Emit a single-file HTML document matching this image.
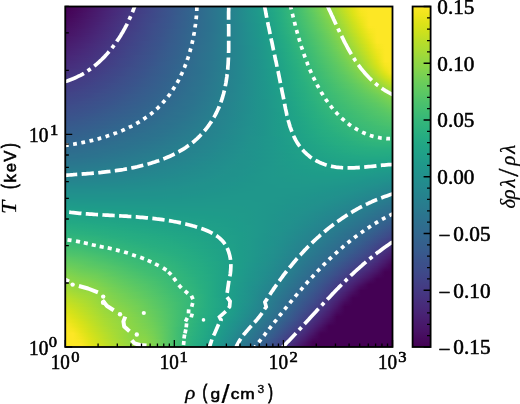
<!DOCTYPE html>
<html><head><meta charset="utf-8"><title>plot</title>
<style>
html,body{margin:0;padding:0;background:#fff}
body{width:520px;height:404px;position:relative;overflow:hidden;font-family:"Liberation Serif",serif}
#h{position:absolute;left:65px;top:6px;width:328px;height:341px;overflow:hidden}
#h i{display:block;height:1px;width:100%}
#cb{position:absolute;left:412px;top:6px;width:19px;height:341px;background:linear-gradient(180deg,#fde725,#efe51c,#dde318,#cde11d,#bade28,#aadc32,#98d83e,#89d548,#77d153,#67cc5c,#5ac864,#4cc26c,#40bd72,#35b779,#2db27d,#25ac82,#21a585,#1fa088,#1f998a,#20938c,#228d8d,#24878e,#26818e,#297b8e,#2b748e,#2e6e8e,#31688e,#34618d,#375b8d,#3a538b,#3d4d8a,#404588,#433d84,#453581,#472d7b,#482576,#481c6e,#481467,#460a5d,#440154)}
svg{position:absolute;left:0;top:0}
text{font-family:"Liberation Serif",serif;fill:#000}
.k text{stroke:#000;stroke-width:0.55px}
text.s{font-family:"Liberation Sans",sans-serif}
text.si{font-style:italic}
</style></head><body>
<div id="h">
<i style="background:linear-gradient(90deg,#440154,#450559,#460b5e,#471365,#481a6c,#482071,#482878,#472e7c,#463480,#443b84,#424186,#3f4788,#3d4e8a,#3a538b,#38598c,#355f8d,#32658e,#2f6b8e,#2d718e,#2a778e,#287d8e,#25838e,#228b8d,#20928c,#1f998a,#1fa188,#22a884,#28ae80,#34b679,#40bd72,#52c569,#65cb5e,#7cd250,#93d741,#addc30,#cae11f,#e5e419,#fbe723,#fde725,#fde725,#fde725,#fde725)"></i>
<i style="background:linear-gradient(90deg,#440154,#450559,#460b5e,#471365,#481a6c,#482071,#482878,#472e7c,#453581,#443b84,#424186,#3f4788,#3d4e8a,#3a538b,#375a8c,#355f8d,#32658e,#2f6b8e,#2d718e,#2a778e,#287d8e,#25838e,#228b8d,#20928c,#1f998a,#1fa188,#22a785,#28ae80,#32b67a,#40bd72,#52c569,#65cb5e,#7ad151,#93d741,#addc30,#c8e020,#e2e418,#fbe723,#fde725,#fde725,#fde725,#fde725)"></i>
<i style="background:linear-gradient(90deg,#440154,#46075a,#470d60,#471365,#481b6d,#482173,#482878,#472f7d,#453581,#443b84,#424186,#3f4889,#3d4e8a,#3a538b,#375a8c,#355f8d,#32658e,#2f6b8e,#2d718e,#2a778e,#287d8e,#25838e,#238a8d,#20928c,#1f998a,#1fa188,#22a785,#28ae80,#32b67a,#40bd72,#52c569,#65cb5e,#7ad151,#90d743,#aadc32,#c8e020,#e2e418,#fbe723,#fde725,#fde725,#fde725,#fde725)"></i>
<i style="background:linear-gradient(90deg,#440154,#46075a,#470d60,#481467,#481b6d,#482173,#482878,#472f7d,#453581,#443b84,#414287,#3f4889,#3d4e8a,#3a538b,#375a8c,#355f8d,#32658e,#2f6b8e,#2d718e,#2a778e,#287d8e,#25838e,#238a8d,#20928c,#1f998a,#1fa088,#22a785,#28ae80,#32b67a,#40bd72,#50c46a,#63cb5f,#7ad151,#90d743,#aadc32,#c5e021,#e2e418,#f8e621,#fde725,#fde725,#fde725,#fde725)"></i>
<i style="background:linear-gradient(90deg,#440256,#46075a,#470d60,#481467,#481b6d,#482173,#482979,#472f7d,#453581,#433d84,#414287,#3f4889,#3d4e8a,#3a548c,#375a8c,#355f8d,#32658e,#2f6b8e,#2d718e,#2a778e,#287d8e,#25838e,#238a8d,#20928c,#1f988b,#1fa088,#22a785,#28ae80,#32b67a,#3fbc73,#50c46a,#63cb5f,#77d153,#8ed645,#a8db34,#c5e021,#dfe318,#f8e621,#fde725,#fde725,#fde725,#fde725)"></i>
<i style="background:linear-gradient(90deg,#440256,#46085c,#470e61,#481467,#481b6d,#482374,#482979,#472f7d,#453781,#433d84,#414287,#3f4889,#3d4e8a,#3a548c,#375a8c,#34608d,#32658e,#2f6b8e,#2d718e,#2a778e,#287d8e,#25838e,#238a8d,#20928c,#1f988b,#1fa088,#22a785,#28ae80,#32b67a,#3fbc73,#50c46a,#63cb5f,#77d153,#8ed645,#a8db34,#c2df23,#dfe318,#f6e620,#fde725,#fde725,#fde725,#fde725)"></i>
<i style="background:linear-gradient(90deg,#450457,#46085c,#470e61,#481668,#481c6e,#482374,#482979,#46307e,#453781,#433d84,#414287,#3f4889,#3c4f8a,#3a548c,#375a8c,#34608d,#32658e,#2f6b8e,#2d718e,#2a778e,#287d8e,#25838e,#238a8d,#20928c,#1f988b,#1fa088,#21a685,#27ad81,#32b67a,#3fbc73,#50c46a,#60ca60,#75d054,#8bd646,#a5db36,#c2df23,#dde318,#f6e620,#fde725,#fde725,#fde725,#fde725)"></i>
<i style="background:linear-gradient(90deg,#450457,#46085c,#471063,#481668,#481c6e,#482374,#472a7a,#46307e,#453781,#433d84,#414287,#3e4989,#3c4f8a,#3a548c,#375a8c,#34608d,#32658e,#2f6b8e,#2d718e,#2a778e,#287d8e,#25838e,#238a8d,#21918c,#1f988b,#1fa088,#21a685,#27ad81,#31b57b,#3fbc73,#4ec36b,#60ca60,#75d054,#8bd646,#a5db36,#c0df25,#dde318,#f4e61e,#fde725,#fde725,#fde725,#fde725)"></i>
<i style="background:linear-gradient(90deg,#450559,#460a5d,#471063,#481769,#481d6f,#482475,#472a7a,#46307e,#453781,#433e85,#414487,#3e4989,#3c4f8a,#3a548c,#375a8c,#34608d,#32658e,#2f6b8e,#2d718e,#2a778e,#287d8e,#25838e,#238a8d,#21918c,#1f988b,#1f9f88,#21a685,#27ad81,#31b57b,#3fbc73,#4ec36b,#5ec962,#73d056,#89d548,#a2da37,#bddf26,#dae319,#f4e61e,#fde725,#fde725,#fde725,#fde725)"></i>
<i style="background:linear-gradient(90deg,#450559,#460a5d,#471063,#481769,#481d6f,#482475,#472a7a,#46327e,#453882,#433e85,#414487,#3e4989,#3c4f8a,#3a548c,#375b8d,#34608d,#32658e,#2f6b8e,#2d718e,#2a778e,#287d8e,#25838e,#238a8d,#21918c,#1f988b,#1f9f88,#21a685,#27ad81,#31b57b,#3dbc74,#4ec36b,#5ec962,#73d056,#89d548,#a0da39,#bddf26,#dae319,#f4e61e,#fde725,#fde725,#fde725,#fde725)"></i>
<i style="background:linear-gradient(90deg,#450559,#460b5e,#471164,#481769,#481d6f,#482475,#472c7a,#46327e,#453882,#433e85,#414487,#3e4989,#3c4f8a,#3a548c,#375b8d,#34608d,#31668e,#2f6b8e,#2d718e,#2a778e,#287d8e,#25838e,#238a8d,#21918c,#1f978b,#1f9f88,#21a685,#27ad81,#31b57b,#3dbc74,#4cc26c,#5ec962,#70cf57,#86d549,#a0da39,#bade28,#d8e219,#f1e51d,#fde725,#fde725,#fde725,#fde725)"></i>
<i style="background:linear-gradient(90deg,#46075a,#460b5e,#471164,#48186a,#481f70,#482576,#472c7a,#46327e,#453882,#433e85,#414487,#3e4989,#3c4f8a,#39558c,#375b8d,#34608d,#31668e,#2f6b8e,#2d718e,#2a778e,#287d8e,#25838e,#238a8d,#21918c,#1f978b,#1f9f88,#21a585,#26ad81,#31b57b,#3dbc74,#4cc26c,#5cc863,#70cf57,#86d549,#9dd93b,#bade28,#d5e21a,#efe51c,#fde725,#fde725,#fde725,#fde725)"></i>
<i style="background:linear-gradient(90deg,#46075a,#470d60,#471365,#48186a,#481f70,#482576,#472c7a,#46337f,#443983,#423f85,#404588,#3e4a89,#3c508b,#39558c,#375b8d,#34608d,#31668e,#2f6b8e,#2d718e,#2a778e,#287d8e,#25838e,#238a8d,#21918c,#1f978b,#1f9f88,#21a585,#26ad81,#31b57b,#3dbc74,#4cc26c,#5cc863,#6ece58,#84d44b,#9dd93b,#b8de29,#d5e21a,#efe51c,#fde725,#fde725,#fde725,#fde725)"></i>
<i style="background:linear-gradient(90deg,#46085c,#470d60,#471365,#481a6c,#481f70,#482677,#472d7b,#46337f,#443983,#423f85,#404588,#3e4a89,#3c508b,#39558c,#375b8d,#34608d,#31668e,#2f6c8e,#2c718e,#2a778e,#287d8e,#25838e,#238a8d,#21918c,#1f978b,#1f9e89,#21a585,#26ad81,#2fb47c,#3dbc74,#4ac16d,#5cc863,#6ece58,#81d34d,#9bd93c,#b5de2b,#d2e21b,#ece51b,#fde725,#fde725,#fde725,#fde725)"></i>
<i style="background:linear-gradient(90deg,#46085c,#470e61,#481467,#481a6c,#482071,#482677,#472d7b,#46337f,#443983,#423f85,#404588,#3e4a89,#3c508b,#39558c,#375b8d,#34608d,#31668e,#2f6c8e,#2c718e,#2a778e,#287d8e,#25838e,#238a8d,#21918c,#1f978b,#1f9e89,#21a585,#26ad81,#2fb47c,#3bbb75,#4ac16d,#5ac864,#6ccd5a,#81d34d,#98d83e,#b5de2b,#d2e21b,#ece51b,#fde725,#fde725,#fde725,#fde725)"></i>
<i style="background:linear-gradient(90deg,#460a5d,#470e61,#481467,#481a6c,#482071,#482677,#472d7b,#463480,#443a83,#423f85,#404588,#3e4a89,#3c508b,#39558c,#375b8d,#34618d,#31668e,#2f6c8e,#2c718e,#2a778e,#287d8e,#25838e,#238a8d,#21918c,#1f978b,#1f9e89,#21a585,#26ad81,#2fb47c,#3bbb75,#4ac16d,#5ac864,#6ccd5a,#7fd34e,#98d83e,#b2dd2d,#d0e11c,#eae51a,#fde725,#fde725,#fde725,#fde725)"></i>
<i style="background:linear-gradient(90deg,#460a5d,#471063,#481467,#481b6d,#482173,#482878,#472e7c,#463480,#443a83,#424086,#404688,#3e4a89,#3c508b,#39558c,#375b8d,#34618d,#31668e,#2f6c8e,#2c718e,#2a778e,#287d8e,#25838e,#238a8d,#21908d,#1f978b,#1f9e89,#20a486,#25ac82,#2fb47c,#3bbb75,#48c16e,#58c765,#69cd5b,#7fd34e,#95d840,#b2dd2d,#cde11d,#eae51a,#fde725,#fde725,#fde725,#fde725)"></i>
<i style="background:linear-gradient(90deg,#460b5e,#471063,#481668,#481b6d,#482173,#482878,#472e7c,#463480,#443a83,#424086,#404688,#3e4c8a,#3b518b,#39568c,#365c8d,#34618d,#31668e,#2f6c8e,#2c718e,#2a778e,#287d8e,#25838e,#23898e,#21908d,#1f968b,#1f9e89,#20a486,#25ac82,#2eb37c,#3aba76,#48c16e,#58c765,#69cd5b,#7cd250,#95d840,#b0dd2f,#cde11d,#e7e419,#fde725,#fde725,#fde725,#fde725)"></i>
<i style="background:linear-gradient(90deg,#460b5e,#471164,#481668,#481c6e,#482173,#482878,#472f7d,#453581,#443a83,#424086,#404688,#3e4c8a,#3b518b,#39568c,#365c8d,#34618d,#31668e,#2f6c8e,#2c718e,#2a778e,#287d8e,#25838e,#23898e,#21908d,#1f968b,#1e9d89,#20a486,#25ac82,#2eb37c,#3aba76,#48c16e,#56c667,#67cc5c,#7cd250,#93d741,#addc30,#cae11f,#e7e419,#fde725,#fde725,#fde725,#fde725)"></i>
<i style="background:linear-gradient(90deg,#470d60,#471164,#481769,#481c6e,#482374,#482979,#472f7d,#453581,#443b84,#424186,#404688,#3e4c8a,#3b518b,#39568c,#365c8d,#34618d,#31678e,#2f6c8e,#2c718e,#2a778e,#287d8e,#25838e,#23898e,#21908d,#1f968b,#1e9d89,#20a486,#25ac82,#2eb37c,#3aba76,#46c06f,#56c667,#67cc5c,#7ad151,#90d743,#addc30,#c8e020,#e5e419,#fde725,#fde725,#fde725,#fde725)"></i>
<i style="background:linear-gradient(90deg,#470d60,#471365,#481769,#481d6f,#482374,#482979,#472f7d,#453581,#443b84,#424186,#3f4788,#3e4c8a,#3b518b,#39568c,#365c8d,#34618d,#31678e,#2f6c8e,#2c718e,#2a778e,#287d8e,#25838e,#23898e,#21908d,#1f968b,#1e9d89,#20a486,#25ac82,#2eb37c,#38b977,#46c06f,#56c667,#67cc5c,#7ad151,#90d743,#aadc32,#c8e020,#e2e418,#fbe723,#fde725,#fde725,#fde725)"></i>
<i style="background:linear-gradient(90deg,#470e61,#471365,#48186a,#481d6f,#482475,#472a7a,#46307e,#453781,#443b84,#424186,#3f4788,#3d4d8a,#3b518b,#39568c,#365c8d,#34618d,#31678e,#2f6c8e,#2c718e,#2a778e,#287d8e,#25838e,#23898e,#21908d,#1f968b,#1e9d89,#20a386,#25ab82,#2db27d,#38b977,#46c06f,#54c568,#65cb5e,#77d153,#8ed645,#a8db34,#c5e021,#e2e418,#fbe723,#fde725,#fde725,#fde725)"></i>
<i style="background:linear-gradient(90deg,#471063,#481467,#48186a,#481f70,#482475,#472a7a,#46307e,#453781,#433d84,#424186,#3f4788,#3d4d8a,#3b528b,#39568c,#365c8d,#33628d,#31678e,#2f6c8e,#2c718e,#2a778e,#287d8e,#25838e,#23898e,#21908d,#1f968b,#1e9d89,#20a386,#25ab82,#2db27d,#38b977,#44bf70,#54c568,#65cb5e,#77d153,#8ed645,#a8db34,#c5e021,#dfe318,#f8e621,#fde725,#fde725,#fde725)"></i>
<i style="background:linear-gradient(90deg,#471063,#481467,#481a6c,#481f70,#482576,#472a7a,#46307e,#453781,#433d84,#414287,#3f4788,#3d4d8a,#3b528b,#38588c,#365d8d,#33628d,#31678e,#2e6d8e,#2c718e,#2a778e,#287d8e,#25838e,#23898e,#21908d,#1f968b,#1e9d89,#20a386,#25ab82,#2db27d,#37b878,#44bf70,#52c569,#63cb5f,#75d054,#8bd646,#a5db36,#c2df23,#dde318,#f6e620,#fde725,#fde725,#fde725)"></i>
<i style="background:linear-gradient(90deg,#471164,#481668,#481a6c,#482071,#482576,#472c7a,#46327e,#453882,#433d84,#414287,#3f4889,#3d4d8a,#3b528b,#38588c,#365d8d,#33628d,#31678e,#2e6d8e,#2c718e,#2a778e,#287d8e,#25838e,#23898e,#21908d,#1f958b,#1e9c89,#20a386,#25ab82,#2cb17e,#37b878,#44bf70,#52c569,#63cb5f,#75d054,#8bd646,#a5db36,#c0df25,#dde318,#f6e620,#fde725,#fde725,#fde725)"></i>
<i style="background:linear-gradient(90deg,#471164,#481668,#481b6d,#482071,#482677,#472c7a,#46327e,#453882,#433e85,#414287,#3f4889,#3d4e8a,#3b528b,#38588c,#365d8d,#33628d,#31678e,#2e6d8e,#2c718e,#2a778e,#287d8e,#25838e,#23898e,#21908d,#1f958b,#1e9c89,#20a386,#24aa83,#2cb17e,#37b878,#42be71,#52c569,#60ca60,#73d056,#89d548,#a2da37,#c0df25,#dae319,#f4e61e,#fde725,#fde725,#fde725)"></i>
<i style="background:linear-gradient(90deg,#471365,#481769,#481b6d,#482071,#482677,#472d7b,#46337f,#453882,#433e85,#414487,#3f4889,#3d4e8a,#3b528b,#38588c,#365d8d,#33628d,#31678e,#2e6d8e,#2c728e,#2a778e,#287d8e,#25838e,#23898e,#218f8d,#1f958b,#1e9c89,#1fa287,#24aa83,#2cb17e,#35b779,#42be71,#50c46a,#60ca60,#73d056,#86d549,#a0da39,#bddf26,#dae319,#f4e61e,#fde725,#fde725,#fde725)"></i>
<i style="background:linear-gradient(90deg,#471365,#481769,#481c6e,#482173,#482677,#472d7b,#46337f,#443983,#433e85,#414487,#3f4889,#3d4e8a,#3a538b,#38588c,#365d8d,#33628d,#31688e,#2e6d8e,#2c728e,#2a778e,#277e8e,#25838e,#23898e,#218f8d,#1f958b,#1e9c89,#1fa287,#24aa83,#2cb17e,#35b779,#42be71,#50c46a,#5ec962,#70cf57,#86d549,#a0da39,#bade28,#d8e219,#f1e51d,#fde725,#fde725,#fde725)"></i>
<i style="background:linear-gradient(90deg,#481467,#48186a,#481c6e,#482173,#482878,#472e7c,#46337f,#443983,#423f85,#414487,#3e4989,#3d4e8a,#3a538b,#38598c,#355e8d,#33638d,#31688e,#2e6d8e,#2c728e,#2a788e,#277e8e,#25838e,#23898e,#218f8d,#1f958b,#1e9c89,#1fa287,#24aa83,#2ab07f,#35b779,#40bd72,#4ec36b,#5ec962,#70cf57,#84d44b,#9dd93b,#b8de29,#d5e21a,#efe51c,#fde725,#fde725,#fde725)"></i>
<i style="background:linear-gradient(90deg,#481467,#48186a,#481d6f,#482374,#482878,#472e7c,#463480,#443a83,#423f85,#404588,#3e4989,#3c4f8a,#3a538b,#38598c,#355e8d,#33638d,#31688e,#2e6d8e,#2c728e,#2a788e,#277e8e,#25838e,#23898e,#218f8d,#1f958b,#1e9c89,#1fa287,#23a983,#2ab07f,#34b679,#40bd72,#4ec36b,#5cc863,#6ece58,#84d44b,#9bd93c,#b8de29,#d5e21a,#efe51c,#fde725,#fde725,#fde725)"></i>
<i style="background:linear-gradient(90deg,#481668,#481a6c,#481d6f,#482374,#482979,#472e7c,#463480,#443a83,#423f85,#404588,#3e4989,#3c4f8a,#3a538b,#38598c,#355e8d,#33638d,#31688e,#2e6d8e,#2c728e,#2a788e,#277e8e,#25838e,#23898e,#218f8d,#1f958b,#1e9b8a,#1fa287,#23a983,#2ab07f,#34b679,#3fbc73,#4ec36b,#5cc863,#6ece58,#81d34d,#9bd93c,#b5de2b,#d2e21b,#ece51b,#fde725,#fde725,#fde725)"></i>
<i style="background:linear-gradient(90deg,#481769,#481b6d,#481f70,#482475,#482979,#472f7d,#463480,#443a83,#424086,#404588,#3e4a89,#3c4f8a,#3a548c,#38598c,#355e8d,#33638d,#31688e,#2e6d8e,#2c728e,#2a788e,#277e8e,#25838e,#23898e,#218f8d,#1f958b,#1e9b8a,#1fa187,#23a983,#29af7f,#34b679,#3fbc73,#4cc26c,#5cc863,#6ccd5a,#81d34d,#98d83e,#b2dd2d,#d0e11c,#ece51b,#fde725,#fde725,#fde725)"></i>
<i style="background:linear-gradient(90deg,#481769,#481b6d,#482071,#482475,#472a7a,#472f7d,#453581,#443b84,#424086,#404588,#3e4a89,#3c4f8a,#3a548c,#38598c,#355e8d,#33638d,#31688e,#2e6e8e,#2c728e,#2a788e,#277e8e,#25838e,#23898e,#218f8d,#1f948c,#1e9b8a,#1fa187,#23a983,#29af7f,#32b67a,#3fbc73,#4cc26c,#5ac864,#6ccd5a,#7fd34e,#95d840,#b2dd2d,#cde11d,#eae51a,#fde725,#fde725,#fde725)"></i>
<i style="background:linear-gradient(90deg,#48186a,#481c6e,#482071,#482576,#472a7a,#46307e,#453581,#443b84,#424086,#404688,#3e4a89,#3c4f8a,#3a548c,#375a8c,#355e8d,#33638d,#31688e,#2e6e8e,#2c728e,#2a788e,#277e8e,#25838e,#23898e,#218f8d,#1f948c,#1e9b8a,#1fa187,#22a884,#29af7f,#32b67a,#3dbc74,#4ac16d,#5ac864,#69cd5b,#7fd34e,#95d840,#b0dd2f,#cde11d,#e7e419,#fde725,#fde725,#fde725)"></i>
<i style="background:linear-gradient(90deg,#48186a,#481c6e,#482173,#482576,#472c7a,#46307e,#453781,#443b84,#424186,#404688,#3e4a89,#3c508b,#3a548c,#375a8c,#355f8d,#32648e,#30698e,#2e6e8e,#2c728e,#2a788e,#277e8e,#25838e,#23898e,#218f8d,#1f948c,#1e9b8a,#1fa187,#22a884,#29af7f,#32b67a,#3dbc74,#4ac16d,#58c765,#69cd5b,#7cd250,#93d741,#addc30,#cae11f,#e7e419,#fde725,#fde725,#fde725)"></i>
<i style="background:linear-gradient(90deg,#481a6c,#481d6f,#482173,#482677,#472c7a,#46327e,#453781,#433d84,#424186,#404688,#3e4c8a,#3c508b,#3a548c,#375a8c,#355f8d,#32648e,#30698e,#2e6e8e,#2c728e,#2a788e,#277e8e,#25838e,#23898e,#218f8d,#1f948c,#1e9b8a,#1fa187,#22a884,#28ae80,#32b67a,#3dbc74,#4ac16d,#58c765,#67cc5c,#7ad151,#90d743,#addc30,#c8e020,#e5e419,#fde725,#fde725,#fde725)"></i>
<i style="background:linear-gradient(90deg,#481b6d,#481d6f,#482374,#482677,#472d7b,#46327e,#453781,#433d84,#424186,#3f4788,#3e4c8a,#3c508b,#39558c,#375a8c,#355f8d,#32648e,#30698e,#2e6e8e,#2c738e,#2a788e,#277e8e,#25838e,#23898e,#218f8d,#1f948c,#1e9b8a,#1fa188,#22a884,#28ae80,#31b57b,#3bbb75,#48c16e,#56c667,#67cc5c,#7ad151,#90d743,#aadc32,#c8e020,#e2e418,#fde725,#fde725,#fde725)"></i>
<i style="background:linear-gradient(90deg,#481b6d,#481f70,#482374,#482878,#472d7b,#46327e,#453882,#433d84,#414287,#3f4788,#3e4c8a,#3b518b,#39558c,#375b8d,#355f8d,#32648e,#30698e,#2e6e8e,#2c738e,#2a788e,#277e8e,#25838e,#23898e,#218f8d,#1f948c,#1f9a8a,#1fa188,#22a785,#28ae80,#31b57b,#3bbb75,#48c16e,#56c667,#65cb5e,#77d153,#8ed645,#a8db34,#c5e021,#e2e418,#fbe723,#fde725,#fde725)"></i>
<i style="background:linear-gradient(90deg,#481c6e,#482071,#482475,#482979,#472e7c,#46337f,#453882,#433e85,#414287,#3f4788,#3e4c8a,#3b518b,#39558c,#375b8d,#355f8d,#32648e,#30698e,#2e6e8e,#2c738e,#2a788e,#277e8e,#25838e,#23898e,#218f8d,#1f948c,#1f9a8a,#1fa188,#22a785,#27ad81,#31b57b,#3bbb75,#48c16e,#56c667,#65cb5e,#77d153,#8ed645,#a8db34,#c2df23,#dfe318,#f8e621,#fde725,#fde725)"></i>
<i style="background:linear-gradient(90deg,#481c6e,#482071,#482475,#482979,#472e7c,#46337f,#443983,#433e85,#414287,#3f4788,#3d4d8a,#3b518b,#39558c,#375b8d,#34608d,#32648e,#30698e,#2e6f8e,#2c738e,#2a788e,#277e8e,#25838e,#23888e,#218e8d,#1f948c,#1f9a8a,#1fa188,#22a785,#27ad81,#2fb47c,#3aba76,#46c06f,#54c568,#63cb5f,#75d054,#8bd646,#a5db36,#c0df25,#dde318,#f8e621,#fde725,#fde725)"></i>
<i style="background:linear-gradient(90deg,#481d6f,#482173,#482576,#472a7a,#472f7d,#463480,#443983,#433e85,#414487,#3f4889,#3d4d8a,#3b518b,#39568c,#375b8d,#34608d,#32658e,#306a8e,#2e6f8e,#2c738e,#2a788e,#277e8e,#25838e,#23888e,#218e8d,#1f948c,#1f9a8a,#1fa188,#22a785,#27ad81,#2fb47c,#3aba76,#46c06f,#54c568,#63cb5f,#75d054,#89d548,#a2da37,#c0df25,#dde318,#f6e620,#fde725,#fde725)"></i>
<i style="background:linear-gradient(90deg,#481f70,#482173,#482576,#472a7a,#472f7d,#463480,#443983,#423f85,#414487,#3f4889,#3d4d8a,#3b528b,#39568c,#375b8d,#34608d,#32658e,#306a8e,#2e6f8e,#2c738e,#2a788e,#277e8e,#25838e,#23888e,#218e8d,#20938c,#1f9a8a,#1fa188,#22a785,#27ad81,#2fb47c,#3aba76,#44bf70,#52c569,#60ca60,#73d056,#89d548,#a0da39,#bddf26,#dae319,#f6e620,#fde725,#fde725)"></i>
<i style="background:linear-gradient(90deg,#481f70,#482374,#482677,#472c7a,#46307e,#453581,#443a83,#423f85,#414487,#3f4889,#3d4e8a,#3b528b,#39568c,#365c8d,#34608d,#32658e,#306a8e,#2e6f8e,#2c738e,#29798e,#277e8e,#25838e,#23888e,#218e8d,#20938c,#1f9a8a,#1fa088,#21a685,#26ad81,#2eb37c,#38b977,#44bf70,#52c569,#60ca60,#73d056,#86d549,#a0da39,#bade28,#d8e219,#f4e61e,#fde725,#fde725)"></i>
<i style="background:linear-gradient(90deg,#482071,#482374,#482878,#472c7a,#46307e,#453581,#443a83,#423f85,#404588,#3e4989,#3d4e8a,#3b528b,#39568c,#365c8d,#34608d,#32658e,#306a8e,#2e6f8e,#2c738e,#29798e,#277e8e,#25838e,#23888e,#218e8d,#20938c,#1f9a8a,#1fa088,#21a685,#26ad81,#2eb37c,#38b977,#44bf70,#52c569,#60ca60,#70cf57,#84d44b,#9dd93b,#bade28,#d8e219,#f1e51d,#fde725,#fde725)"></i>
<i style="background:linear-gradient(90deg,#482071,#482475,#482878,#472d7b,#46327e,#453781,#443b84,#424086,#404588,#3e4989,#3d4e8a,#3b528b,#38588c,#365c8d,#34618d,#32658e,#306a8e,#2e6f8e,#2c738e,#29798e,#277e8e,#25838e,#23888e,#218e8d,#20938c,#1f998a,#1fa088,#21a685,#26ad81,#2eb37c,#38b977,#42be71,#50c46a,#5ec962,#70cf57,#84d44b,#9bd93c,#b8de29,#d5e21a,#f1e51d,#fde725,#fde725)"></i>
<i style="background:linear-gradient(90deg,#482173,#482576,#482979,#472d7b,#46327e,#453781,#443b84,#424086,#404588,#3e4989,#3d4e8a,#3a538b,#38588c,#365c8d,#34618d,#31668e,#306a8e,#2e6f8e,#2c738e,#29798e,#277e8e,#25838e,#23888e,#218e8d,#20938c,#1f998a,#1fa088,#21a685,#26ad81,#2eb37c,#37b878,#42be71,#50c46a,#5ec962,#6ece58,#81d34d,#9bd93c,#b5de2b,#d2e21b,#efe51c,#fde725,#fde725)"></i>
<i style="background:linear-gradient(90deg,#482374,#482576,#482979,#472e7c,#46337f,#453781,#443b84,#424086,#404688,#3e4a89,#3c4f8a,#3a538b,#38588c,#365d8d,#34618d,#31668e,#2f6b8e,#2e6f8e,#2b748e,#29798e,#277e8e,#25838e,#23888e,#218e8d,#20938c,#1f998a,#1fa088,#21a585,#25ac82,#2db27d,#37b878,#42be71,#4ec36b,#5cc863,#6ccd5a,#81d34d,#98d83e,#b2dd2d,#d0e11c,#efe51c,#fde725,#fde725)"></i>
<i style="background:linear-gradient(90deg,#482374,#482677,#472a7a,#472e7c,#46337f,#453882,#433d84,#424186,#404688,#3e4a89,#3c4f8a,#3a538b,#38588c,#365d8d,#34618d,#31668e,#2f6b8e,#2d708e,#2b748e,#29798e,#277e8e,#25838e,#23888e,#218e8d,#20938c,#1f998a,#1fa088,#21a585,#25ac82,#2db27d,#37b878,#40bd72,#4ec36b,#5cc863,#6ccd5a,#7fd34e,#95d840,#b2dd2d,#d0e11c,#ece51b,#fde725,#fde725)"></i>
<i style="background:linear-gradient(90deg,#482475,#482677,#472a7a,#472f7d,#46337f,#453882,#433d84,#424186,#404688,#3e4a89,#3c4f8a,#3a538b,#38598c,#365d8d,#34618d,#31668e,#2f6b8e,#2d708e,#2b748e,#29798e,#277e8e,#25838e,#23888e,#218e8d,#20938c,#1f998a,#1f9f88,#21a585,#25ac82,#2db27d,#37b878,#40bd72,#4ec36b,#5ac864,#69cd5b,#7cd250,#93d741,#b0dd2f,#cde11d,#eae51a,#fde725,#fde725)"></i>
<i style="background:linear-gradient(90deg,#482576,#482878,#472c7a,#472f7d,#463480,#443983,#433e85,#414287,#3f4788,#3e4c8a,#3c508b,#3a548c,#38598c,#365d8d,#33628d,#31668e,#2f6b8e,#2d708e,#2b748e,#29798e,#277e8e,#25838e,#23888e,#218e8d,#20938c,#1f998a,#1f9f88,#21a585,#25ac82,#2cb17e,#35b779,#40bd72,#4cc26c,#5ac864,#69cd5b,#7cd250,#93d741,#addc30,#cae11f,#eae51a,#fde725,#fde725)"></i>
<i style="background:linear-gradient(90deg,#482576,#482979,#472d7b,#46307e,#463480,#443983,#433e85,#414287,#3f4788,#3e4c8a,#3c508b,#3a548c,#38598c,#365d8d,#33628d,#31668e,#2f6b8e,#2d708e,#2b748e,#29798e,#277e8e,#25838e,#23888e,#218e8d,#20938c,#1f998a,#1f9f88,#21a585,#25ab82,#2cb17e,#35b779,#3fbc73,#4cc26c,#58c765,#67cc5c,#7ad151,#90d743,#aadc32,#c8e020,#e7e419,#fde725,#fde725)"></i>
<i style="background:linear-gradient(90deg,#482677,#482979,#472d7b,#46307e,#453581,#443a83,#423f85,#414287,#3f4788,#3e4c8a,#3c508b,#3a548c,#38598c,#355e8d,#33628d,#31678e,#2f6b8e,#2d708e,#2b748e,#29798e,#277e8e,#25838e,#23888e,#218e8d,#20938c,#1f998a,#1f9f88,#21a585,#25ab82,#2cb17e,#35b779,#3fbc73,#4ac16d,#58c765,#67cc5c,#7ad151,#8ed645,#a8db34,#c8e020,#e7e419,#fde725,#fde725)"></i>
<i style="background:linear-gradient(90deg,#482677,#472a7a,#472e7c,#46327e,#453581,#443a83,#423f85,#414487,#3f4889,#3e4c8a,#3c508b,#3a548c,#375a8c,#355e8d,#33628d,#31678e,#2f6b8e,#2d708e,#2b748e,#29798e,#277e8e,#25838e,#23888e,#218e8d,#20938c,#1f998a,#1f9f88,#20a486,#25ab82,#2cb17e,#34b679,#3fbc73,#4ac16d,#56c667,#65cb5e,#77d153,#8ed645,#a8db34,#c5e021,#e5e419,#fde725,#fde725)"></i>
<i style="background:linear-gradient(90deg,#482878,#472a7a,#472e7c,#46327e,#453781,#443b84,#423f85,#414487,#3f4889,#3d4d8a,#3b518b,#39558c,#375a8c,#355e8d,#33638d,#31678e,#2f6c8e,#2d708e,#2b748e,#29798e,#277f8e,#25838e,#23888e,#218e8d,#20928c,#1f988b,#1f9f88,#20a486,#25ab82,#2ab07f,#34b679,#3dbc74,#4ac16d,#56c667,#65cb5e,#75d054,#8bd646,#a5db36,#c2df23,#e2e418,#fde725,#fde725)"></i>
<i style="background:linear-gradient(90deg,#482979,#472c7a,#472f7d,#46337f,#453781,#443b84,#424086,#404588,#3f4889,#3d4d8a,#3b518b,#39558c,#375a8c,#355e8d,#33638d,#31678e,#2f6c8e,#2d718e,#2b748e,#29798e,#277f8e,#25838e,#23888e,#218e8d,#20928c,#1f988b,#1f9f88,#20a486,#25ab82,#2ab07f,#34b679,#3dbc74,#48c16e,#56c667,#63cb5f,#75d054,#89d548,#a2da37,#c0df25,#dfe318,#fde725,#fde725)"></i>
<i style="background:linear-gradient(90deg,#482979,#472d7b,#472f7d,#46337f,#453882,#433d84,#424086,#404588,#3e4989,#3d4d8a,#3b518b,#39558c,#375a8c,#355f8d,#33638d,#31678e,#2f6c8e,#2d718e,#2b758e,#297a8e,#277f8e,#25838e,#23888e,#218e8d,#20928c,#1f988b,#1f9e89,#20a486,#24aa83,#2ab07f,#32b67a,#3dbc74,#48c16e,#54c568,#63cb5f,#73d056,#86d549,#a0da39,#bddf26,#dfe318,#fde725,#fde725)"></i>
<i style="background:linear-gradient(90deg,#472a7a,#472d7b,#46307e,#463480,#453882,#433d84,#424186,#404588,#3e4989,#3d4e8a,#3b528b,#39568c,#375b8d,#355f8d,#33638d,#31688e,#2f6c8e,#2d718e,#2b758e,#297a8e,#277f8e,#25838e,#23888e,#218e8d,#20928c,#1f988b,#1f9e89,#20a486,#24aa83,#2ab07f,#32b67a,#3bbb75,#48c16e,#54c568,#60ca60,#70cf57,#86d549,#9dd93b,#bade28,#dde318,#fbe723,#fde725)"></i>
<i style="background:linear-gradient(90deg,#472c7a,#472e7c,#46327e,#453581,#443983,#433d84,#424186,#404688,#3e4989,#3d4e8a,#3b528b,#39568c,#375b8d,#355f8d,#33638d,#31688e,#2f6c8e,#2d718e,#2b758e,#297a8e,#277f8e,#25838e,#23888e,#218e8d,#20928c,#1f988b,#1f9e89,#20a386,#24aa83,#29af7f,#32b67a,#3bbb75,#46c06f,#52c569,#60ca60,#70cf57,#84d44b,#9bd93c,#bade28,#dae319,#f8e621,#fde725)"></i>
<i style="background:linear-gradient(90deg,#472c7a,#472f7d,#46327e,#453581,#443983,#433e85,#424186,#404688,#3e4a89,#3d4e8a,#3b528b,#39568c,#375b8d,#355f8d,#32648e,#31688e,#2e6d8e,#2d718e,#2b758e,#297a8e,#277f8e,#25838e,#23888e,#218e8d,#20928c,#1f988b,#1f9e89,#20a386,#24aa83,#29af7f,#32b67a,#3bbb75,#46c06f,#52c569,#5ec962,#6ece58,#81d34d,#9bd93c,#b8de29,#d8e219,#f8e621,#fde725)"></i>
<i style="background:linear-gradient(90deg,#472d7b,#472f7d,#46337f,#453781,#443a83,#433e85,#414287,#404688,#3e4a89,#3c4f8a,#3a538b,#39568c,#375b8d,#34608d,#32648e,#31688e,#2e6d8e,#2d718e,#2b758e,#297a8e,#277f8e,#25838e,#23888e,#218e8d,#20928c,#1f988b,#1f9e89,#20a386,#23a983,#29af7f,#31b57b,#3aba76,#44bf70,#50c46a,#5ec962,#6ece58,#7fd34e,#98d83e,#b5de2b,#d5e21a,#f6e620,#fde725)"></i>
<i style="background:linear-gradient(90deg,#472e7c,#46307e,#46337f,#453781,#443a83,#423f85,#414287,#3f4788,#3e4a89,#3c4f8a,#3a538b,#38588c,#365c8d,#34608d,#32648e,#31688e,#2e6d8e,#2d718e,#2b758e,#297a8e,#277f8e,#25838e,#23888e,#218e8d,#20928c,#1f988b,#1f9e89,#20a386,#23a983,#29af7f,#31b57b,#3aba76,#44bf70,#50c46a,#5cc863,#6ccd5a,#7fd34e,#95d840,#b2dd2d,#d2e21b,#f4e61e,#fde725)"></i>
<i style="background:linear-gradient(90deg,#472e7c,#46307e,#463480,#453882,#443b84,#423f85,#414487,#3f4788,#3e4c8a,#3c4f8a,#3a538b,#38588c,#365c8d,#34608d,#32648e,#30698e,#2e6d8e,#2c718e,#2b758e,#297a8e,#277f8e,#25838e,#23888e,#228d8d,#20928c,#1f988b,#1f9e89,#20a386,#23a983,#28ae80,#31b57b,#3aba76,#44bf70,#50c46a,#5cc863,#69cd5b,#7cd250,#93d741,#b0dd2f,#d0e11c,#f1e51d,#fde725)"></i>
<i style="background:linear-gradient(90deg,#472f7d,#46327e,#463480,#453882,#443b84,#424086,#414487,#3f4889,#3e4c8a,#3c508b,#3a538b,#38588c,#365c8d,#34608d,#32648e,#30698e,#2e6d8e,#2c718e,#2b758e,#297a8e,#277f8e,#25838e,#23888e,#228d8d,#20928c,#1f988b,#1e9d89,#20a386,#23a983,#28ae80,#2fb47c,#38b977,#42be71,#4ec36b,#5ac864,#69cd5b,#7ad151,#90d743,#addc30,#cde11d,#efe51c,#fde725)"></i>
<i style="background:linear-gradient(90deg,#472f7d,#46337f,#453581,#443983,#433d84,#424086,#404588,#3f4889,#3d4d8a,#3c508b,#3a548c,#38598c,#365c8d,#34608d,#32658e,#30698e,#2e6d8e,#2c718e,#2b758e,#297a8e,#277f8e,#25838e,#23888e,#228d8d,#20928c,#1f978b,#1e9d89,#1fa287,#23a983,#28ae80,#2fb47c,#38b977,#42be71,#4ec36b,#5ac864,#67cc5c,#7ad151,#8ed645,#a8db34,#cae11f,#ece51b,#fde725)"></i>
<i style="background:linear-gradient(90deg,#46307e,#46337f,#453781,#443983,#433d84,#424186,#404588,#3f4889,#3d4d8a,#3c508b,#3a548c,#38598c,#365d8d,#34618d,#32658e,#30698e,#2e6e8e,#2c718e,#2a768e,#297a8e,#277f8e,#25838e,#23888e,#228d8d,#20928c,#1f978b,#1e9d89,#1fa287,#22a884,#28ae80,#2fb47c,#38b977,#42be71,#4cc26c,#58c765,#67cc5c,#77d153,#8bd646,#a5db36,#c5e021,#eae51a,#fde725)"></i>
<i style="background:linear-gradient(90deg,#46327e,#463480,#453781,#443a83,#433e85,#424186,#404588,#3e4989,#3d4d8a,#3b518b,#3a548c,#38598c,#365d8d,#34618d,#32658e,#30698e,#2e6e8e,#2c718e,#2a768e,#297a8e,#277f8e,#25838e,#23888e,#228d8d,#20928c,#1f978b,#1e9d89,#1fa287,#22a884,#27ad81,#2fb47c,#38b977,#40bd72,#4cc26c,#58c765,#65cb5e,#75d054,#89d548,#a2da37,#c2df23,#e5e419,#fde725)"></i>
<i style="background:linear-gradient(90deg,#46327e,#463480,#453882,#443a83,#433e85,#414287,#404688,#3e4989,#3d4e8a,#3b518b,#39558c,#38598c,#365d8d,#34618d,#32658e,#306a8e,#2e6e8e,#2c718e,#2a768e,#297b8e,#277f8e,#25838e,#23888e,#228d8d,#20928c,#1f978b,#1e9d89,#1fa287,#22a884,#27ad81,#2eb37c,#37b878,#40bd72,#4ac16d,#56c667,#63cb5f,#73d056,#86d549,#a0da39,#c0df25,#e2e418,#fde725)"></i>
<i style="background:linear-gradient(90deg,#46337f,#453581,#453882,#443b84,#423f85,#414287,#404688,#3e4a89,#3d4e8a,#3b528b,#39558c,#375a8c,#365d8d,#34618d,#31668e,#306a8e,#2e6e8e,#2c718e,#2a768e,#297b8e,#277f8e,#25838e,#23888e,#228d8d,#20928c,#1f978b,#1e9d89,#1fa287,#22a884,#27ad81,#2eb37c,#37b878,#3fbc73,#4ac16d,#56c667,#63cb5f,#70cf57,#84d44b,#9dd93b,#bddf26,#dde318,#fbe723)"></i>
<i style="background:linear-gradient(90deg,#463480,#453781,#443983,#433d84,#423f85,#414487,#3f4788,#3e4a89,#3d4e8a,#3b528b,#39558c,#375a8c,#355e8d,#33628d,#31668e,#306a8e,#2e6e8e,#2c728e,#2a768e,#297b8e,#277f8e,#25838e,#23888e,#228d8d,#20928c,#1f978b,#1e9d89,#1fa287,#22a884,#27ad81,#2eb37c,#37b878,#3fbc73,#4ac16d,#54c568,#60ca60,#70cf57,#81d34d,#9bd93c,#b8de29,#dae319,#f6e620)"></i>
<i style="background:linear-gradient(90deg,#463480,#453781,#443a83,#433d84,#424086,#414487,#3f4788,#3e4a89,#3c4f8a,#3b528b,#39568c,#375a8c,#355e8d,#33628d,#31668e,#306a8e,#2e6e8e,#2c728e,#2a768e,#297b8e,#27808e,#25838e,#23888e,#228d8d,#20928c,#1f978b,#1e9d89,#1fa187,#22a785,#26ad81,#2db27d,#35b779,#3fbc73,#48c16e,#54c568,#5ec962,#6ece58,#81d34d,#98d83e,#b5de2b,#d5e21a,#f1e51d)"></i>
<i style="background:linear-gradient(90deg,#453581,#453882,#443a83,#433e85,#424086,#404588,#3f4889,#3e4c8a,#3c4f8a,#3a538b,#39568c,#375b8d,#355e8d,#33628d,#31668e,#306a8e,#2e6f8e,#2c728e,#2a768e,#297b8e,#27808e,#25838e,#23888e,#228d8d,#20928c,#1f978b,#1e9c89,#1fa187,#22a785,#26ad81,#2db27d,#35b779,#3dbc74,#48c16e,#52c569,#5ec962,#6ccd5a,#7fd34e,#93d741,#b0dd2f,#d0e11c,#ece51b)"></i>
<i style="background:linear-gradient(90deg,#453781,#443983,#443b84,#433e85,#424186,#404588,#3f4889,#3e4c8a,#3c508b,#3a538b,#39568c,#375b8d,#355f8d,#33628d,#31668e,#2f6b8e,#2e6f8e,#2c728e,#2a768e,#297b8e,#27808e,#25838e,#23888e,#228d8d,#20928c,#1f978b,#1e9c89,#1fa187,#22a785,#26ad81,#2db27d,#35b779,#3dbc74,#46c06f,#52c569,#5cc863,#6ccd5a,#7cd250,#90d743,#addc30,#cde11d,#e7e419)"></i>
<i style="background:linear-gradient(90deg,#453781,#443983,#443b84,#423f85,#414287,#404588,#3e4989,#3d4d8a,#3c508b,#3a538b,#38588c,#375b8d,#355f8d,#33638d,#31678e,#2f6b8e,#2e6f8e,#2c728e,#2a778e,#297b8e,#27808e,#25838e,#23888e,#228d8d,#20928c,#1f978b,#1e9c89,#1fa187,#22a785,#26ad81,#2db27d,#34b679,#3dbc74,#46c06f,#50c46a,#5cc863,#69cd5b,#7ad151,#8ed645,#a8db34,#c8e020,#e2e418)"></i>
<i style="background:linear-gradient(90deg,#453882,#443a83,#433d84,#423f85,#414287,#404688,#3e4989,#3d4d8a,#3c508b,#3a548c,#38588c,#375b8d,#355f8d,#33638d,#31678e,#2f6b8e,#2e6f8e,#2c728e,#2a778e,#297b8e,#27808e,#25848e,#23888e,#228d8d,#20928c,#1f978b,#1e9c89,#1fa187,#22a785,#25ac82,#2cb17e,#34b679,#3bbb75,#44bf70,#50c46a,#5ac864,#67cc5c,#77d153,#8bd646,#a5db36,#c2df23,#dde318)"></i>
<i style="background:linear-gradient(90deg,#453882,#443a83,#433e85,#424086,#414487,#404688,#3e4989,#3d4e8a,#3b518b,#3a548c,#38588c,#365c8d,#355f8d,#33638d,#31678e,#2f6b8e,#2e6f8e,#2c738e,#2a778e,#297b8e,#27808e,#25848e,#23888e,#228d8d,#20928c,#1f978b,#1e9c89,#1fa187,#21a685,#25ac82,#2cb17e,#34b679,#3bbb75,#44bf70,#4ec36b,#5ac864,#65cb5e,#75d054,#89d548,#a0da39,#bddf26,#d8e219)"></i>
<i style="background:linear-gradient(90deg,#443983,#443b84,#433e85,#424086,#414487,#3f4788,#3e4a89,#3d4e8a,#3b518b,#3a548c,#38598c,#365c8d,#34608d,#33638d,#31678e,#2f6b8e,#2e6f8e,#2c738e,#2a778e,#297b8e,#27808e,#25848e,#23888e,#228d8d,#20928c,#1f968b,#1e9c89,#1fa188,#21a685,#25ac82,#2cb17e,#32b67a,#3bbb75,#44bf70,#4ec36b,#58c765,#65cb5e,#73d056,#84d44b,#9dd93b,#b8de29,#d2e21b)"></i>
<i style="background:linear-gradient(90deg,#443a83,#433d84,#423f85,#424186,#404588,#3f4788,#3e4a89,#3d4e8a,#3b528b,#39558c,#38598c,#365c8d,#34608d,#32648e,#31678e,#2f6b8e,#2d708e,#2c738e,#2a778e,#287c8e,#27808e,#25848e,#23888e,#228d8d,#20928c,#1f968b,#1e9c89,#1fa188,#21a685,#25ac82,#2ab07f,#32b67a,#3aba76,#42be71,#4cc26c,#56c667,#63cb5f,#70cf57,#81d34d,#98d83e,#b2dd2d,#cde11d)"></i>
<i style="background:linear-gradient(90deg,#443a83,#433d84,#423f85,#414287,#404588,#3f4889,#3e4c8a,#3c4f8a,#3b528b,#39558c,#38598c,#365d8d,#34608d,#32648e,#31688e,#2f6c8e,#2d708e,#2c738e,#2a778e,#287c8e,#27808e,#25848e,#23888e,#228d8d,#20928c,#1f968b,#1e9c89,#1fa188,#21a685,#25ac82,#2ab07f,#32b67a,#3aba76,#42be71,#4cc26c,#56c667,#60ca60,#6ece58,#7fd34e,#95d840,#b0dd2f,#c8e020)"></i>
<i style="background:linear-gradient(90deg,#443b84,#433e85,#424086,#414287,#404688,#3f4889,#3e4c8a,#3c4f8a,#3b528b,#39568c,#375a8c,#365d8d,#34618d,#32648e,#31688e,#2f6c8e,#2d708e,#2c738e,#2a778e,#287c8e,#27808e,#25848e,#23898e,#228d8d,#20928c,#1f968b,#1e9c89,#1fa188,#21a685,#25ab82,#2ab07f,#31b57b,#3aba76,#40bd72,#4ac16d,#54c568,#5ec962,#6ccd5a,#7cd250,#90d743,#aadc32,#c2df23)"></i>
<i style="background:linear-gradient(90deg,#433d84,#433e85,#424086,#414487,#404688,#3e4989,#3d4d8a,#3c508b,#3a538b,#39568c,#375a8c,#365d8d,#34618d,#32648e,#31688e,#2f6c8e,#2d708e,#2c738e,#2a788e,#287c8e,#27808e,#25848e,#23898e,#228d8d,#20928c,#1f968b,#1e9b8a,#1fa188,#21a585,#25ab82,#2ab07f,#31b57b,#38b977,#40bd72,#4ac16d,#54c568,#5ec962,#69cd5b,#7ad151,#8ed645,#a5db36,#bddf26)"></i>
<i style="background:linear-gradient(90deg,#433d84,#423f85,#424186,#414487,#3f4788,#3e4989,#3d4d8a,#3c508b,#3a538b,#39568c,#375a8c,#355e8d,#34618d,#32658e,#31688e,#2f6c8e,#2d708e,#2b748e,#2a788e,#287c8e,#27808e,#25848e,#23898e,#228d8d,#20928c,#1f968b,#1e9b8a,#1fa188,#21a585,#25ab82,#29af7f,#31b57b,#38b977,#40bd72,#48c16e,#52c569,#5cc863,#69cd5b,#77d153,#89d548,#a0da39,#b8de29)"></i>
<i style="background:linear-gradient(90deg,#433e85,#424086,#414287,#404588,#3f4788,#3e4a89,#3d4e8a,#3b518b,#3a548c,#38588c,#375b8d,#355e8d,#34618d,#32658e,#30698e,#2e6d8e,#2d718e,#2b748e,#2a788e,#287c8e,#26818e,#25848e,#23898e,#228d8d,#20928c,#1f968b,#1e9b8a,#1fa088,#21a585,#25ab82,#29af7f,#2fb47c,#38b977,#3fbc73,#48c16e,#52c569,#5ac864,#67cc5c,#75d054,#86d549,#9bd93c,#b2dd2d)"></i>
<i style="background:linear-gradient(90deg,#433e85,#424086,#414287,#404588,#3f4889,#3e4a89,#3d4e8a,#3b518b,#3a548c,#38588c,#375b8d,#355e8d,#33628d,#32658e,#30698e,#2e6d8e,#2d718e,#2b748e,#2a788e,#287c8e,#26818e,#25848e,#23898e,#228d8d,#20928c,#1f968b,#1e9b8a,#1fa088,#21a585,#24aa83,#29af7f,#2fb47c,#37b878,#3fbc73,#46c06f,#50c46a,#5ac864,#65cb5e,#73d056,#84d44b,#98d83e,#addc30)"></i>
<i style="background:linear-gradient(90deg,#423f85,#424186,#414487,#404688,#3f4889,#3e4c8a,#3c4f8a,#3b528b,#3a548c,#38588c,#365c8d,#355f8d,#33628d,#32658e,#30698e,#2e6d8e,#2d718e,#2b748e,#2a788e,#287c8e,#26818e,#25848e,#23898e,#228d8d,#20928c,#1f968b,#1e9b8a,#1fa088,#21a585,#24aa83,#29af7f,#2fb47c,#37b878,#3fbc73,#46c06f,#4ec36b,#58c765,#63cb5f,#70cf57,#7fd34e,#93d741,#a8db34)"></i>
<i style="background:linear-gradient(90deg,#424086,#424186,#414487,#3f4788,#3e4989,#3e4c8a,#3c4f8a,#3b528b,#39558c,#38598c,#365c8d,#355f8d,#33628d,#31668e,#30698e,#2e6d8e,#2d718e,#2b748e,#2a788e,#287d8e,#26818e,#25848e,#23898e,#228d8d,#20928c,#1f968b,#1e9b8a,#1fa088,#20a486,#24aa83,#28ae80,#2fb47c,#37b878,#3dbc74,#46c06f,#4ec36b,#56c667,#60ca60,#6ece58,#7cd250,#8ed645,#a2da37)"></i>
<i style="background:linear-gradient(90deg,#424086,#414287,#404588,#3f4788,#3e4989,#3d4d8a,#3c508b,#3b528b,#39558c,#38598c,#365c8d,#355f8d,#33638d,#31668e,#306a8e,#2e6d8e,#2d718e,#2b748e,#29798e,#287d8e,#26818e,#25848e,#23898e,#228d8d,#20928c,#1f968b,#1e9b8a,#1fa088,#20a486,#24aa83,#28ae80,#2eb37c,#35b779,#3dbc74,#44bf70,#4cc26c,#56c667,#60ca60,#6ccd5a,#7ad151,#8bd646,#9dd93b)"></i>
<i style="background:linear-gradient(90deg,#424186,#414487,#404688,#3f4889,#3e4a89,#3d4d8a,#3c508b,#3a538b,#39568c,#375a8c,#365d8d,#34608d,#33638d,#31668e,#306a8e,#2e6e8e,#2c718e,#2b758e,#29798e,#287d8e,#26818e,#25848e,#23898e,#228d8d,#20928c,#1f968b,#1e9b8a,#1fa088,#20a486,#23a983,#28ae80,#2eb37c,#35b779,#3bbb75,#44bf70,#4cc26c,#54c568,#5ec962,#69cd5b,#77d153,#86d549,#9bd93c)"></i>
<i style="background:linear-gradient(90deg,#414287,#414487,#404688,#3f4889,#3e4c8a,#3d4e8a,#3b518b,#3a538b,#39568c,#375a8c,#365d8d,#34608d,#33638d,#31678e,#306a8e,#2e6e8e,#2c718e,#2b758e,#29798e,#287d8e,#26818e,#25858e,#23898e,#228d8d,#20928c,#1f968b,#1e9b8a,#1fa088,#20a486,#23a983,#27ad81,#2eb37c,#35b779,#3bbb75,#42be71,#4ac16d,#54c568,#5cc863,#67cc5c,#73d056,#84d44b,#95d840)"></i>
<i style="background:linear-gradient(90deg,#414287,#404588,#3f4788,#3e4989,#3e4c8a,#3c4f8a,#3b518b,#3a548c,#38588c,#375b8d,#365d8d,#34618d,#32648e,#31678e,#306a8e,#2e6e8e,#2c718e,#2b758e,#29798e,#287d8e,#26818e,#25858e,#23898e,#228d8d,#20928c,#1f968b,#1e9b8a,#1f9f88,#20a486,#23a983,#27ad81,#2db27d,#34b679,#3bbb75,#42be71,#4ac16d,#52c569,#5ac864,#65cb5e,#70cf57,#81d34d,#90d743)"></i>
<i style="background:linear-gradient(90deg,#414487,#404588,#3f4788,#3e4989,#3d4d8a,#3c4f8a,#3b528b,#3a548c,#38588c,#375b8d,#355e8d,#34618d,#32648e,#31678e,#2f6b8e,#2e6f8e,#2c718e,#2b758e,#29798e,#287d8e,#26828e,#25858e,#23898e,#228d8d,#20928c,#1f968b,#1f9a8a,#1f9f88,#20a386,#23a983,#27ad81,#2db27d,#34b679,#3aba76,#40bd72,#48c16e,#50c46a,#5ac864,#63cb5f,#6ece58,#7cd250,#8ed645)"></i>
<i style="background:linear-gradient(90deg,#414487,#404688,#3f4889,#3e4a89,#3d4d8a,#3c508b,#3b528b,#39558c,#38598c,#375b8d,#355e8d,#34618d,#32648e,#31688e,#2f6b8e,#2e6f8e,#2c728e,#2a768e,#29798e,#277e8e,#26828e,#25858e,#23898e,#218e8d,#20928c,#1f968b,#1f9a8a,#1f9f88,#20a386,#23a983,#27ad81,#2db27d,#34b679,#3aba76,#40bd72,#48c16e,#50c46a,#58c765,#60ca60,#6ccd5a,#7ad151,#89d548)"></i>
<i style="background:linear-gradient(90deg,#404588,#3f4788,#3f4889,#3e4a89,#3d4e8a,#3c508b,#3a538b,#39558c,#38598c,#365c8d,#355f8d,#33628d,#32658e,#31688e,#2f6b8e,#2e6f8e,#2c728e,#2a768e,#297a8e,#277e8e,#26828e,#25858e,#23898e,#218e8d,#20928c,#1f968b,#1f9a8a,#1f9f88,#20a386,#22a884,#26ad81,#2cb17e,#32b67a,#3aba76,#40bd72,#46c06f,#4ec36b,#56c667,#60ca60,#69cd5b,#77d153,#86d549)"></i>
<i style="background:linear-gradient(90deg,#404688,#3f4788,#3e4989,#3e4c8a,#3d4e8a,#3b518b,#3a538b,#39568c,#38598c,#365c8d,#355f8d,#33628d,#32658e,#31688e,#2f6c8e,#2e6f8e,#2c728e,#2a768e,#297a8e,#277e8e,#26828e,#25858e,#23898e,#218e8d,#20928c,#1f968b,#1f9a8a,#1f9f88,#20a386,#22a884,#26ad81,#2cb17e,#32b67a,#38b977,#3fbc73,#46c06f,#4ec36b,#56c667,#5ec962,#67cc5c,#75d054,#84d44b)"></i>
<i style="background:linear-gradient(90deg,#404688,#3f4889,#3e4a89,#3d4d8a,#3c4f8a,#3b518b,#3a548c,#39568c,#375a8c,#365d8d,#355f8d,#33628d,#31668e,#30698e,#2f6c8e,#2d708e,#2c728e,#2a768e,#297a8e,#277e8e,#26828e,#25858e,#23898e,#218e8d,#20928c,#1f958b,#1f9a8a,#1f9f88,#20a386,#22a884,#26ad81,#2cb17e,#32b67a,#38b977,#3fbc73,#46c06f,#4cc26c,#54c568,#5cc863,#65cb5e,#73d056,#7fd34e)"></i>
<i style="background:linear-gradient(90deg,#3f4788,#3e4989,#3e4a89,#3d4d8a,#3c4f8a,#3b528b,#3a548c,#38588c,#375a8c,#365d8d,#34608d,#33638d,#31668e,#30698e,#2f6c8e,#2d708e,#2c738e,#2a768e,#297a8e,#277e8e,#26828e,#25858e,#23898e,#218e8d,#20928c,#1f958b,#1f9a8a,#1f9f88,#20a386,#22a884,#26ad81,#2cb17e,#31b57b,#38b977,#3dbc74,#44bf70,#4cc26c,#52c569,#5ac864,#65cb5e,#70cf57,#7cd250)"></i>
<i style="background:linear-gradient(90deg,#3f4889,#3e4989,#3e4c8a,#3d4e8a,#3c508b,#3b528b,#39558c,#38588c,#375b8d,#365d8d,#34608d,#33638d,#31668e,#30698e,#2e6d8e,#2d708e,#2c738e,#2a778e,#297a8e,#277e8e,#26828e,#25858e,#238a8d,#218e8d,#20928c,#1f958b,#1f9a8a,#1f9f88,#1fa287,#22a785,#25ac82,#2ab07f,#31b57b,#37b878,#3dbc74,#44bf70,#4ac16d,#52c569,#5ac864,#63cb5f,#6ece58,#7ad151)"></i>
<i style="background:linear-gradient(90deg,#3f4889,#3e4a89,#3e4c8a,#3d4e8a,#3b518b,#3a538b,#39558c,#38598c,#375b8d,#355e8d,#34618d,#32648e,#31678e,#306a8e,#2e6d8e,#2d708e,#2c738e,#2a778e,#297b8e,#277f8e,#26828e,#24868e,#238a8d,#218e8d,#20928c,#1f958b,#1f9a8a,#1f9e89,#1fa287,#22a785,#25ac82,#2ab07f,#31b57b,#37b878,#3dbc74,#42be71,#4ac16d,#50c46a,#58c765,#60ca60,#6ccd5a,#77d153)"></i>
<i style="background:linear-gradient(90deg,#3e4989,#3e4a89,#3d4d8a,#3c4f8a,#3b518b,#3a538b,#39568c,#38598c,#365c8d,#355e8d,#34618d,#32648e,#31678e,#306a8e,#2e6d8e,#2d718e,#2c738e,#2a778e,#297b8e,#277f8e,#26828e,#24868e,#238a8d,#218e8d,#20928c,#1f958b,#1f9a8a,#1f9e89,#1fa287,#22a785,#25ac82,#2ab07f,#2fb47c,#35b779,#3bbb75,#42be71,#48c16e,#50c46a,#56c667,#5ec962,#69cd5b,#75d054)"></i>
<i style="background:linear-gradient(90deg,#3e4a89,#3e4c8a,#3d4e8a,#3c508b,#3b528b,#3a548c,#39568c,#375a8c,#365c8d,#355f8d,#33628d,#32648e,#31678e,#306a8e,#2e6e8e,#2d718e,#2b748e,#2a778e,#297b8e,#277f8e,#26828e,#24868e,#238a8d,#218e8d,#20928c,#1f958b,#1f9a8a,#1f9e89,#1fa287,#22a785,#25ac82,#29af7f,#2fb47c,#35b779,#3bbb75,#40bd72,#48c16e,#4ec36b,#56c667,#5cc863,#67cc5c,#73d056)"></i>
<i style="background:linear-gradient(90deg,#3e4a89,#3d4d8a,#3d4e8a,#3c508b,#3b528b,#3a548c,#38588c,#375a8c,#365d8d,#355f8d,#33628d,#32658e,#31688e,#2f6b8e,#2e6e8e,#2d718e,#2b748e,#2a788e,#297b8e,#277f8e,#26828e,#24868e,#238a8d,#218e8d,#20928c,#1f958b,#1f9a8a,#1f9e89,#1fa287,#22a785,#25ab82,#29af7f,#2fb47c,#35b779,#3aba76,#40bd72,#46c06f,#4cc26c,#54c568,#5cc863,#65cb5e,#70cf57)"></i>
<i style="background:linear-gradient(90deg,#3e4c8a,#3d4d8a,#3c4f8a,#3b518b,#3a538b,#39558c,#38588c,#375b8d,#365d8d,#34608d,#33628d,#32658e,#31688e,#2f6b8e,#2e6e8e,#2c718e,#2b748e,#2a788e,#287c8e,#277f8e,#26828e,#24868e,#238a8d,#218e8d,#20928c,#1f958b,#1f9a8a,#1f9e89,#1fa287,#21a685,#25ab82,#29af7f,#2eb37c,#34b679,#3aba76,#3fbc73,#46c06f,#4cc26c,#52c569,#5ac864,#63cb5f,#6ece58)"></i>
<i style="background:linear-gradient(90deg,#3e4c8a,#3d4e8a,#3c4f8a,#3b518b,#3a538b,#39568c,#38598c,#375b8d,#355e8d,#34608d,#33638d,#31668e,#30698e,#2f6c8e,#2e6f8e,#2c718e,#2b758e,#2a788e,#287c8e,#277f8e,#26828e,#24868e,#238a8d,#218e8d,#20928c,#1f958b,#1f9a8a,#1f9e89,#1fa187,#21a685,#25ab82,#28ae80,#2eb37c,#34b679,#3aba76,#3fbc73,#44bf70,#4ac16d,#52c569,#58c765,#60ca60,#6ccd5a)"></i>
<i style="background:linear-gradient(90deg,#3d4d8a,#3d4e8a,#3c508b,#3b528b,#3a548c,#39568c,#38598c,#365c8d,#355e8d,#34618d,#33638d,#31668e,#30698e,#2f6c8e,#2e6f8e,#2c718e,#2b758e,#2a788e,#287c8e,#27808e,#26828e,#24868e,#238a8d,#218e8d,#20928c,#1f958b,#1f998a,#1f9e89,#1fa187,#21a685,#25ab82,#28ae80,#2eb37c,#34b679,#38b977,#3fbc73,#44bf70,#4ac16d,#50c46a,#56c667,#5ec962,#69cd5b)"></i>
<i style="background:linear-gradient(90deg,#3d4e8a,#3c4f8a,#3b518b,#3b528b,#39558c,#38588c,#375a8c,#365c8d,#355f8d,#34618d,#32648e,#31668e,#30698e,#2f6c8e,#2e6f8e,#2c728e,#2b758e,#29798e,#287c8e,#27808e,#25838e,#24868e,#238a8d,#218e8d,#20928c,#1f958b,#1f998a,#1f9e89,#1fa187,#21a685,#24aa83,#28ae80,#2db27d,#32b67a,#38b977,#3dbc74,#42be71,#48c16e,#4ec36b,#56c667,#5cc863,#67cc5c)"></i>
<i style="background:linear-gradient(90deg,#3d4e8a,#3c508b,#3b518b,#3a538b,#39558c,#38588c,#375a8c,#365d8d,#355f8d,#33628d,#32648e,#31678e,#306a8e,#2e6d8e,#2d708e,#2c728e,#2b758e,#29798e,#287c8e,#27808e,#25838e,#24878e,#238a8d,#218e8d,#20928c,#1f958b,#1f998a,#1f9e89,#1fa187,#21a685,#24aa83,#28ae80,#2db27d,#32b67a,#37b878,#3dbc74,#42be71,#48c16e,#4ec36b,#54c568,#5cc863,#65cb5e)"></i>
<i style="background:linear-gradient(90deg,#3c4f8a,#3c508b,#3b528b,#3a548c,#39568c,#38598c,#375b8d,#365d8d,#34608d,#33628d,#32658e,#31678e,#306a8e,#2e6d8e,#2d708e,#2c728e,#2a768e,#29798e,#287d8e,#27808e,#25838e,#24878e,#238a8d,#218e8d,#20928c,#1f958b,#1f998a,#1f9e89,#1fa187,#21a585,#24aa83,#27ad81,#2db27d,#31b57b,#37b878,#3bbb75,#40bd72,#46c06f,#4cc26c,#52c569,#5ac864,#63cb5f)"></i>
<i style="background:linear-gradient(90deg,#3c508b,#3b518b,#3a538b,#3a548c,#39568c,#38598c,#365c8d,#355e8d,#34608d,#33628d,#32658e,#31688e,#2f6b8e,#2e6e8e,#2d718e,#2c738e,#2a768e,#29798e,#287d8e,#26818e,#25838e,#24878e,#228b8d,#218e8d,#20928c,#1f958b,#1f998a,#1e9d89,#1fa187,#21a585,#24aa83,#27ad81,#2cb17e,#31b57b,#37b878,#3bbb75,#40bd72,#46c06f,#4cc26c,#52c569,#58c765,#60ca60)"></i>
<i style="background:linear-gradient(90deg,#3c508b,#3b528b,#3a538b,#39558c,#38588c,#375a8c,#365c8d,#355e8d,#34618d,#33638d,#32658e,#31688e,#2f6b8e,#2e6e8e,#2d718e,#2c738e,#2a768e,#297a8e,#287d8e,#26818e,#25838e,#24878e,#228b8d,#218e8d,#20928c,#1f958b,#1f998a,#1e9d89,#1fa187,#21a585,#23a983,#27ad81,#2cb17e,#31b57b,#35b779,#3aba76,#3fbc73,#44bf70,#4ac16d,#50c46a,#56c667,#5ec962)"></i>
<i style="background:linear-gradient(90deg,#3b518b,#3b528b,#3a548c,#39568c,#38588c,#375b8d,#365d8d,#355f8d,#34618d,#33638d,#31668e,#30698e,#2f6b8e,#2e6e8e,#2d718e,#2c738e,#2a778e,#297a8e,#287d8e,#26818e,#25838e,#24878e,#228b8d,#218f8d,#20928c,#1f958b,#1f998a,#1e9d89,#1fa188,#21a585,#23a983,#26ad81,#2cb17e,#2fb47c,#35b779,#3aba76,#3fbc73,#44bf70,#4ac16d,#50c46a,#56c667,#5cc863)"></i>
<i style="background:linear-gradient(90deg,#3b528b,#3a538b,#3a548c,#39568c,#38598c,#375b8d,#365d8d,#34608d,#33628d,#32648e,#31668e,#30698e,#2f6c8e,#2e6f8e,#2c718e,#2b748e,#2a778e,#297a8e,#277e8e,#26818e,#25848e,#24878e,#228b8d,#218f8d,#20928c,#1f958b,#1f998a,#1e9d89,#1fa188,#21a585,#23a983,#26ad81,#2ab07f,#2fb47c,#34b679,#3aba76,#3dbc74,#42be71,#48c16e,#4ec36b,#54c568,#5ac864)"></i>
<i style="background:linear-gradient(90deg,#3b528b,#3a548c,#39558c,#38588c,#375a8c,#365c8d,#355e8d,#34608d,#33628d,#32648e,#31678e,#30698e,#2f6c8e,#2e6f8e,#2c718e,#2b748e,#2a778e,#297b8e,#277e8e,#26818e,#25848e,#24878e,#228b8d,#218f8d,#20928c,#1f958b,#1f998a,#1e9d89,#1fa188,#20a486,#23a983,#26ad81,#2ab07f,#2fb47c,#34b679,#38b977,#3dbc74,#42be71,#48c16e,#4cc26c,#52c569,#58c765)"></i>
<i style="background:linear-gradient(90deg,#3a538b,#3a548c,#39568c,#38588c,#375a8c,#365c8d,#355e8d,#34618d,#33638d,#32658e,#31678e,#306a8e,#2e6d8e,#2e6f8e,#2c718e,#2b748e,#2a788e,#297b8e,#277e8e,#26828e,#25848e,#23888e,#228b8d,#218f8d,#20928c,#1f958b,#1f998a,#1e9d89,#1fa188,#20a486,#22a884,#26ad81,#2ab07f,#2eb37c,#34b679,#38b977,#3dbc74,#40bd72,#46c06f,#4cc26c,#50c46a,#56c667)"></i>
<i style="background:linear-gradient(90deg,#3a548c,#39558c,#39568c,#38598c,#375b8d,#365d8d,#355f8d,#34618d,#33638d,#32658e,#31688e,#306a8e,#2e6d8e,#2d708e,#2c728e,#2b758e,#2a788e,#297b8e,#277e8e,#26828e,#25848e,#23888e,#228b8d,#218f8d,#20928c,#1f958b,#1f998a,#1e9d89,#1fa188,#20a486,#22a884,#25ac82,#29af7f,#2eb37c,#32b67a,#37b878,#3bbb75,#40bd72,#46c06f,#4ac16d,#50c46a,#56c667)"></i>
<i style="background:linear-gradient(90deg,#3a548c,#39558c,#38588c,#375a8c,#375b8d,#365d8d,#34608d,#33628d,#32648e,#31668e,#31688e,#2f6b8e,#2e6e8e,#2d708e,#2c728e,#2b758e,#2a788e,#297b8e,#277f8e,#26828e,#25848e,#23888e,#228b8d,#218f8d,#20928c,#1f958b,#1f998a,#1e9d89,#1fa188,#20a486,#22a884,#25ac82,#29af7f,#2db27d,#32b67a,#37b878,#3bbb75,#3fbc73,#44bf70,#48c16e,#4ec36b,#54c568)"></i>
<i style="background:linear-gradient(90deg,#39558c,#39568c,#38598c,#375a8c,#365c8d,#355e8d,#34608d,#33628d,#32648e,#31668e,#30698e,#2f6b8e,#2e6e8e,#2d718e,#2c738e,#2b758e,#2a788e,#287c8e,#277f8e,#26828e,#25858e,#23888e,#228b8d,#218f8d,#20928c,#1f958b,#1f998a,#1e9d89,#1fa188,#20a486,#22a884,#25ac82,#28ae80,#2db27d,#31b57b,#35b779,#3aba76,#3fbc73,#44bf70,#48c16e,#4cc26c,#52c569)"></i>
<i style="background:linear-gradient(90deg,#39568c,#38588c,#38598c,#375b8d,#365d8d,#355f8d,#34618d,#33638d,#32658e,#31678e,#30698e,#2f6c8e,#2e6e8e,#2d718e,#2c738e,#2a768e,#29798e,#287c8e,#277f8e,#26828e,#25858e,#23888e,#228c8d,#218f8d,#20928c,#1f958b,#1f998a,#1e9d89,#1fa188,#20a386,#22a785,#25ab82,#28ae80,#2db27d,#31b57b,#35b779,#3aba76,#3fbc73,#42be71,#46c06f,#4cc26c,#50c46a)"></i>
<i style="background:linear-gradient(90deg,#39568c,#38588c,#375a8c,#375b8d,#365d8d,#355f8d,#34618d,#33638d,#32658e,#31678e,#306a8e,#2f6c8e,#2e6f8e,#2c718e,#2c738e,#2a768e,#29798e,#287c8e,#277f8e,#26828e,#25858e,#23888e,#228c8d,#218f8d,#20928c,#1f958b,#1f998a,#1e9d89,#1fa088,#20a386,#22a785,#25ab82,#28ae80,#2cb17e,#31b57b,#35b779,#38b977,#3dbc74,#40bd72,#46c06f,#4ac16d,#4ec36b)"></i>
<i style="background:linear-gradient(90deg,#38588c,#38598c,#375a8c,#365c8d,#355e8d,#34608d,#33628d,#32648e,#31668e,#31688e,#306a8e,#2e6d8e,#2e6f8e,#2c718e,#2b748e,#2a778e,#29798e,#287d8e,#27808e,#26828e,#25858e,#23898e,#228c8d,#218f8d,#20928c,#1f958b,#1f998a,#1e9c89,#1fa088,#20a386,#22a785,#25ab82,#27ad81,#2cb17e,#2fb47c,#34b679,#38b977,#3dbc74,#40bd72,#44bf70,#48c16e,#4cc26c)"></i>
<i style="background:linear-gradient(90deg,#38598c,#375a8c,#375b8d,#365d8d,#355f8d,#34608d,#33638d,#32658e,#31678e,#30698e,#2f6b8e,#2e6d8e,#2d708e,#2c718e,#2b748e,#2a778e,#297a8e,#287d8e,#27808e,#26828e,#25858e,#23898e,#228c8d,#218f8d,#20928c,#1f958b,#1f998a,#1e9c89,#1fa088,#20a386,#22a785,#24aa83,#27ad81,#2cb17e,#2fb47c,#34b679,#37b878,#3bbb75,#3fbc73,#44bf70,#48c16e,#4ac16d)"></i>
<i style="background:linear-gradient(90deg,#38598c,#375a8c,#365c8d,#365d8d,#355f8d,#34618d,#33638d,#32658e,#31678e,#30698e,#2f6b8e,#2e6e8e,#2d708e,#2c728e,#2b758e,#2a778e,#297a8e,#287d8e,#27808e,#26828e,#24868e,#23898e,#228c8d,#218f8d,#20928c,#1f958b,#1f998a,#1e9c89,#1fa088,#20a386,#21a685,#24aa83,#27ad81,#2ab07f,#2eb37c,#32b67a,#37b878,#3bbb75,#3fbc73,#42be71,#46c06f,#4ac16d)"></i>
<i style="background:linear-gradient(90deg,#375a8c,#375b8d,#365c8d,#355e8d,#34608d,#33628d,#32648e,#31668e,#31688e,#306a8e,#2f6c8e,#2e6e8e,#2d718e,#2c728e,#2b758e,#2a788e,#297a8e,#287d8e,#27808e,#25838e,#24868e,#23898e,#228c8d,#21908d,#20928c,#1f958b,#1f998a,#1e9c89,#1fa088,#20a386,#21a685,#24aa83,#26ad81,#2ab07f,#2eb37c,#32b67a,#37b878,#3aba76,#3dbc74,#40bd72,#44bf70,#48c16e)"></i>
<i style="background:linear-gradient(90deg,#375b8d,#365c8d,#365d8d,#355f8d,#34608d,#33628d,#32648e,#31668e,#31688e,#306a8e,#2f6c8e,#2e6f8e,#2d718e,#2c738e,#2b758e,#2a788e,#297b8e,#277e8e,#26818e,#25838e,#24868e,#23898e,#228c8d,#21908d,#20928c,#1f958b,#1f998a,#1e9c89,#1fa088,#1fa287,#21a685,#24aa83,#26ad81,#29af7f,#2db27d,#31b57b,#35b779,#3aba76,#3dbc74,#40bd72,#42be71,#46c06f)"></i>
<i style="background:linear-gradient(90deg,#375b8d,#365c8d,#355e8d,#355f8d,#34618d,#33638d,#32658e,#31678e,#30698e,#2f6b8e,#2e6d8e,#2e6f8e,#2c718e,#2c738e,#2a768e,#2a788e,#297b8e,#277e8e,#26818e,#25838e,#24868e,#23898e,#228d8d,#21908d,#20928c,#1f958b,#1f998a,#1e9c89,#1fa088,#1fa287,#21a685,#23a983,#26ad81,#29af7f,#2db27d,#31b57b,#35b779,#38b977,#3bbb75,#3fbc73,#42be71,#44bf70)"></i>
<i style="background:linear-gradient(90deg,#365c8d,#365d8d,#355e8d,#34608d,#33628d,#32648e,#31668e,#31678e,#30698e,#2f6b8e,#2e6d8e,#2d708e,#2c718e,#2b748e,#2a768e,#29798e,#287c8e,#277e8e,#26818e,#25838e,#24868e,#238a8d,#228d8d,#21908d,#20928c,#1f958b,#1f998a,#1e9c89,#1f9f88,#1fa287,#21a685,#23a983,#25ac82,#29af7f,#2db27d,#2fb47c,#34b679,#38b977,#3bbb75,#3fbc73,#40bd72,#42be71)"></i>
<i style="background:linear-gradient(90deg,#365d8d,#355e8d,#355f8d,#34618d,#33628d,#32648e,#31668e,#31688e,#306a8e,#2f6c8e,#2e6e8e,#2d708e,#2c728e,#2b748e,#2a778e,#29798e,#287c8e,#277f8e,#26828e,#25848e,#24878e,#238a8d,#228d8d,#21908d,#20928c,#1f958b,#1f998a,#1e9c89,#1f9f88,#1fa287,#21a585,#23a983,#25ac82,#28ae80,#2cb17e,#2fb47c,#34b679,#37b878,#3aba76,#3dbc74,#3fbc73,#40bd72)"></i>
<i style="background:linear-gradient(90deg,#355e8d,#355f8d,#34608d,#34618d,#33638d,#32658e,#31678e,#30698e,#2f6b8e,#2f6c8e,#2e6e8e,#2d718e,#2c728e,#2b748e,#2a778e,#297a8e,#287c8e,#277f8e,#26828e,#25848e,#24878e,#238a8d,#228d8d,#21908d,#20928c,#1f958b,#1f998a,#1e9c89,#1f9f88,#1fa287,#21a585,#22a884,#25ac82,#28ae80,#2cb17e,#2eb37c,#32b67a,#37b878,#3aba76,#3bbb75,#3fbc73,#40bd72)"></i>
<i style="background:linear-gradient(90deg,#355e8d,#355f8d,#34618d,#33628d,#32648e,#32658e,#31678e,#30698e,#2f6b8e,#2e6d8e,#2e6f8e,#2d718e,#2c728e,#2b758e,#2a778e,#297a8e,#287d8e,#277f8e,#26828e,#25848e,#24878e,#238a8d,#228d8d,#21908d,#20928c,#1f958b,#1f998a,#1e9c89,#1f9f88,#1fa187,#21a585,#22a884,#25ab82,#27ad81,#2ab07f,#2eb37c,#32b67a,#35b779,#38b977,#3bbb75,#3dbc74,#3fbc73)"></i>
<i style="background:linear-gradient(90deg,#355f8d,#34608d,#34618d,#33638d,#32648e,#31668e,#31688e,#306a8e,#2f6c8e,#2e6e8e,#2d708e,#2c718e,#2c738e,#2b758e,#2a788e,#297a8e,#287d8e,#27808e,#26828e,#25848e,#24878e,#238a8d,#228d8d,#21908d,#20928c,#1f958b,#1f998a,#1e9c89,#1f9f88,#1fa187,#21a585,#22a884,#25ab82,#27ad81,#2ab07f,#2db27d,#31b57b,#34b679,#37b878,#3aba76,#3bbb75,#3dbc74)"></i>
<i style="background:linear-gradient(90deg,#34608d,#34618d,#33628d,#33638d,#32658e,#31678e,#30698e,#306a8e,#2f6c8e,#2e6e8e,#2d708e,#2c718e,#2c738e,#2a768e,#2a788e,#297b8e,#287d8e,#27808e,#26828e,#25858e,#23888e,#238a8d,#228d8d,#21908d,#20928c,#1f958b,#1f998a,#1e9c89,#1f9f88,#1fa187,#20a486,#22a785,#25ab82,#27ad81,#29af7f,#2db27d,#31b57b,#34b679,#37b878,#38b977,#3aba76,#3bbb75)"></i>
<i style="background:linear-gradient(90deg,#34608d,#34618d,#33638d,#32648e,#31668e,#31678e,#30698e,#2f6b8e,#2e6d8e,#2e6f8e,#2d718e,#2c728e,#2b748e,#2a768e,#29798e,#297b8e,#277e8e,#27808e,#26828e,#25858e,#23888e,#228b8d,#218e8d,#21918c,#20928c,#1f958b,#1f998a,#1e9c89,#1f9f88,#1fa187,#20a486,#22a785,#24aa83,#26ad81,#29af7f,#2cb17e,#2fb47c,#32b67a,#35b779,#38b977,#38b977,#3aba76)"></i>
<i style="background:linear-gradient(90deg,#34618d,#33628d,#33638d,#32658e,#31668e,#31688e,#306a8e,#2f6c8e,#2e6d8e,#2e6f8e,#2d718e,#2c728e,#2b748e,#2a778e,#29798e,#287c8e,#277e8e,#26818e,#26828e,#25858e,#23888e,#228b8d,#218e8d,#21918c,#20938c,#1f968b,#1f988b,#1e9c89,#1f9f88,#1fa187,#20a486,#22a785,#24aa83,#26ad81,#28ae80,#2cb17e,#2eb37c,#32b67a,#35b779,#37b878,#38b977,#38b977)"></i>
<i style="background:linear-gradient(90deg,#33628d,#33638d,#32648e,#32658e,#31678e,#30698e,#306a8e,#2f6c8e,#2e6e8e,#2d708e,#2c718e,#2c738e,#2b758e,#2a778e,#297a8e,#287c8e,#277e8e,#26818e,#25838e,#25858e,#23888e,#228b8d,#218e8d,#21918c,#20938c,#1f968b,#1f988b,#1e9b8a,#1f9e89,#1fa187,#20a486,#22a785,#23a983,#25ac82,#28ae80,#2ab07f,#2eb37c,#31b57b,#34b679,#35b779,#37b878,#37b878)"></i>
<i style="background:linear-gradient(90deg,#33638d,#33638d,#32658e,#31668e,#31688e,#30698e,#2f6b8e,#2e6d8e,#2e6f8e,#2d708e,#2c718e,#2c738e,#2b758e,#2a788e,#297a8e,#287c8e,#277f8e,#26818e,#25838e,#24868e,#23888e,#228b8d,#218e8d,#21918c,#20938c,#1f968b,#1f988b,#1e9b8a,#1f9e89,#1fa188,#20a386,#21a685,#23a983,#25ac82,#27ad81,#2ab07f,#2db27d,#2fb47c,#32b67a,#34b679,#35b779,#35b779)"></i>
<i style="background:linear-gradient(90deg,#33638d,#32648e,#32658e,#31678e,#31688e,#306a8e,#2f6c8e,#2e6d8e,#2e6f8e,#2d718e,#2c728e,#2b748e,#2a768e,#2a788e,#297a8e,#287d8e,#277f8e,#26828e,#25838e,#24868e,#23898e,#228b8d,#218e8d,#21918c,#20938c,#1f968b,#1f988b,#1e9b8a,#1f9e89,#1fa188,#20a386,#21a685,#23a983,#25ab82,#27ad81,#29af7f,#2db27d,#2fb47c,#31b57b,#34b679,#34b679,#35b779)"></i>
<i style="background:linear-gradient(90deg,#32648e,#32658e,#31668e,#31678e,#30698e,#2f6b8e,#2f6c8e,#2e6e8e,#2d708e,#2c718e,#2c728e,#2b748e,#2a768e,#29798e,#297b8e,#287d8e,#27808e,#26828e,#25848e,#24868e,#23898e,#228c8d,#218e8d,#21918c,#20938c,#1f968b,#1f988b,#1e9b8a,#1f9e89,#1fa188,#20a386,#21a685,#22a884,#25ab82,#26ad81,#29af7f,#2cb17e,#2eb37c,#31b57b,#32b67a,#32b67a,#34b679)"></i>
<i style="background:linear-gradient(90deg,#32658e,#31668e,#31678e,#31688e,#306a8e,#2f6b8e,#2e6d8e,#2e6f8e,#2d708e,#2c718e,#2c738e,#2b758e,#2a778e,#29798e,#297b8e,#277e8e,#27808e,#26828e,#25848e,#24868e,#23898e,#228c8d,#218e8d,#21918c,#20938c,#1f968b,#1f988b,#1e9b8a,#1f9e89,#1fa188,#20a386,#21a585,#22a884,#25ab82,#26ad81,#28ae80,#2ab07f,#2db27d,#2fb47c,#31b57b,#32b67a,#32b67a)"></i>
<i style="background:linear-gradient(90deg,#31668e,#31668e,#31688e,#30698e,#306a8e,#2f6c8e,#2e6e8e,#2e6f8e,#2d718e,#2c728e,#2b748e,#2b758e,#2a778e,#297a8e,#287c8e,#277e8e,#27808e,#26828e,#25848e,#24878e,#23898e,#228c8d,#218f8d,#21918c,#20938c,#1f968b,#1f988b,#1e9b8a,#1f9e89,#1fa188,#1fa287,#21a585,#22a884,#24aa83,#26ad81,#28ae80,#2ab07f,#2db27d,#2eb37c,#2fb47c,#31b57b,#31b57b)"></i>
<i style="background:linear-gradient(90deg,#31668e,#31678e,#31688e,#306a8e,#2f6b8e,#2e6d8e,#2e6e8e,#2d708e,#2c718e,#2c728e,#2b748e,#2a768e,#2a788e,#297a8e,#287c8e,#277f8e,#26818e,#26828e,#25858e,#24878e,#238a8d,#228c8d,#218f8d,#21918c,#20938c,#1f968b,#1f988b,#1e9b8a,#1f9e89,#1fa088,#1fa287,#21a585,#22a785,#24aa83,#25ac82,#27ad81,#29af7f,#2cb17e,#2db27d,#2eb37c,#2fb47c,#2fb47c)"></i>
<i style="background:linear-gradient(90deg,#31678e,#31688e,#30698e,#306a8e,#2f6c8e,#2e6d8e,#2e6f8e,#2d718e,#2c718e,#2c738e,#2b758e,#2a778e,#2a788e,#297b8e,#287d8e,#277f8e,#26818e,#26828e,#25858e,#24878e,#238a8d,#228c8d,#218f8d,#20928c,#20938c,#1f968b,#1f988b,#1e9b8a,#1f9e89,#1fa088,#1fa287,#20a486,#22a785,#23a983,#25ac82,#27ad81,#29af7f,#2ab07f,#2db27d,#2eb37c,#2eb37c,#2eb37c)"></i>
<i style="background:linear-gradient(90deg,#31688e,#30698e,#306a8e,#2f6b8e,#2f6c8e,#2e6e8e,#2d708e,#2d718e,#2c728e,#2b748e,#2b758e,#2a778e,#29798e,#297b8e,#287d8e,#277f8e,#26828e,#25838e,#25858e,#23888e,#238a8d,#228d8d,#218f8d,#20928c,#20938c,#1f968b,#1f988b,#1e9b8a,#1e9d89,#1fa088,#1fa287,#20a486,#21a685,#23a983,#25ab82,#26ad81,#28ae80,#2ab07f,#2cb17e,#2db27d,#2db27d,#2db27d)"></i>
<i style="background:linear-gradient(90deg,#30698e,#30698e,#2f6b8e,#2f6c8e,#2e6d8e,#2e6f8e,#2d708e,#2c718e,#2c728e,#2b748e,#2a768e,#2a788e,#297a8e,#287c8e,#277e8e,#27808e,#26828e,#25838e,#25858e,#23888e,#238a8d,#228d8d,#218f8d,#20928c,#20938c,#1f968b,#1f988b,#1e9b8a,#1e9d89,#1fa088,#1fa187,#20a486,#21a685,#22a884,#24aa83,#25ac82,#27ad81,#29af7f,#2ab07f,#2cb17e,#2cb17e,#2cb17e)"></i>
<i style="background:linear-gradient(90deg,#30698e,#306a8e,#2f6b8e,#2e6d8e,#2e6e8e,#2e6f8e,#2d718e,#2c718e,#2c738e,#2b758e,#2a768e,#2a788e,#297a8e,#287c8e,#277e8e,#27808e,#26828e,#25848e,#24868e,#23888e,#228b8d,#228d8d,#218f8d,#20928c,#20938c,#1f968b,#1f988b,#1e9b8a,#1e9d89,#1fa088,#1fa187,#20a386,#21a685,#22a884,#24aa83,#25ac82,#27ad81,#28ae80,#29af7f,#2ab07f,#2ab07f,#2ab07f)"></i>
<i style="background:linear-gradient(90deg,#306a8e,#2f6b8e,#2f6c8e,#2e6d8e,#2e6f8e,#2d708e,#2c718e,#2c728e,#2b748e,#2b758e,#2a778e,#29798e,#297b8e,#287c8e,#277f8e,#26818e,#26828e,#25848e,#24868e,#23888e,#228b8d,#228d8d,#21908d,#20928c,#20938c,#1f968b,#1f988b,#1e9b8a,#1e9d89,#1f9f88,#1fa187,#20a386,#21a585,#22a785,#23a983,#25ab82,#26ad81,#27ad81,#28ae80,#29af7f,#29af7f,#29af7f)"></i>
<i style="background:linear-gradient(90deg,#2f6b8e,#2f6c8e,#2e6d8e,#2e6e8e,#2e6f8e,#2d718e,#2c718e,#2c738e,#2b748e,#2a768e,#2a788e,#29798e,#297b8e,#287d8e,#277f8e,#26818e,#26828e,#25848e,#24868e,#23898e,#228b8d,#228d8d,#21908d,#20928c,#1f948c,#1f968b,#1f988b,#1e9b8a,#1e9d89,#1f9f88,#1fa187,#20a386,#21a585,#22a785,#23a983,#25ab82,#25ac82,#27ad81,#28ae80,#28ae80,#28ae80,#28ae80)"></i>
<i style="background:linear-gradient(90deg,#2f6c8e,#2e6d8e,#2e6e8e,#2e6f8e,#2d708e,#2d718e,#2c728e,#2c738e,#2b758e,#2a768e,#2a788e,#297a8e,#287c8e,#287d8e,#277f8e,#26828e,#25838e,#25858e,#24878e,#23898e,#228b8d,#218e8d,#21908d,#20928c,#1f948c,#1f968b,#1f988b,#1e9b8a,#1e9d89,#1f9f88,#1fa188,#1fa287,#21a585,#22a785,#22a884,#24aa83,#25ac82,#26ad81,#27ad81,#27ad81,#27ad81,#27ad81)"></i>
<i style="background:linear-gradient(90deg,#2e6d8e,#2e6d8e,#2e6e8e,#2d708e,#2d718e,#2c718e,#2c738e,#2b748e,#2a768e,#2a778e,#29798e,#297a8e,#287c8e,#277e8e,#27808e,#26828e,#25838e,#25858e,#24878e,#23898e,#228c8d,#218e8d,#21908d,#20928c,#1f948c,#1f968b,#1f988b,#1f9a8a,#1e9d89,#1f9f88,#1fa188,#1fa287,#20a486,#21a685,#22a884,#24aa83,#25ab82,#25ac82,#26ad81,#26ad81,#26ad81,#26ad81)"></i>
<i style="background:linear-gradient(90deg,#2e6e8e,#2e6e8e,#2e6f8e,#2d708e,#2d718e,#2c728e,#2c738e,#2b758e,#2a768e,#2a788e,#29798e,#297b8e,#287d8e,#277e8e,#27808e,#26828e,#25838e,#25858e,#24878e,#238a8d,#228c8d,#218e8d,#21908d,#20928c,#1f948c,#1f968b,#1f988b,#1f9a8a,#1e9d89,#1f9f88,#1fa188,#1fa287,#20a486,#21a685,#22a785,#23a983,#24aa83,#25ab82,#25ac82,#25ac82,#25ac82,#25ac82)"></i>
<i style="background:linear-gradient(90deg,#2e6e8e,#2e6f8e,#2d708e,#2d718e,#2c718e,#2c738e,#2b748e,#2b758e,#2a778e,#2a788e,#297a8e,#287c8e,#287d8e,#277f8e,#26818e,#26828e,#25848e,#24868e,#23888e,#238a8d,#228c8d,#218e8d,#21908d,#20928c,#1f948c,#1f968b,#1f988b,#1f9a8a,#1e9c89,#1f9f88,#1fa188,#1fa287,#20a386,#21a585,#22a785,#22a884,#24aa83,#25ab82,#25ab82,#25ac82,#25ab82,#25ab82)"></i>
<i style="background:linear-gradient(90deg,#2e6f8e,#2d708e,#2d718e,#2c718e,#2c728e,#2c738e,#2b758e,#2a768e,#2a778e,#29798e,#297b8e,#287c8e,#277e8e,#277f8e,#26818e,#26828e,#25848e,#24868e,#23888e,#238a8d,#228c8d,#218f8d,#21918c,#20928c,#1f948c,#1f968b,#1f988b,#1f9a8a,#1e9c89,#1f9e89,#1fa088,#1fa187,#20a386,#21a585,#21a685,#22a884,#23a983,#24aa83,#24aa83,#25ab82,#24aa83,#24aa83)"></i>
<i style="background:linear-gradient(90deg,#2d708e,#2d718e,#2c718e,#2c728e,#2c738e,#2b748e,#2b758e,#2a778e,#2a788e,#297a8e,#297b8e,#287d8e,#277e8e,#27808e,#26828e,#25838e,#25858e,#24868e,#23888e,#228b8d,#228d8d,#218f8d,#21918c,#20928c,#1f948c,#1f968b,#1f988b,#1f9a8a,#1e9c89,#1f9e89,#1fa088,#1fa187,#20a386,#20a486,#21a685,#22a785,#22a884,#23a983,#24aa83,#24aa83,#24aa83,#23a983)"></i>
<i style="background:linear-gradient(90deg,#2d718e,#2d718e,#2c718e,#2c728e,#2c738e,#2b758e,#2a768e,#2a778e,#29798e,#297a8e,#287c8e,#287d8e,#277f8e,#27808e,#26828e,#25838e,#25858e,#24878e,#23898e,#228b8d,#228d8d,#218f8d,#21918c,#20928c,#1f948c,#1f968b,#1f988b,#1f9a8a,#1e9c89,#1f9e89,#1fa088,#1fa187,#1fa287,#20a486,#21a585,#21a685,#22a785,#22a884,#23a983,#23a983,#23a983,#22a884)"></i>
<i style="background:linear-gradient(90deg,#2c718e,#2c718e,#2c728e,#2c738e,#2b748e,#2b758e,#2a778e,#2a788e,#29798e,#297b8e,#287c8e,#277e8e,#277f8e,#26818e,#26828e,#25848e,#25858e,#24878e,#23898e,#228b8d,#228d8d,#218f8d,#21918c,#20928c,#1f948c,#1f968b,#1f988b,#1f9a8a,#1e9c89,#1f9e89,#1f9f88,#1fa188,#1fa287,#20a386,#21a585,#21a685,#22a785,#22a785,#22a884,#22a884,#22a884,#22a785)"></i>
<i style="background:linear-gradient(90deg,#2c728e,#2c728e,#2c738e,#2b748e,#2b758e,#2a768e,#2a778e,#29798e,#297a8e,#297b8e,#287d8e,#277e8e,#27808e,#26818e,#26828e,#25848e,#24868e,#23888e,#23898e,#228b8d,#228d8d,#218f8d,#21918c,#20928c,#1f948c,#1f968b,#1f988b,#1f9a8a,#1e9c89,#1f9e89,#1f9f88,#1fa188,#1fa187,#20a386,#20a486,#21a585,#21a685,#22a785,#22a785,#22a785,#22a785,#21a685)"></i>
<i style="background:linear-gradient(90deg,#2c728e,#2c738e,#2b748e,#2b758e,#2a768e,#2a778e,#2a788e,#29798e,#297b8e,#287c8e,#277e8e,#277f8e,#27808e,#26828e,#25838e,#25848e,#24868e,#23888e,#238a8d,#228c8d,#218e8d,#21908d,#20928c,#20928c,#1f948c,#1f968b,#1f988b,#1f9a8a,#1e9c89,#1e9d89,#1f9f88,#1fa188,#1fa187,#1fa287,#20a486,#21a585,#21a585,#21a685,#21a685,#21a685,#21a685,#21a585)"></i>
<i style="background:linear-gradient(90deg,#2c738e,#2b748e,#2b758e,#2a768e,#2a778e,#2a788e,#29798e,#297a8e,#297b8e,#287d8e,#277e8e,#27808e,#26818e,#26828e,#25838e,#25858e,#24878e,#23888e,#238a8d,#228c8d,#218e8d,#21908d,#20928c,#20938c,#1f948c,#1f968b,#1f988b,#1f9a8a,#1e9c89,#1e9d89,#1f9f88,#1fa088,#1fa187,#1fa287,#20a386,#20a486,#21a585,#21a585,#21a585,#21a585,#20a486,#20a486)"></i>
<i style="background:linear-gradient(90deg,#2b748e,#2b758e,#2b758e,#2a768e,#2a778e,#2a788e,#29798e,#297b8e,#287c8e,#287d8e,#277f8e,#27808e,#26828e,#26828e,#25848e,#25858e,#24878e,#23898e,#228b8d,#228c8d,#218e8d,#21908d,#20928c,#20938c,#1f958b,#1f968b,#1f988b,#1f9a8a,#1e9b8a,#1e9d89,#1f9e89,#1fa088,#1fa188,#1fa187,#1fa287,#20a386,#20a486,#20a486,#20a486,#20a486,#20a386,#20a386)"></i>
<i style="background:linear-gradient(90deg,#2b758e,#2a768e,#2a768e,#2a778e,#2a788e,#29798e,#297a8e,#297b8e,#287d8e,#277e8e,#277f8e,#26818e,#26828e,#25838e,#25848e,#24868e,#24878e,#23898e,#228b8d,#228d8d,#218e8d,#21908d,#20928c,#20938c,#1f958b,#1f968b,#1f988b,#1f9a8a,#1e9b8a,#1e9d89,#1f9e89,#1fa088,#1fa188,#1fa187,#1fa287,#20a386,#20a386,#20a386,#20a386,#20a386,#1fa287,#1fa287)"></i>
<i style="background:linear-gradient(90deg,#2a768e,#2a768e,#2a778e,#2a788e,#29798e,#297a8e,#297b8e,#287c8e,#287d8e,#277f8e,#27808e,#26818e,#26828e,#25838e,#25858e,#24868e,#23888e,#238a8d,#228b8d,#228d8d,#218f8d,#21908d,#20928c,#20938c,#1f958b,#1f968b,#1f988b,#1f9a8a,#1e9b8a,#1e9d89,#1f9e89,#1f9f88,#1fa088,#1fa187,#1fa187,#1fa287,#1fa287,#20a386,#1fa287,#1fa287,#1fa187,#1fa187)"></i>
<i style="background:linear-gradient(90deg,#2a778e,#2a778e,#2a788e,#29798e,#297a8e,#297b8e,#287c8e,#287d8e,#277e8e,#277f8e,#26818e,#26828e,#26828e,#25848e,#25858e,#24878e,#23888e,#238a8d,#228c8d,#228d8d,#218f8d,#21918c,#20928c,#20938c,#1f958b,#1f968b,#1f988b,#1f9a8a,#1e9b8a,#1e9c89,#1f9e89,#1f9f88,#1fa088,#1fa188,#1fa187,#1fa187,#1fa287,#1fa287,#1fa287,#1fa187,#1fa188,#1fa088)"></i>
<i style="background:linear-gradient(90deg,#2a788e,#2a788e,#29798e,#297a8e,#297a8e,#297b8e,#287c8e,#287d8e,#277f8e,#27808e,#26818e,#26828e,#25838e,#25848e,#24868e,#24878e,#23898e,#238a8d,#228c8d,#218e8d,#218f8d,#21918c,#20928c,#20938c,#1f958b,#1f968b,#1f988b,#1f998a,#1e9b8a,#1e9c89,#1e9d89,#1f9f88,#1fa088,#1fa188,#1fa188,#1fa187,#1fa187,#1fa187,#1fa187,#1fa188,#1fa088,#1f9f88)"></i>
<i style="background:linear-gradient(90deg,#29798e,#29798e,#297a8e,#297a8e,#297b8e,#287c8e,#287d8e,#277e8e,#277f8e,#27808e,#26828e,#26828e,#25838e,#25858e,#24868e,#23888e,#23898e,#228b8d,#228c8d,#218e8d,#21908d,#21918c,#20928c,#20938c,#1f958b,#1f978b,#1f988b,#1f998a,#1e9b8a,#1e9c89,#1e9d89,#1f9e89,#1f9f88,#1fa088,#1fa188,#1fa188,#1fa188,#1fa188,#1fa188,#1fa088,#1f9f88,#1f9e89)"></i>
<i style="background:linear-gradient(90deg,#29798e,#297a8e,#297a8e,#297b8e,#287c8e,#287d8e,#277e8e,#277f8e,#27808e,#26818e,#26828e,#25838e,#25848e,#25858e,#24878e,#23888e,#238a8d,#228b8d,#228d8d,#218e8d,#21908d,#21918c,#20928c,#1f948c,#1f958b,#1f978b,#1f988b,#1f998a,#1e9b8a,#1e9c89,#1e9d89,#1f9e89,#1f9f88,#1fa088,#1fa088,#1fa088,#1fa188,#1fa088,#1fa088,#1f9f88,#1f9e89,#1e9d89)"></i>
<i style="background:linear-gradient(90deg,#297a8e,#297b8e,#297b8e,#287c8e,#287d8e,#277e8e,#277f8e,#27808e,#26818e,#26828e,#26828e,#25838e,#25848e,#24868e,#24878e,#23888e,#238a8d,#228b8d,#228d8d,#218e8d,#21908d,#20928c,#20928c,#1f948c,#1f958b,#1f978b,#1f988b,#1f998a,#1f9a8a,#1e9c89,#1e9d89,#1f9e89,#1f9e89,#1f9f88,#1fa088,#1fa088,#1fa088,#1fa088,#1f9f88,#1f9e89,#1e9d89,#1e9c89)"></i>
<i style="background:linear-gradient(90deg,#297b8e,#287c8e,#287c8e,#287d8e,#277e8e,#277e8e,#277f8e,#27808e,#26818e,#26828e,#25838e,#25848e,#25858e,#24868e,#23888e,#23898e,#238a8d,#228c8d,#228d8d,#218f8d,#21908d,#20928c,#20928c,#1f948c,#1f958b,#1f978b,#1f988b,#1f998a,#1f9a8a,#1e9b8a,#1e9c89,#1e9d89,#1f9e89,#1f9f88,#1f9f88,#1f9f88,#1f9f88,#1f9f88,#1f9e89,#1e9d89,#1e9c89,#1e9b8a)"></i>
<i style="background:linear-gradient(90deg,#287c8e,#287c8e,#287d8e,#277e8e,#277e8e,#277f8e,#27808e,#26818e,#26828e,#26828e,#25838e,#25848e,#24868e,#24878e,#23888e,#23898e,#228b8d,#228c8d,#218e8d,#218f8d,#21918c,#20928c,#20938c,#1f948c,#1f958b,#1f978b,#1f988b,#1f998a,#1f9a8a,#1e9b8a,#1e9c89,#1e9d89,#1f9e89,#1f9e89,#1f9e89,#1f9f88,#1f9e89,#1f9e89,#1e9d89,#1e9c89,#1e9b8a,#1f9a8a)"></i>
<i style="background:linear-gradient(90deg,#287d8e,#287d8e,#277e8e,#277e8e,#277f8e,#27808e,#26818e,#26828e,#26828e,#25838e,#25848e,#25858e,#24868e,#24878e,#23898e,#238a8d,#228b8d,#228d8d,#218e8d,#218f8d,#21918c,#20928c,#20938c,#1f948c,#1f958b,#1f978b,#1f988b,#1f998a,#1f9a8a,#1e9b8a,#1e9c89,#1e9d89,#1e9d89,#1f9e89,#1f9e89,#1f9e89,#1f9e89,#1e9d89,#1e9c89,#1e9b8a,#1f9a8a,#1f998a)"></i>
<i style="background:linear-gradient(90deg,#277e8e,#277e8e,#277f8e,#277f8e,#27808e,#26818e,#26828e,#26828e,#26828e,#25838e,#25848e,#24868e,#24878e,#23888e,#23898e,#238a8d,#228c8d,#228d8d,#218e8d,#21908d,#21918c,#20928c,#20938c,#1f948c,#1f958b,#1f978b,#1f988b,#1f998a,#1f9a8a,#1e9b8a,#1e9c89,#1e9c89,#1e9d89,#1e9d89,#1e9d89,#1e9d89,#1e9d89,#1e9c89,#1e9c89,#1f9a8a,#1f998a,#1f988b)"></i>
<i style="background:linear-gradient(90deg,#277f8e,#277f8e,#27808e,#27808e,#26818e,#26828e,#26828e,#26828e,#25838e,#25848e,#25858e,#24868e,#24878e,#23888e,#23898e,#228b8d,#228c8d,#228d8d,#218f8d,#21908d,#21918c,#20928c,#20938c,#1f948c,#1f968b,#1f978b,#1f988b,#1f998a,#1f9a8a,#1e9b8a,#1e9b8a,#1e9c89,#1e9c89,#1e9d89,#1e9d89,#1e9d89,#1e9c89,#1e9c89,#1e9b8a,#1f998a,#1f988b,#1f968b)"></i>
<i style="background:linear-gradient(90deg,#27808e,#27808e,#27808e,#26818e,#26828e,#26828e,#26828e,#25838e,#25848e,#25858e,#24868e,#24878e,#23888e,#23898e,#238a8d,#228b8d,#228c8d,#218e8d,#218f8d,#21908d,#20928c,#20928c,#20938c,#1f948c,#1f968b,#1f978b,#1f988b,#1f998a,#1f9a8a,#1f9a8a,#1e9b8a,#1e9c89,#1e9c89,#1e9c89,#1e9c89,#1e9c89,#1e9c89,#1e9b8a,#1f9a8a,#1f988b,#1f978b,#1f958b)"></i>
<i style="background:linear-gradient(90deg,#26818e,#26818e,#26818e,#26828e,#26828e,#26828e,#25838e,#25848e,#25848e,#25858e,#24868e,#24878e,#23888e,#23898e,#238a8d,#228c8d,#228d8d,#218e8d,#218f8d,#21918c,#20928c,#20928c,#20938c,#1f958b,#1f968b,#1f978b,#1f988b,#1f998a,#1f998a,#1f9a8a,#1e9b8a,#1e9b8a,#1e9c89,#1e9c89,#1e9c89,#1e9b8a,#1e9b8a,#1f9a8a,#1f998a,#1f988b,#1f968b,#1f948c)"></i>
<i style="background:linear-gradient(90deg,#26828e,#26828e,#26828e,#26828e,#26828e,#25838e,#25848e,#25848e,#25858e,#24868e,#24878e,#23888e,#23898e,#238a8d,#228b8d,#228c8d,#228d8d,#218e8d,#21908d,#21918c,#20928c,#20928c,#1f948c,#1f958b,#1f968b,#1f978b,#1f988b,#1f998a,#1f998a,#1f9a8a,#1f9a8a,#1e9b8a,#1e9b8a,#1e9b8a,#1e9b8a,#1e9b8a,#1f9a8a,#1f998a,#1f988b,#1f978b,#1f958b,#20938c)"></i>
<i style="background:linear-gradient(90deg,#26828e,#26828e,#26828e,#25838e,#25838e,#25848e,#25848e,#25858e,#24868e,#24878e,#23888e,#23898e,#23898e,#238a8d,#228b8d,#228d8d,#218e8d,#218f8d,#21908d,#21918c,#20928c,#20938c,#1f948c,#1f958b,#1f968b,#1f978b,#1f988b,#1f988b,#1f998a,#1f9a8a,#1f9a8a,#1e9b8a,#1e9b8a,#1e9b8a,#1e9b8a,#1f9a8a,#1f998a,#1f988b,#1f978b,#1f968b,#1f948c,#20928c)"></i>
<i style="background:linear-gradient(90deg,#26828e,#25838e,#25838e,#25838e,#25848e,#25848e,#25858e,#24868e,#24878e,#24878e,#23888e,#23898e,#238a8d,#228b8d,#228c8d,#228d8d,#218e8d,#218f8d,#21908d,#20928c,#20928c,#20938c,#1f948c,#1f958b,#1f968b,#1f978b,#1f988b,#1f988b,#1f998a,#1f9a8a,#1f9a8a,#1f9a8a,#1f9a8a,#1f9a8a,#1f9a8a,#1f998a,#1f998a,#1f988b,#1f968b,#1f958b,#20938c,#20928c)"></i>
<i style="background:linear-gradient(90deg,#25838e,#25848e,#25848e,#25848e,#25858e,#25858e,#24868e,#24868e,#24878e,#23888e,#23898e,#238a8d,#228b8d,#228c8d,#228c8d,#228d8d,#218f8d,#21908d,#21918c,#20928c,#20928c,#20938c,#1f948c,#1f958b,#1f968b,#1f978b,#1f988b,#1f988b,#1f998a,#1f998a,#1f9a8a,#1f9a8a,#1f9a8a,#1f9a8a,#1f998a,#1f998a,#1f988b,#1f978b,#1f958b,#1f948c,#20928c,#21908d)"></i>
<i style="background:linear-gradient(90deg,#25848e,#25848e,#25858e,#25858e,#24868e,#24868e,#24878e,#24878e,#23888e,#23898e,#238a8d,#238a8d,#228b8d,#228c8d,#228d8d,#218e8d,#218f8d,#21908d,#21918c,#20928c,#20928c,#20938c,#1f948c,#1f958b,#1f968b,#1f978b,#1f988b,#1f988b,#1f998a,#1f998a,#1f998a,#1f9a8a,#1f998a,#1f998a,#1f998a,#1f988b,#1f978b,#1f968b,#1f948c,#20938c,#20928c,#218f8d)"></i>
<i style="background:linear-gradient(90deg,#25858e,#25858e,#24868e,#24868e,#24868e,#24878e,#24878e,#23888e,#23898e,#23898e,#238a8d,#228b8d,#228c8d,#228d8d,#228d8d,#218e8d,#218f8d,#21908d,#21918c,#20928c,#20928c,#20938c,#1f948c,#1f958b,#1f968b,#1f978b,#1f988b,#1f988b,#1f998a,#1f998a,#1f998a,#1f998a,#1f998a,#1f998a,#1f988b,#1f988b,#1f978b,#1f958b,#1f948c,#20928c,#21918c,#218e8d)"></i>
<i style="background:linear-gradient(90deg,#24868e,#24868e,#24868e,#24878e,#24878e,#23888e,#23888e,#23898e,#23898e,#238a8d,#228b8d,#228c8d,#228c8d,#228d8d,#218e8d,#218f8d,#21908d,#21918c,#20928c,#20928c,#20938c,#1f948c,#1f958b,#1f958b,#1f968b,#1f978b,#1f988b,#1f988b,#1f988b,#1f998a,#1f998a,#1f998a,#1f998a,#1f988b,#1f988b,#1f978b,#1f968b,#1f948c,#20938c,#20928c,#218f8d,#228d8d)"></i>
<i style="background:linear-gradient(90deg,#24878e,#24878e,#24878e,#23888e,#23888e,#23888e,#23898e,#23898e,#238a8d,#228b8d,#228b8d,#228c8d,#228d8d,#218e8d,#218e8d,#218f8d,#21908d,#21918c,#20928c,#20928c,#20938c,#1f948c,#1f958b,#1f968b,#1f968b,#1f978b,#1f988b,#1f988b,#1f988b,#1f988b,#1f998a,#1f988b,#1f988b,#1f988b,#1f978b,#1f968b,#1f958b,#1f948c,#20928c,#21918c,#218e8d,#228c8d)"></i>
<i style="background:linear-gradient(90deg,#23888e,#23888e,#23888e,#23898e,#23898e,#23898e,#238a8d,#238a8d,#228b8d,#228b8d,#228c8d,#228d8d,#228d8d,#218e8d,#218f8d,#21908d,#21918c,#20928c,#20928c,#20928c,#20938c,#1f948c,#1f958b,#1f968b,#1f968b,#1f978b,#1f978b,#1f988b,#1f988b,#1f988b,#1f988b,#1f988b,#1f988b,#1f978b,#1f978b,#1f968b,#1f948c,#20938c,#20928c,#21908d,#228d8d,#228b8d)"></i>
<i style="background:linear-gradient(90deg,#23898e,#23898e,#23898e,#23898e,#238a8d,#238a8d,#238a8d,#228b8d,#228c8d,#228c8d,#228d8d,#228d8d,#218e8d,#218f8d,#218f8d,#21908d,#21918c,#20928c,#20928c,#20938c,#1f948c,#1f948c,#1f958b,#1f968b,#1f968b,#1f978b,#1f978b,#1f988b,#1f988b,#1f988b,#1f988b,#1f988b,#1f978b,#1f978b,#1f968b,#1f958b,#1f948c,#20928c,#21918c,#218f8d,#228c8d,#23898e)"></i>
<i style="background:linear-gradient(90deg,#238a8d,#238a8d,#238a8d,#238a8d,#228b8d,#228b8d,#228b8d,#228c8d,#228c8d,#228d8d,#228d8d,#218e8d,#218f8d,#218f8d,#21908d,#21918c,#21918c,#20928c,#20928c,#20938c,#1f948c,#1f958b,#1f958b,#1f968b,#1f978b,#1f978b,#1f978b,#1f988b,#1f988b,#1f988b,#1f988b,#1f978b,#1f978b,#1f968b,#1f958b,#1f948c,#20938c,#20928c,#21908d,#218e8d,#228b8d,#23888e)"></i>
<i style="background:linear-gradient(90deg,#228b8d,#228b8d,#228b8d,#228b8d,#228b8d,#228c8d,#228c8d,#228c8d,#228d8d,#228d8d,#218e8d,#218f8d,#218f8d,#21908d,#21908d,#21918c,#20928c,#20928c,#20928c,#20938c,#1f948c,#1f958b,#1f958b,#1f968b,#1f978b,#1f978b,#1f978b,#1f988b,#1f988b,#1f988b,#1f978b,#1f978b,#1f968b,#1f968b,#1f958b,#1f948c,#20928c,#21918c,#218f8d,#228d8d,#238a8d,#24878e)"></i>
<i style="background:linear-gradient(90deg,#228c8d,#228c8d,#228c8d,#228c8d,#228c8d,#228d8d,#228d8d,#228d8d,#218e8d,#218e8d,#218f8d,#218f8d,#21908d,#21908d,#21918c,#20928c,#20928c,#20928c,#20938c,#1f948c,#1f948c,#1f958b,#1f968b,#1f968b,#1f978b,#1f978b,#1f978b,#1f978b,#1f978b,#1f978b,#1f978b,#1f978b,#1f968b,#1f958b,#1f948c,#20938c,#20928c,#21908d,#218e8d,#228c8d,#23898e,#24868e)"></i>
<i style="background:linear-gradient(90deg,#228d8d,#228d8d,#228d8d,#228d8d,#228d8d,#228d8d,#218e8d,#218e8d,#218e8d,#218f8d,#218f8d,#21908d,#21908d,#21918c,#21918c,#20928c,#20928c,#20928c,#20938c,#1f948c,#1f958b,#1f958b,#1f968b,#1f968b,#1f978b,#1f978b,#1f978b,#1f978b,#1f978b,#1f978b,#1f978b,#1f968b,#1f968b,#1f958b,#1f948c,#20928c,#20928c,#21908d,#228d8d,#228b8d,#23888e,#25858e)"></i>
<i style="background:linear-gradient(90deg,#218e8d,#218e8d,#218e8d,#218e8d,#218e8d,#218e8d,#218e8d,#218f8d,#218f8d,#21908d,#21908d,#21908d,#21918c,#21918c,#20928c,#20928c,#20928c,#20938c,#1f948c,#1f948c,#1f958b,#1f958b,#1f968b,#1f968b,#1f978b,#1f978b,#1f978b,#1f978b,#1f978b,#1f978b,#1f968b,#1f968b,#1f958b,#1f948c,#20938c,#20928c,#21918c,#218f8d,#228c8d,#238a8d,#24878e,#25838e)"></i>
<i style="background:linear-gradient(90deg,#218f8d,#218e8d,#218e8d,#218f8d,#218f8d,#218f8d,#218f8d,#218f8d,#21908d,#21908d,#21918c,#21918c,#21918c,#20928c,#20928c,#20928c,#20938c,#20938c,#1f948c,#1f948c,#1f958b,#1f968b,#1f968b,#1f978b,#1f978b,#1f978b,#1f978b,#1f978b,#1f978b,#1f978b,#1f968b,#1f968b,#1f958b,#1f948c,#20928c,#20928c,#21908d,#218e8d,#228b8d,#23898e,#24868e,#26828e)"></i>
<i style="background:linear-gradient(90deg,#21908d,#218f8d,#218f8d,#218f8d,#21908d,#21908d,#21908d,#21908d,#21918c,#21918c,#21918c,#20928c,#20928c,#20928c,#20928c,#20928c,#20938c,#1f948c,#1f948c,#1f958b,#1f958b,#1f968b,#1f968b,#1f978b,#1f978b,#1f978b,#1f978b,#1f978b,#1f978b,#1f968b,#1f968b,#1f958b,#1f948c,#20938c,#20928c,#21918c,#218f8d,#228d8d,#228b8d,#23888e,#25848e,#26828e)"></i>
<i style="background:linear-gradient(90deg,#21908d,#21908d,#21908d,#21908d,#21908d,#21918c,#21918c,#21918c,#21918c,#20928c,#20928c,#20928c,#20928c,#20928c,#20928c,#20938c,#20938c,#1f948c,#1f958b,#1f958b,#1f968b,#1f968b,#1f978b,#1f978b,#1f978b,#1f978b,#1f978b,#1f978b,#1f978b,#1f968b,#1f968b,#1f958b,#1f948c,#20938c,#20928c,#21918c,#218f8d,#228c8d,#238a8d,#24878e,#25838e,#26818e)"></i>
<i style="background:linear-gradient(90deg,#21918c,#21918c,#21918c,#21918c,#21918c,#21918c,#20928c,#20928c,#20928c,#20928c,#20928c,#20928c,#20928c,#20938c,#20938c,#20938c,#1f948c,#1f948c,#1f958b,#1f958b,#1f968b,#1f968b,#1f978b,#1f978b,#1f978b,#1f978b,#1f978b,#1f978b,#1f968b,#1f968b,#1f958b,#1f948c,#20938c,#20928c,#20928c,#21908d,#218e8d,#228b8d,#23898e,#24868e,#26828e,#27808e)"></i>
<i style="background:linear-gradient(90deg,#20928c,#20928c,#20928c,#20928c,#20928c,#20928c,#20928c,#20928c,#20928c,#20928c,#20928c,#20928c,#20938c,#20938c,#20938c,#1f948c,#1f948c,#1f958b,#1f958b,#1f968b,#1f968b,#1f978b,#1f978b,#1f978b,#1f978b,#1f978b,#1f978b,#1f978b,#1f968b,#1f968b,#1f958b,#1f948c,#20938c,#20928c,#21918c,#218f8d,#228d8d,#228b8d,#23888e,#25858e,#26828e,#277e8e)"></i>
<i style="background:linear-gradient(90deg,#20928c,#20928c,#20928c,#20928c,#20928c,#20928c,#20928c,#20928c,#20928c,#20938c,#20938c,#20938c,#20938c,#1f948c,#1f948c,#1f948c,#1f958b,#1f958b,#1f968b,#1f968b,#1f968b,#1f978b,#1f978b,#1f978b,#1f978b,#1f978b,#1f978b,#1f978b,#1f968b,#1f958b,#1f958b,#1f948c,#20928c,#20928c,#21908d,#218f8d,#228c8d,#238a8d,#24878e,#25838e,#26818e,#287d8e)"></i>
<i style="background:linear-gradient(90deg,#20938c,#20938c,#20938c,#20938c,#20938c,#20938c,#20938c,#20938c,#20938c,#20938c,#20938c,#1f948c,#1f948c,#1f948c,#1f948c,#1f958b,#1f958b,#1f958b,#1f968b,#1f968b,#1f978b,#1f978b,#1f978b,#1f978b,#1f978b,#1f978b,#1f978b,#1f968b,#1f968b,#1f958b,#1f948c,#20938c,#20928c,#20928c,#21908d,#218e8d,#228c8d,#23898e,#24868e,#26828e,#27808e,#287c8e)"></i>
<i style="background:linear-gradient(90deg,#1f948c,#1f948c,#1f948c,#1f948c,#1f948c,#1f948c,#1f948c,#1f948c,#1f948c,#1f948c,#1f948c,#1f948c,#1f948c,#1f958b,#1f958b,#1f958b,#1f968b,#1f968b,#1f968b,#1f978b,#1f978b,#1f978b,#1f978b,#1f978b,#1f978b,#1f978b,#1f978b,#1f968b,#1f968b,#1f958b,#1f948c,#20938c,#20928c,#21918c,#218f8d,#228d8d,#228b8d,#23888e,#25858e,#26828e,#277f8e,#297b8e)"></i>
<i style="background:linear-gradient(90deg,#1f958b,#1f958b,#1f958b,#1f958b,#1f948c,#1f948c,#1f948c,#1f958b,#1f958b,#1f958b,#1f958b,#1f958b,#1f958b,#1f958b,#1f958b,#1f968b,#1f968b,#1f968b,#1f978b,#1f978b,#1f978b,#1f978b,#1f978b,#1f978b,#1f978b,#1f978b,#1f978b,#1f968b,#1f958b,#1f958b,#1f948c,#20928c,#20928c,#21908d,#218f8d,#228c8d,#238a8d,#24878e,#25848e,#26818e,#277e8e,#29798e)"></i>
<i style="background:linear-gradient(90deg,#1f968b,#1f968b,#1f968b,#1f958b,#1f958b,#1f958b,#1f958b,#1f958b,#1f958b,#1f958b,#1f958b,#1f958b,#1f968b,#1f968b,#1f968b,#1f968b,#1f968b,#1f978b,#1f978b,#1f978b,#1f978b,#1f988b,#1f988b,#1f988b,#1f978b,#1f978b,#1f978b,#1f968b,#1f958b,#1f948c,#20938c,#20928c,#20928c,#21908d,#218e8d,#228c8d,#23898e,#24868e,#25838e,#27808e,#287c8e,#2a788e)"></i>
<i style="background:linear-gradient(90deg,#1f978b,#1f978b,#1f968b,#1f968b,#1f968b,#1f968b,#1f968b,#1f968b,#1f968b,#1f968b,#1f968b,#1f968b,#1f968b,#1f968b,#1f968b,#1f978b,#1f978b,#1f978b,#1f978b,#1f978b,#1f988b,#1f988b,#1f988b,#1f988b,#1f978b,#1f978b,#1f978b,#1f968b,#1f958b,#1f948c,#20938c,#20928c,#21918c,#218f8d,#228d8d,#228b8d,#23888e,#25858e,#26828e,#277f8e,#297b8e,#2a778e)"></i>
<i style="background:linear-gradient(90deg,#1f988b,#1f988b,#1f978b,#1f978b,#1f978b,#1f978b,#1f978b,#1f978b,#1f978b,#1f978b,#1f978b,#1f978b,#1f978b,#1f978b,#1f978b,#1f978b,#1f978b,#1f978b,#1f988b,#1f988b,#1f988b,#1f988b,#1f988b,#1f988b,#1f988b,#1f978b,#1f978b,#1f968b,#1f958b,#1f948c,#20938c,#20928c,#21918c,#218f8d,#228d8d,#238a8d,#23888e,#25858e,#26828e,#277e8e,#297a8e,#2a768e)"></i>
<i style="background:linear-gradient(90deg,#1f998a,#1f998a,#1f988b,#1f988b,#1f988b,#1f988b,#1f988b,#1f988b,#1f978b,#1f978b,#1f978b,#1f978b,#1f978b,#1f978b,#1f978b,#1f978b,#1f988b,#1f988b,#1f988b,#1f988b,#1f988b,#1f988b,#1f988b,#1f988b,#1f988b,#1f978b,#1f968b,#1f968b,#1f958b,#1f948c,#20928c,#20928c,#21908d,#218e8d,#228c8d,#238a8d,#24878e,#25848e,#26818e,#287d8e,#29798e,#2b748e)"></i>
<i style="background:linear-gradient(90deg,#1f9a8a,#1f998a,#1f998a,#1f998a,#1f998a,#1f988b,#1f988b,#1f988b,#1f988b,#1f988b,#1f988b,#1f988b,#1f988b,#1f988b,#1f988b,#1f988b,#1f988b,#1f988b,#1f988b,#1f988b,#1f988b,#1f988b,#1f988b,#1f988b,#1f988b,#1f978b,#1f968b,#1f968b,#1f948c,#20938c,#20928c,#21918c,#21908d,#218e8d,#228b8d,#23898e,#24868e,#25838e,#27808e,#287c8e,#2a788e,#2c738e)"></i>
<i style="background:linear-gradient(90deg,#1e9b8a,#1f9a8a,#1f9a8a,#1f9a8a,#1f998a,#1f998a,#1f998a,#1f998a,#1f998a,#1f998a,#1f998a,#1f988b,#1f988b,#1f988b,#1f988b,#1f988b,#1f988b,#1f988b,#1f998a,#1f998a,#1f998a,#1f998a,#1f988b,#1f988b,#1f988b,#1f978b,#1f968b,#1f958b,#1f948c,#20938c,#20928c,#21918c,#218f8d,#228d8d,#228b8d,#23888e,#25858e,#26828e,#277f8e,#297b8e,#2a768e,#2c728e)"></i>
<i style="background:linear-gradient(90deg,#1e9c89,#1e9b8a,#1e9b8a,#1e9b8a,#1f9a8a,#1f9a8a,#1f9a8a,#1f9a8a,#1f9a8a,#1f998a,#1f998a,#1f998a,#1f998a,#1f998a,#1f998a,#1f998a,#1f998a,#1f998a,#1f998a,#1f998a,#1f998a,#1f998a,#1f998a,#1f988b,#1f988b,#1f978b,#1f968b,#1f958b,#1f948c,#20938c,#20928c,#21908d,#218f8d,#228c8d,#238a8d,#24878e,#25848e,#26828e,#277e8e,#297a8e,#2b758e,#2d718e)"></i>
<i style="background:linear-gradient(90deg,#1e9d89,#1e9c89,#1e9c89,#1e9b8a,#1e9b8a,#1e9b8a,#1e9b8a,#1e9b8a,#1f9a8a,#1f9a8a,#1f9a8a,#1f9a8a,#1f9a8a,#1f998a,#1f998a,#1f998a,#1f998a,#1f998a,#1f998a,#1f998a,#1f998a,#1f998a,#1f998a,#1f988b,#1f988b,#1f978b,#1f968b,#1f958b,#1f948c,#20928c,#20928c,#21908d,#218e8d,#228c8d,#23898e,#24878e,#25848e,#26818e,#287d8e,#29798e,#2b748e,#2d708e)"></i>
<i style="background:linear-gradient(90deg,#1f9e89,#1e9d89,#1e9d89,#1e9c89,#1e9c89,#1e9c89,#1e9b8a,#1e9b8a,#1e9b8a,#1e9b8a,#1e9b8a,#1f9a8a,#1f9a8a,#1f9a8a,#1f9a8a,#1f9a8a,#1f9a8a,#1f9a8a,#1f9a8a,#1f998a,#1f998a,#1f998a,#1f998a,#1f988b,#1f988b,#1f978b,#1f968b,#1f958b,#1f948c,#20928c,#21918c,#21908d,#218e8d,#228b8d,#23898e,#24868e,#25838e,#27808e,#287c8e,#2a788e,#2c738e,#2e6f8e)"></i>
<i style="background:linear-gradient(90deg,#1f9f88,#1f9e89,#1f9e89,#1e9d89,#1e9d89,#1e9d89,#1e9c89,#1e9c89,#1e9c89,#1e9b8a,#1e9b8a,#1e9b8a,#1e9b8a,#1f9a8a,#1f9a8a,#1f9a8a,#1f9a8a,#1f9a8a,#1f9a8a,#1f9a8a,#1f9a8a,#1f998a,#1f998a,#1f988b,#1f988b,#1f978b,#1f968b,#1f958b,#20938c,#20928c,#21918c,#218f8d,#228d8d,#228b8d,#23888e,#25858e,#26828e,#277f8e,#297b8e,#2a768e,#2c728e,#2e6e8e)"></i>
<i style="background:linear-gradient(90deg,#1f9f88,#1f9f88,#1f9e89,#1f9e89,#1f9e89,#1e9d89,#1e9d89,#1e9d89,#1e9c89,#1e9c89,#1e9c89,#1e9b8a,#1e9b8a,#1e9b8a,#1e9b8a,#1e9b8a,#1f9a8a,#1f9a8a,#1f9a8a,#1f9a8a,#1f9a8a,#1f9a8a,#1f998a,#1f998a,#1f988b,#1f978b,#1f968b,#1f958b,#20938c,#20928c,#21918c,#218f8d,#228d8d,#238a8d,#24878e,#25848e,#26828e,#277e8e,#297a8e,#2b758e,#2d718e,#2f6c8e)"></i>
<i style="background:linear-gradient(90deg,#1fa088,#1fa088,#1f9f88,#1f9f88,#1f9e89,#1f9e89,#1f9e89,#1e9d89,#1e9d89,#1e9d89,#1e9c89,#1e9c89,#1e9c89,#1e9b8a,#1e9b8a,#1e9b8a,#1e9b8a,#1e9b8a,#1e9b8a,#1f9a8a,#1f9a8a,#1f9a8a,#1f998a,#1f998a,#1f988b,#1f978b,#1f968b,#1f948c,#20938c,#20928c,#21908d,#218e8d,#228c8d,#23898e,#24878e,#25848e,#26818e,#287d8e,#29798e,#2b748e,#2d708e,#2f6b8e)"></i>
<i style="background:linear-gradient(90deg,#1fa188,#1fa188,#1fa088,#1fa088,#1f9f88,#1f9f88,#1f9f88,#1f9e89,#1f9e89,#1e9d89,#1e9d89,#1e9d89,#1e9c89,#1e9c89,#1e9c89,#1e9b8a,#1e9b8a,#1e9b8a,#1e9b8a,#1e9b8a,#1f9a8a,#1f9a8a,#1f998a,#1f998a,#1f988b,#1f978b,#1f968b,#1f948c,#20938c,#20928c,#21908d,#218e8d,#228b8d,#23898e,#24868e,#25838e,#27808e,#287c8e,#2a788e,#2c738e,#2e6f8e,#306a8e)"></i>
<i style="background:linear-gradient(90deg,#1fa187,#1fa187,#1fa188,#1fa188,#1fa088,#1fa088,#1f9f88,#1f9f88,#1f9f88,#1f9e89,#1f9e89,#1e9d89,#1e9d89,#1e9d89,#1e9c89,#1e9c89,#1e9c89,#1e9b8a,#1e9b8a,#1e9b8a,#1e9b8a,#1f9a8a,#1f9a8a,#1f998a,#1f988b,#1f978b,#1f968b,#1f948c,#20928c,#20928c,#21908d,#228d8d,#228b8d,#23888e,#25858e,#26828e,#27808e,#297b8e,#2a778e,#2c728e,#2e6e8e,#31688e)"></i>
<i style="background:linear-gradient(90deg,#1fa287,#1fa187,#1fa187,#1fa188,#1fa188,#1fa088,#1fa088,#1fa088,#1f9f88,#1f9f88,#1f9e89,#1f9e89,#1e9d89,#1e9d89,#1e9d89,#1e9c89,#1e9c89,#1e9c89,#1e9b8a,#1e9b8a,#1e9b8a,#1f9a8a,#1f9a8a,#1f998a,#1f988b,#1f978b,#1f958b,#1f948c,#20928c,#21918c,#218f8d,#228d8d,#238a8d,#23888e,#25858e,#26828e,#277f8e,#297a8e,#2a768e,#2c718e,#2f6c8e,#31678e)"></i>
<i style="background:linear-gradient(90deg,#20a386,#1fa287,#1fa287,#1fa187,#1fa187,#1fa188,#1fa188,#1fa088,#1fa088,#1f9f88,#1f9f88,#1f9e89,#1f9e89,#1f9e89,#1e9d89,#1e9d89,#1e9c89,#1e9c89,#1e9c89,#1e9b8a,#1e9b8a,#1f9a8a,#1f9a8a,#1f998a,#1f988b,#1f978b,#1f958b,#1f948c,#20928c,#21918c,#218f8d,#228c8d,#238a8d,#24878e,#25848e,#26828e,#277e8e,#297a8e,#2b758e,#2d718e,#2f6b8e,#32658e)"></i>
<i style="background:linear-gradient(90deg,#20a486,#20a386,#20a386,#1fa287,#1fa287,#1fa187,#1fa187,#1fa188,#1fa188,#1fa088,#1fa088,#1f9f88,#1f9f88,#1f9e89,#1f9e89,#1e9d89,#1e9d89,#1e9d89,#1e9c89,#1e9c89,#1e9b8a,#1e9b8a,#1f9a8a,#1f998a,#1f988b,#1f978b,#1f958b,#1f948c,#20928c,#21918c,#218e8d,#228c8d,#23898e,#24868e,#25838e,#26818e,#287d8e,#29798e,#2b748e,#2e6f8e,#306a8e,#32648e)"></i>
<i style="background:linear-gradient(90deg,#21a585,#20a486,#20a486,#20a386,#1fa287,#1fa287,#1fa187,#1fa187,#1fa188,#1fa188,#1fa088,#1fa088,#1f9f88,#1f9f88,#1f9e89,#1f9e89,#1e9d89,#1e9d89,#1e9c89,#1e9c89,#1e9b8a,#1e9b8a,#1f9a8a,#1f998a,#1f988b,#1f978b,#1f958b,#20938c,#20928c,#21908d,#218e8d,#228c8d,#23898e,#24868e,#25838e,#27808e,#287c8e,#2a788e,#2c738e,#2e6e8e,#30698e,#33638d)"></i>
<i style="background:linear-gradient(90deg,#21a685,#21a585,#20a486,#20a486,#20a386,#20a386,#1fa287,#1fa287,#1fa187,#1fa188,#1fa188,#1fa088,#1fa088,#1f9f88,#1f9f88,#1f9e89,#1f9e89,#1e9d89,#1e9d89,#1e9c89,#1e9c89,#1e9b8a,#1f9a8a,#1f998a,#1f988b,#1f978b,#1f958b,#20938c,#20928c,#21908d,#218e8d,#228b8d,#23888e,#25858e,#26828e,#277f8e,#297b8e,#2a778e,#2c728e,#2e6d8e,#31678e,#34618d)"></i>
<i style="background:linear-gradient(90deg,#22a785,#21a685,#21a585,#21a585,#20a486,#20a386,#20a386,#1fa287,#1fa287,#1fa187,#1fa188,#1fa188,#1fa088,#1fa088,#1f9f88,#1f9f88,#1f9e89,#1f9e89,#1e9d89,#1e9d89,#1e9c89,#1e9b8a,#1f9a8a,#1f998a,#1f988b,#1f978b,#1f958b,#20938c,#20928c,#21908d,#228d8d,#228b8d,#23888e,#25848e,#26828e,#277e8e,#297a8e,#2a768e,#2d718e,#2f6c8e,#31668e,#34608d)"></i>
<i style="background:linear-gradient(90deg,#22a884,#22a785,#21a685,#21a585,#21a585,#20a486,#20a486,#20a386,#1fa287,#1fa287,#1fa187,#1fa188,#1fa188,#1fa088,#1fa088,#1f9f88,#1f9e89,#1f9e89,#1e9d89,#1e9d89,#1e9c89,#1e9b8a,#1f9a8a,#1f998a,#1f988b,#1f968b,#1f958b,#20938c,#20928c,#218f8d,#228d8d,#238a8d,#24878e,#25848e,#26818e,#277e8e,#29798e,#2b758e,#2d708e,#2f6b8e,#32658e,#355e8d)"></i>
<i style="background:linear-gradient(90deg,#22a884,#22a884,#22a785,#21a685,#21a685,#21a585,#20a486,#20a486,#20a386,#1fa287,#1fa287,#1fa187,#1fa188,#1fa188,#1fa088,#1f9f88,#1f9f88,#1f9e89,#1f9e89,#1e9d89,#1e9c89,#1e9c89,#1f9a8a,#1f998a,#1f988b,#1f968b,#1f958b,#20938c,#21918c,#218f8d,#228c8d,#238a8d,#24868e,#25838e,#26818e,#287d8e,#2a788e,#2b748e,#2e6f8e,#30698e,#33638d,#365d8d)"></i>
<i style="background:linear-gradient(90deg,#23a983,#22a884,#22a884,#22a785,#21a685,#21a685,#21a585,#20a486,#20a486,#20a386,#1fa287,#1fa287,#1fa187,#1fa188,#1fa188,#1fa088,#1f9f88,#1f9f88,#1f9e89,#1e9d89,#1e9d89,#1e9c89,#1e9b8a,#1f998a,#1f988b,#1f968b,#1f958b,#20928c,#21918c,#218f8d,#228c8d,#23898e,#24868e,#26828e,#27808e,#287c8e,#2a778e,#2c738e,#2e6e8e,#31688e,#33628d,#375b8d)"></i>
<i style="background:linear-gradient(90deg,#24aa83,#23a983,#23a983,#22a884,#22a785,#22a785,#21a685,#21a585,#20a486,#20a486,#20a386,#1fa287,#1fa187,#1fa187,#1fa188,#1fa088,#1fa088,#1f9f88,#1f9e89,#1f9e89,#1e9d89,#1e9c89,#1e9b8a,#1f998a,#1f988b,#1f968b,#1f948c,#20928c,#21918c,#218e8d,#228c8d,#23898e,#25858e,#26828e,#277f8e,#297b8e,#2a778e,#2c728e,#2e6d8e,#31678e,#34618d,#375a8c)"></i>
<i style="background:linear-gradient(90deg,#25ab82,#24aa83,#24aa83,#23a983,#22a884,#22a785,#22a785,#21a685,#21a585,#20a486,#20a386,#20a386,#1fa287,#1fa187,#1fa187,#1fa188,#1fa088,#1f9f88,#1f9f88,#1f9e89,#1e9d89,#1e9c89,#1e9b8a,#1f998a,#1f988b,#1f968b,#1f948c,#20928c,#21918c,#218e8d,#228b8d,#23888e,#25858e,#26828e,#277e8e,#297a8e,#2a768e,#2d718e,#2f6c8e,#31668e,#355f8d,#38588c)"></i>
<i style="background:linear-gradient(90deg,#25ac82,#25ab82,#24aa83,#24aa83,#23a983,#22a884,#22a785,#21a685,#21a685,#21a585,#20a486,#20a386,#20a386,#1fa287,#1fa187,#1fa188,#1fa088,#1fa088,#1f9f88,#1f9e89,#1e9d89,#1e9c89,#1e9b8a,#1f9a8a,#1f988b,#1f968b,#1f948c,#20928c,#21908d,#218e8d,#228b8d,#23888e,#25848e,#26818e,#277e8e,#29798e,#2b758e,#2d708e,#2f6b8e,#32648e,#355e8d,#39568c)"></i>
<i style="background:linear-gradient(90deg,#26ad81,#25ac82,#25ab82,#24aa83,#24aa83,#23a983,#22a884,#22a785,#21a685,#21a685,#21a585,#20a486,#20a386,#1fa287,#1fa287,#1fa187,#1fa188,#1fa088,#1f9f88,#1f9e89,#1e9d89,#1e9c89,#1e9b8a,#1f9a8a,#1f988b,#1f968b,#1f948c,#20928c,#21908d,#228d8d,#238a8d,#24878e,#25848e,#26818e,#287d8e,#29798e,#2b748e,#2e6f8e,#306a8e,#33638d,#365c8d,#3a548c)"></i>
<i style="background:linear-gradient(90deg,#27ad81,#26ad81,#25ac82,#25ab82,#24aa83,#24aa83,#23a983,#22a884,#22a785,#21a685,#21a585,#20a486,#20a486,#20a386,#1fa287,#1fa187,#1fa188,#1fa088,#1fa088,#1f9f88,#1f9e89,#1e9c89,#1e9b8a,#1f9a8a,#1f988b,#1f968b,#1f948c,#20928c,#21908d,#228d8d,#238a8d,#24878e,#25838e,#27808e,#287c8e,#2a788e,#2c738e,#2e6e8e,#31688e,#33628d,#375b8d,#3a538b)"></i>
<i style="background:linear-gradient(90deg,#28ae80,#27ad81,#26ad81,#25ac82,#25ab82,#24aa83,#23a983,#23a983,#22a884,#22a785,#21a685,#21a585,#20a486,#20a386,#20a386,#1fa287,#1fa187,#1fa188,#1fa088,#1f9f88,#1f9e89,#1e9d89,#1e9b8a,#1f9a8a,#1f988b,#1f968b,#1f948c,#20928c,#21908d,#228d8d,#23898e,#24868e,#26828e,#277f8e,#297b8e,#2a778e,#2c728e,#2e6d8e,#31678e,#34618d,#375a8c,#3b518b)"></i>
<i style="background:linear-gradient(90deg,#29af7f,#28ae80,#27ad81,#26ad81,#25ac82,#25ab82,#24aa83,#23a983,#22a884,#22a785,#22a785,#21a685,#21a585,#20a486,#20a386,#1fa287,#1fa187,#1fa188,#1fa088,#1f9f88,#1f9e89,#1e9d89,#1e9b8a,#1f9a8a,#1f988b,#1f968b,#1f948c,#20928c,#218f8d,#228c8d,#23898e,#24868e,#26828e,#277f8e,#297b8e,#2a768e,#2c718e,#2f6c8e,#31668e,#355f8d,#38588c,#3c508b)"></i>
<i style="background:linear-gradient(90deg,#2ab07f,#29af7f,#28ae80,#27ad81,#26ad81,#25ac82,#25ab82,#24aa83,#23a983,#22a884,#22a785,#21a685,#21a585,#20a486,#20a386,#1fa287,#1fa187,#1fa188,#1fa088,#1f9f88,#1f9e89,#1e9d89,#1e9b8a,#1f9a8a,#1f988b,#1f968b,#20938c,#20928c,#218f8d,#228c8d,#23898e,#25858e,#26828e,#277e8e,#297a8e,#2b758e,#2d718e,#2f6b8e,#32658e,#355e8d,#39568c,#3d4e8a)"></i>
<i style="background:linear-gradient(90deg,#2cb17e,#2ab07f,#29af7f,#28ae80,#27ad81,#26ad81,#25ac82,#25ab82,#24aa83,#23a983,#22a884,#22a785,#21a685,#21a585,#20a486,#20a386,#1fa287,#1fa187,#1fa188,#1fa088,#1f9e89,#1e9d89,#1e9b8a,#1f9a8a,#1f988b,#1f968b,#20938c,#20928c,#218f8d,#228b8d,#23888e,#25848e,#26828e,#287d8e,#29798e,#2b748e,#2d708e,#306a8e,#32648e,#365d8d,#3a548c,#3d4d8a)"></i>
<i style="background:linear-gradient(90deg,#2cb17e,#2ab07f,#2ab07f,#29af7f,#28ae80,#27ad81,#25ac82,#25ab82,#24aa83,#23a983,#22a884,#22a785,#21a685,#21a585,#20a486,#20a386,#1fa287,#1fa187,#1fa188,#1fa088,#1f9f88,#1e9d89,#1e9c89,#1f9a8a,#1f988b,#1f968b,#20938c,#21918c,#218e8d,#228b8d,#23888e,#25848e,#26818e,#287d8e,#2a788e,#2c738e,#2e6f8e,#30698e,#33638d,#375b8d,#3a538b,#3e4a89)"></i>
<i style="background:linear-gradient(90deg,#2db27d,#2cb17e,#2ab07f,#29af7f,#28ae80,#27ad81,#26ad81,#25ac82,#25ab82,#24aa83,#23a983,#22a884,#22a785,#21a685,#21a585,#20a486,#20a386,#1fa287,#1fa188,#1fa088,#1f9f88,#1e9d89,#1e9c89,#1f9a8a,#1f988b,#1f958b,#20938c,#21918c,#218e8d,#228b8d,#24878e,#25838e,#27808e,#287c8e,#2a778e,#2c728e,#2e6e8e,#31688e,#34618d,#375a8c,#3b518b,#3e4989)"></i>
<i style="background:linear-gradient(90deg,#2eb37c,#2db27d,#2cb17e,#2ab07f,#29af7f,#28ae80,#27ad81,#26ad81,#25ac82,#25ab82,#24aa83,#23a983,#22a884,#21a685,#21a585,#20a486,#20a386,#1fa287,#1fa187,#1fa088,#1f9f88,#1e9d89,#1e9c89,#1f9a8a,#1f988b,#1f958b,#20938c,#21918c,#218e8d,#238a8d,#24878e,#25838e,#27808e,#297b8e,#2a778e,#2c718e,#2e6d8e,#31678e,#34608d,#38598c,#3c508b,#3f4788)"></i>
<i style="background:linear-gradient(90deg,#2fb47c,#2eb37c,#2db27d,#2cb17e,#2ab07f,#29af7f,#28ae80,#26ad81,#25ac82,#25ab82,#24aa83,#23a983,#22a884,#22a785,#21a685,#21a585,#20a386,#1fa287,#1fa187,#1fa188,#1f9f88,#1f9e89,#1e9c89,#1f9a8a,#1f988b,#1f958b,#20938c,#21918c,#228d8d,#238a8d,#24868e,#26828e,#277f8e,#297b8e,#2a768e,#2c718e,#2f6c8e,#31668e,#355f8d,#39568c,#3c4f8a,#404588)"></i>
<i style="background:linear-gradient(90deg,#31b57b,#2fb47c,#2eb37c,#2db27d,#2cb17e,#2ab07f,#28ae80,#27ad81,#26ad81,#25ac82,#25ab82,#24aa83,#23a983,#22a884,#21a685,#21a585,#20a486,#20a386,#1fa187,#1fa188,#1f9f88,#1f9e89,#1e9c89,#1f9a8a,#1f988b,#1f958b,#20928c,#21908d,#228d8d,#23898e,#24868e,#26828e,#277f8e,#297a8e,#2b758e,#2d718e,#2f6b8e,#32658e,#355e8d,#39558c,#3d4d8a,#414487)"></i>
<i style="background:linear-gradient(90deg,#32b67a,#31b57b,#2fb47c,#2eb37c,#2db27d,#2ab07f,#29af7f,#28ae80,#27ad81,#25ac82,#25ab82,#24aa83,#23a983,#22a884,#22a785,#21a685,#20a486,#20a386,#1fa287,#1fa188,#1fa088,#1f9e89,#1e9c89,#1f9a8a,#1f988b,#1f958b,#20928c,#21908d,#228d8d,#23898e,#25858e,#26828e,#277e8e,#29798e,#2b748e,#2d708e,#306a8e,#33638d,#365c8d,#3a548c,#3e4c8a,#424186)"></i>
<i style="background:linear-gradient(90deg,#34b679,#32b67a,#31b57b,#2fb47c,#2eb37c,#2cb17e,#2ab07f,#29af7f,#27ad81,#26ad81,#25ac82,#25ab82,#24aa83,#23a983,#22a785,#21a685,#21a585,#20a386,#1fa287,#1fa188,#1fa088,#1f9e89,#1e9c89,#1f9a8a,#1f978b,#1f958b,#20928c,#21908d,#228c8d,#23898e,#25858e,#26828e,#287d8e,#29798e,#2c738e,#2e6f8e,#30698e,#33628d,#375b8d,#3b528b,#3e4989,#423f85)"></i>
<i style="background:linear-gradient(90deg,#35b779,#34b679,#32b67a,#31b57b,#2eb37c,#2db27d,#2cb17e,#29af7f,#28ae80,#27ad81,#26ad81,#25ab82,#24aa83,#23a983,#22a884,#21a685,#21a585,#20a486,#1fa287,#1fa187,#1fa088,#1f9e89,#1e9c89,#1f9a8a,#1f978b,#1f958b,#20928c,#21908d,#228c8d,#23888e,#25848e,#26818e,#287d8e,#2a788e,#2c738e,#2e6e8e,#31688e,#34618d,#375a8c,#3b518b,#3f4788,#433e85)"></i>
<i style="background:linear-gradient(90deg,#37b878,#35b779,#34b679,#32b67a,#2fb47c,#2eb37c,#2cb17e,#2ab07f,#29af7f,#27ad81,#26ad81,#25ac82,#25ab82,#24aa83,#22a884,#22a785,#21a585,#20a486,#1fa287,#1fa187,#1fa088,#1f9e89,#1e9c89,#1f9a8a,#1f978b,#1f958b,#20928c,#218f8d,#228c8d,#23888e,#25848e,#26818e,#287c8e,#2a778e,#2c728e,#2e6d8e,#31678e,#34608d,#38598c,#3c4f8a,#404688,#443b84)"></i>
<i style="background:linear-gradient(90deg,#38b977,#37b878,#35b779,#34b679,#31b57b,#2fb47c,#2db27d,#2cb17e,#29af7f,#28ae80,#27ad81,#26ad81,#25ab82,#24aa83,#23a983,#22a785,#21a685,#20a486,#20a386,#1fa187,#1fa088,#1f9e89,#1e9c89,#1f9a8a,#1f978b,#1f948c,#20928c,#218f8d,#228b8d,#24878e,#25838e,#27808e,#297b8e,#2a768e,#2c718e,#2f6c8e,#31668e,#355f8d,#39568c,#3d4e8a,#414487,#443983)"></i>
<i style="background:linear-gradient(90deg,#3aba76,#38b977,#37b878,#34b679,#32b67a,#31b57b,#2eb37c,#2cb17e,#2ab07f,#29af7f,#27ad81,#26ad81,#25ac82,#25ab82,#23a983,#22a884,#21a685,#21a585,#20a386,#1fa187,#1fa088,#1f9e89,#1e9c89,#1f9a8a,#1f978b,#1f948c,#20928c,#218f8d,#228b8d,#24878e,#25838e,#277f8e,#297b8e,#2a768e,#2d718e,#2f6b8e,#32658e,#355e8d,#39558c,#3d4d8a,#414287,#453882)"></i>
<i style="background:linear-gradient(90deg,#3bbb75,#3aba76,#38b977,#35b779,#34b679,#31b57b,#2fb47c,#2db27d,#2cb17e,#29af7f,#28ae80,#27ad81,#25ac82,#25ab82,#24aa83,#22a884,#22a785,#21a585,#20a386,#1fa187,#1fa188,#1f9e89,#1e9c89,#1f9a8a,#1f978b,#1f948c,#20928c,#218e8d,#228b8d,#24868e,#26828e,#277f8e,#297a8e,#2b758e,#2d708e,#306a8e,#32648e,#365d8d,#3a548c,#3e4a89,#424086,#453581)"></i>
<i style="background:linear-gradient(90deg,#3dbc74,#3bbb75,#3aba76,#37b878,#35b779,#32b67a,#31b57b,#2eb37c,#2cb17e,#2ab07f,#29af7f,#27ad81,#26ad81,#25ac82,#24aa83,#23a983,#22a785,#21a585,#20a386,#1fa287,#1fa188,#1f9f88,#1e9c89,#1f9a8a,#1f978b,#1f948c,#20928c,#218e8d,#238a8d,#24868e,#26828e,#277e8e,#29798e,#2b748e,#2e6f8e,#30698e,#33638d,#365c8d,#3a538b,#3e4989,#423f85,#46337f)"></i>
<i style="background:linear-gradient(90deg,#40bd72,#3dbc74,#3bbb75,#38b977,#37b878,#34b679,#31b57b,#2fb47c,#2db27d,#2cb17e,#29af7f,#28ae80,#27ad81,#25ac82,#25ab82,#23a983,#22a785,#21a685,#20a486,#1fa287,#1fa188,#1f9f88,#1e9c89,#1f9a8a,#1f978b,#1f948c,#20928c,#218e8d,#238a8d,#25858e,#26828e,#277e8e,#29798e,#2c738e,#2e6e8e,#31688e,#34618d,#375a8c,#3b518b,#3f4788,#433d84,#46307e)"></i>
<i style="background:linear-gradient(90deg,#42be71,#3fbc73,#3dbc74,#3aba76,#38b977,#35b779,#32b67a,#2fb47c,#2eb37c,#2cb17e,#2ab07f,#28ae80,#27ad81,#26ad81,#25ab82,#23a983,#22a884,#21a685,#20a486,#1fa287,#1fa188,#1f9f88,#1e9c89,#1f9a8a,#1f978b,#1f948c,#21918c,#218e8d,#23898e,#25858e,#26828e,#287d8e,#2a788e,#2c738e,#2e6e8e,#31678e,#34608d,#38598c,#3c508b,#404688,#443a83,#472f7d)"></i>
<i style="background:linear-gradient(90deg,#44bf70,#40bd72,#3fbc73,#3bbb75,#38b977,#37b878,#34b679,#31b57b,#2eb37c,#2db27d,#2ab07f,#29af7f,#28ae80,#26ad81,#25ac82,#24aa83,#22a884,#21a685,#20a486,#1fa287,#1fa188,#1f9f88,#1e9c89,#1f9a8a,#1f978b,#1f948c,#21918c,#228d8d,#23898e,#25858e,#26818e,#287c8e,#2a778e,#2c728e,#2e6d8e,#31668e,#355f8d,#38588c,#3c4f8a,#414487,#443983,#472d7b)"></i>
<i style="background:linear-gradient(90deg,#46c06f,#42be71,#40bd72,#3dbc74,#3aba76,#38b977,#35b779,#32b67a,#2fb47c,#2eb37c,#2cb17e,#2ab07f,#28ae80,#27ad81,#25ac82,#24aa83,#22a884,#21a685,#20a486,#1fa287,#1fa188,#1f9f88,#1e9c89,#1f9a8a,#1f978b,#20938c,#21918c,#228d8d,#23898e,#25848e,#27808e,#287c8e,#2a768e,#2c718e,#2f6c8e,#32658e,#355e8d,#39568c,#3d4e8a,#414287,#453781,#472a7a)"></i>
<i style="background:linear-gradient(90deg,#48c16e,#44bf70,#42be71,#3fbc73,#3bbb75,#38b977,#35b779,#34b679,#31b57b,#2eb37c,#2db27d,#2ab07f,#29af7f,#27ad81,#26ad81,#25ab82,#23a983,#22a785,#21a585,#20a386,#1fa188,#1f9f88,#1e9c89,#1f9a8a,#1f978b,#20938c,#21918c,#228d8d,#23888e,#25848e,#27808e,#297b8e,#2a768e,#2d718e,#2f6b8e,#32648e,#365d8d,#39558c,#3e4c8a,#424186,#463480,#482878)"></i>
<i style="background:linear-gradient(90deg,#4ac16d,#46c06f,#44bf70,#40bd72,#3dbc74,#3aba76,#37b878,#34b679,#32b67a,#2fb47c,#2db27d,#2cb17e,#29af7f,#28ae80,#26ad81,#25ab82,#23a983,#22a785,#21a585,#20a386,#1fa188,#1f9f88,#1e9c89,#1f998a,#1f968b,#20938c,#21908d,#228c8d,#23888e,#25838e,#277f8e,#297a8e,#2b758e,#2d708e,#306a8e,#33638d,#365c8d,#3a538b,#3e4a89,#423f85,#46337f,#482576)"></i>
<i style="background:linear-gradient(90deg,#4cc26c,#48c16e,#46c06f,#42be71,#3fbc73,#3bbb75,#38b977,#35b779,#32b67a,#2fb47c,#2eb37c,#2cb17e,#2ab07f,#28ae80,#26ad81,#25ab82,#23a983,#22a785,#21a585,#20a386,#1fa187,#1f9f88,#1e9c89,#1f998a,#1f968b,#20938c,#21908d,#228c8d,#24878e,#25838e,#277f8e,#297a8e,#2b748e,#2e6f8e,#30698e,#33628d,#375b8d,#3b528b,#3e4989,#433e85,#46307e,#482475)"></i>
<i style="background:linear-gradient(90deg,#4ec36b,#4ac16d,#48c16e,#44bf70,#40bd72,#3dbc74,#3aba76,#37b878,#34b679,#31b57b,#2eb37c,#2db27d,#2ab07f,#29af7f,#27ad81,#25ac82,#24aa83,#22a884,#21a585,#20a386,#1fa187,#1f9f88,#1e9c89,#1f998a,#1f968b,#20938c,#21908d,#228c8d,#24878e,#26828e,#277e8e,#29798e,#2b748e,#2e6f8e,#31688e,#34618d,#375a8c,#3b518b,#3f4788,#443b84,#472e7c,#482173)"></i>
<i style="background:linear-gradient(90deg,#50c46a,#4cc26c,#4ac16d,#46c06f,#42be71,#3fbc73,#3bbb75,#38b977,#35b779,#32b67a,#2fb47c,#2eb37c,#2cb17e,#29af7f,#27ad81,#25ac82,#24aa83,#22a884,#21a685,#20a386,#1fa187,#1f9f88,#1e9c89,#1f998a,#1f968b,#20938c,#21908d,#228b8d,#24878e,#26828e,#287d8e,#2a788e,#2c738e,#2e6e8e,#31678e,#34608d,#38598c,#3c508b,#404688,#443a83,#472d7b,#481f70)"></i>
<i style="background:linear-gradient(90deg,#52c569,#4ec36b,#4cc26c,#48c16e,#44bf70,#40bd72,#3dbc74,#38b977,#35b779,#32b67a,#31b57b,#2eb37c,#2db27d,#2ab07f,#28ae80,#26ad81,#24aa83,#22a884,#21a685,#20a386,#1fa187,#1f9f88,#1e9c89,#1f998a,#1f968b,#20928c,#218f8d,#228b8d,#24868e,#26828e,#287d8e,#2a788e,#2c728e,#2e6d8e,#31668e,#355f8d,#39568c,#3d4e8a,#404588,#453882,#472a7a,#481c6e)"></i>
<i style="background:linear-gradient(90deg,#54c568,#50c46a,#4ec36b,#4ac16d,#46c06f,#42be71,#3dbc74,#3aba76,#37b878,#34b679,#31b57b,#2fb47c,#2db27d,#2ab07f,#28ae80,#26ad81,#25ab82,#23a983,#21a685,#20a486,#1fa187,#1f9f88,#1e9c89,#1f998a,#1f968b,#20928c,#218f8d,#228b8d,#24868e,#26818e,#287c8e,#2a778e,#2c718e,#2f6c8e,#32658e,#355e8d,#39558c,#3d4d8a,#414287,#453781,#482979,#481a6c)"></i>
<i style="background:linear-gradient(90deg,#58c765,#52c569,#50c46a,#4cc26c,#48c16e,#44bf70,#3fbc73,#3bbb75,#38b977,#35b779,#32b67a,#2fb47c,#2eb37c,#2cb17e,#29af7f,#26ad81,#25ab82,#23a983,#21a685,#20a486,#1fa187,#1f9f88,#1e9c89,#1f998a,#1f968b,#20928c,#218f8d,#238a8d,#25858e,#26818e,#287c8e,#2a768e,#2d718e,#2f6b8e,#32648e,#365d8d,#3a548c,#3e4c8a,#424186,#463480,#482677,#481769)"></i>
<i style="background:linear-gradient(90deg,#5ac864,#56c667,#52c569,#4ec36b,#4ac16d,#44bf70,#40bd72,#3dbc74,#3aba76,#35b779,#34b679,#31b57b,#2eb37c,#2cb17e,#29af7f,#27ad81,#25ab82,#23a983,#22a785,#20a486,#1fa187,#1f9f88,#1e9c89,#1f998a,#1f958b,#20928c,#218f8d,#238a8d,#25858e,#27808e,#297b8e,#2b758e,#2d708e,#306a8e,#33638d,#375b8d,#3a538b,#3e4a89,#424086,#46337f,#482475,#481668)"></i>
<i style="background:linear-gradient(90deg,#5cc863,#58c765,#54c568,#50c46a,#4cc26c,#46c06f,#42be71,#3fbc73,#3aba76,#37b878,#34b679,#31b57b,#2fb47c,#2db27d,#2ab07f,#27ad81,#25ac82,#23a983,#22a785,#20a486,#1fa187,#1f9f88,#1e9c89,#1f998a,#1f958b,#20928c,#218e8d,#238a8d,#25848e,#27808e,#297a8e,#2b758e,#2d708e,#30698e,#33628d,#375a8c,#3b518b,#3f4889,#433e85,#46307e,#482374,#471365)"></i>
<i style="background:linear-gradient(90deg,#5ec962,#5ac864,#56c667,#52c569,#4cc26c,#48c16e,#44bf70,#3fbc73,#3bbb75,#38b977,#35b779,#32b67a,#2fb47c,#2db27d,#2ab07f,#28ae80,#25ac82,#24aa83,#22a785,#20a486,#1fa187,#1f9f88,#1e9c89,#1f998a,#1f958b,#20928c,#218e8d,#23898e,#25848e,#277f8e,#297a8e,#2b748e,#2e6f8e,#31688e,#34618d,#38598c,#3c508b,#3f4788,#433d84,#472f7d,#482071,#471063)"></i>
<i style="background:linear-gradient(90deg,#60ca60,#5cc863,#58c765,#54c568,#4ec36b,#4ac16d,#46c06f,#40bd72,#3dbc74,#3aba76,#35b779,#34b679,#31b57b,#2eb37c,#2ab07f,#28ae80,#25ac82,#24aa83,#22a785,#20a486,#1fa187,#1f9f88,#1e9c89,#1f998a,#1f958b,#20928c,#218e8d,#23898e,#25848e,#277f8e,#29798e,#2c738e,#2e6e8e,#31678e,#34608d,#38588c,#3c4f8a,#404588,#443a83,#472d7b,#481d6f,#470d60)"></i>
<i style="background:linear-gradient(90deg,#63cb5f,#5ec962,#5ac864,#56c667,#50c46a,#4cc26c,#46c06f,#42be71,#3fbc73,#3aba76,#37b878,#34b679,#32b67a,#2eb37c,#2cb17e,#28ae80,#26ad81,#24aa83,#22a785,#21a585,#1fa287,#1f9f88,#1e9c89,#1f998a,#1f958b,#20928c,#228d8d,#23888e,#25838e,#277e8e,#2a788e,#2c728e,#2e6d8e,#31668e,#355f8d,#39568c,#3d4d8a,#414487,#443983,#472c7a,#481b6d,#460a5d)"></i>
<i style="background:linear-gradient(90deg,#65cb5e,#60ca60,#5cc863,#58c765,#52c569,#4ec36b,#48c16e,#44bf70,#3fbc73,#3bbb75,#38b977,#35b779,#32b67a,#2fb47c,#2cb17e,#29af7f,#26ad81,#24aa83,#22a884,#21a585,#1fa287,#1f9f88,#1e9c89,#1f988b,#1f958b,#21918c,#228d8d,#23888e,#25838e,#277e8e,#2a788e,#2c728e,#2f6c8e,#32658e,#365d8d,#3a548c,#3e4c8a,#424186,#453781,#482979,#481a6c,#46075a)"></i>
<i style="background:linear-gradient(90deg,#67cc5c,#63cb5f,#5ec962,#58c765,#54c568,#50c46a,#4ac16d,#46c06f,#40bd72,#3dbc74,#38b977,#35b779,#34b679,#2fb47c,#2db27d,#29af7f,#26ad81,#25ab82,#22a884,#21a585,#1fa287,#1f9f88,#1e9c89,#1f988b,#1f948c,#21918c,#228d8d,#23888e,#26828e,#287d8e,#2a778e,#2c718e,#2f6b8e,#32648e,#365c8d,#3a538b,#3e4a89,#424086,#463480,#482677,#481769,#450559)"></i>
<i style="background:linear-gradient(90deg,#69cd5b,#65cb5e,#60ca60,#5ac864,#56c667,#52c569,#4cc26c,#46c06f,#42be71,#3dbc74,#3aba76,#37b878,#34b679,#31b57b,#2db27d,#29af7f,#27ad81,#25ab82,#22a884,#21a585,#1fa287,#1f9f88,#1e9c89,#1f988b,#1f948c,#21918c,#228c8d,#24878e,#26828e,#287d8e,#2a768e,#2d718e,#306a8e,#33638d,#375b8d,#3b528b,#3f4889,#433e85,#46337f,#482576,#481467,#440256)"></i>
<i style="background:linear-gradient(90deg,#6ccd5a,#67cc5c,#63cb5f,#5cc863,#58c765,#54c568,#4ec36b,#48c16e,#44bf70,#3fbc73,#3bbb75,#38b977,#35b779,#31b57b,#2eb37c,#2ab07f,#27ad81,#25ab82,#22a884,#21a585,#1fa287,#1f9f88,#1e9c89,#1f988b,#1f948c,#21918c,#228c8d,#24878e,#26828e,#287c8e,#2a768e,#2d708e,#30698e,#33628d,#375a8c,#3c508b,#3f4788,#433d84,#46307e,#482374,#471365,#440154)"></i>
<i style="background:linear-gradient(90deg,#6ece58,#69cd5b,#65cb5e,#5ec962,#5ac864,#56c667,#50c46a,#4ac16d,#44bf70,#40bd72,#3bbb75,#38b977,#35b779,#32b67a,#2eb37c,#2ab07f,#27ad81,#25ab82,#22a884,#21a585,#1fa287,#1f9f88,#1e9c89,#1f988b,#1f948c,#21908d,#228c8d,#24868e,#26828e,#297b8e,#2b758e,#2e6f8e,#31688e,#34618d,#38598c,#3c4f8a,#404588,#443a83,#472e7c,#482071,#471063,#440154)"></i>
<i style="background:linear-gradient(90deg,#70cf57,#6ccd5a,#65cb5e,#60ca60,#5cc863,#56c667,#52c569,#4cc26c,#46c06f,#40bd72,#3dbc74,#3aba76,#37b878,#32b67a,#2eb37c,#2ab07f,#28ae80,#25ac82,#23a983,#21a585,#1fa287,#1f9f88,#1e9c89,#1f988b,#20938c,#21908d,#228b8d,#24868e,#26818e,#297b8e,#2b748e,#2e6e8e,#31678e,#34608d,#39568c,#3d4e8a,#414487,#443983,#472d7b,#481f70,#470d60,#440154)"></i>
<i style="background:linear-gradient(90deg,#75d054,#6ece58,#67cc5c,#63cb5f,#5ec962,#58c765,#52c569,#4ec36b,#48c16e,#42be71,#3fbc73,#3aba76,#37b878,#34b679,#2fb47c,#2cb17e,#28ae80,#25ac82,#23a983,#21a585,#1fa287,#1f9f88,#1e9c89,#1f978b,#20938c,#21908d,#228b8d,#24868e,#26818e,#297a8e,#2c738e,#2e6e8e,#31668e,#355f8d,#39558c,#3e4c8a,#424186,#453781,#472a7a,#481c6e,#460a5d,#440154)"></i>
<i style="background:linear-gradient(90deg,#77d153,#70cf57,#69cd5b,#65cb5e,#60ca60,#5ac864,#54c568,#4ec36b,#48c16e,#44bf70,#3fbc73,#3bbb75,#38b977,#34b679,#2fb47c,#2cb17e,#28ae80,#25ac82,#23a983,#21a585,#1fa287,#1f9f88,#1e9b8a,#1f978b,#20938c,#218f8d,#228b8d,#25858e,#27808e,#297a8e,#2c738e,#2e6d8e,#32658e,#355e8d,#3a548c,#3e4a89,#424086,#463480,#482878,#481a6c,#46075a,#440154)"></i>
<i style="background:linear-gradient(90deg,#7ad151,#73d056,#6ccd5a,#67cc5c,#63cb5f,#5cc863,#56c667,#50c46a,#4ac16d,#44bf70,#40bd72,#3dbc74,#38b977,#35b779,#2fb47c,#2cb17e,#29af7f,#25ac82,#23a983,#21a685,#1fa287,#1f9f88,#1e9b8a,#1f978b,#20938c,#218f8d,#238a8d,#25858e,#27808e,#29798e,#2c728e,#2f6c8e,#32648e,#365d8d,#3a538b,#3f4889,#433e85,#46337f,#482677,#481769,#450559,#440154)"></i>
<i style="background:linear-gradient(90deg,#7cd250,#75d054,#6ece58,#69cd5b,#65cb5e,#5ec962,#58c765,#52c569,#4cc26c,#46c06f,#42be71,#3dbc74,#3aba76,#35b779,#31b57b,#2db27d,#29af7f,#26ad81,#23a983,#21a685,#1fa287,#1f9f88,#1e9b8a,#1f978b,#20928c,#218f8d,#238a8d,#25848e,#277f8e,#2a788e,#2c718e,#2f6b8e,#33638d,#375b8d,#3b518b,#3f4788,#443b84,#46307e,#482475,#481668,#440256,#440154)"></i>
<i style="background:linear-gradient(90deg,#7fd34e,#77d153,#70cf57,#6ccd5a,#67cc5c,#60ca60,#5ac864,#54c568,#4ec36b,#48c16e,#42be71,#3fbc73,#3aba76,#35b779,#31b57b,#2db27d,#29af7f,#26ad81,#23a983,#21a685,#1fa287,#1f9f88,#1e9b8a,#1f978b,#20928c,#218e8d,#23898e,#25848e,#277e8e,#2a788e,#2d718e,#306a8e,#33628d,#375a8c,#3c508b,#404588,#443a83,#472e7c,#482173,#471365,#440154,#440154)"></i>
<i style="background:linear-gradient(90deg,#81d34d,#7ad151,#73d056,#6ece58,#69cd5b,#63cb5f,#5cc863,#54c568,#4ec36b,#4ac16d,#44bf70,#3fbc73,#3bbb75,#37b878,#32b67a,#2db27d,#29af7f,#26ad81,#23a983,#21a685,#1fa287,#1f9f88,#1e9b8a,#1f968b,#20928c,#218e8d,#23898e,#25838e,#277e8e,#2a778e,#2d718e,#30698e,#34618d,#38598c,#3c4f8a,#414487,#453882,#472c7a,#481f70,#471063,#440154,#440154)"></i>
<i style="background:linear-gradient(90deg,#84d44b,#7cd250,#75d054,#70cf57,#6ccd5a,#65cb5e,#5cc863,#56c667,#50c46a,#4ac16d,#44bf70,#40bd72,#3bbb75,#37b878,#32b67a,#2eb37c,#2ab07f,#26ad81,#24aa83,#21a685,#1fa287,#1f9f88,#1e9b8a,#1f968b,#20928c,#218e8d,#23898e,#25838e,#287d8e,#2a768e,#2d708e,#31688e,#34608d,#38588c,#3d4e8a,#414287,#453581,#472a7a,#481c6e,#470d60,#440154,#440154)"></i>
<i style="background:linear-gradient(90deg,#86d549,#7fd34e,#77d153,#73d056,#6ece58,#65cb5e,#5ec962,#58c765,#52c569,#4cc26c,#46c06f,#40bd72,#3dbc74,#38b977,#32b67a,#2eb37c,#2ab07f,#27ad81,#24aa83,#21a685,#1fa287,#1f9f88,#1e9b8a,#1f968b,#20928c,#228d8d,#23888e,#26828e,#287d8e,#2b758e,#2e6f8e,#31678e,#355f8d,#39568c,#3e4c8a,#424086,#463480,#482878,#481a6c,#460a5d,#440154,#440154)"></i>
<i style="background:linear-gradient(90deg,#89d548,#81d34d,#7ad151,#75d054,#70cf57,#67cc5c,#60ca60,#5ac864,#54c568,#4ec36b,#48c16e,#42be71,#3dbc74,#38b977,#34b679,#2eb37c,#2ab07f,#27ad81,#24aa83,#21a685,#1fa287,#1f9f88,#1f9a8a,#1f968b,#20928c,#228d8d,#23888e,#26828e,#287c8e,#2b758e,#2e6e8e,#31678e,#355e8d,#39558c,#3e4a89,#423f85,#46327e,#482576,#48186a,#46085c,#440154,#440154)"></i>
<i style="background:linear-gradient(90deg,#8bd646,#84d44b,#7cd250,#77d153,#70cf57,#69cd5b,#63cb5f,#5ac864,#54c568,#4ec36b,#48c16e,#44bf70,#3fbc73,#38b977,#34b679,#2fb47c,#2cb17e,#27ad81,#24aa83,#21a685,#1fa287,#1f9f88,#1f9a8a,#1f968b,#20928c,#228d8d,#24878e,#26828e,#297b8e,#2b748e,#2e6d8e,#31668e,#365d8d,#3a538b,#3e4989,#433d84,#46307e,#482374,#481668,#450559,#440154,#440154)"></i>
<i style="background:linear-gradient(90deg,#8ed645,#84d44b,#7fd34e,#7ad151,#73d056,#6ccd5a,#65cb5e,#5cc863,#56c667,#50c46a,#4ac16d,#44bf70,#3fbc73,#3aba76,#34b679,#2fb47c,#2cb17e,#27ad81,#24aa83,#21a685,#1fa287,#1f9f88,#1f9a8a,#1f958b,#21918c,#228c8d,#24878e,#26828e,#297b8e,#2c738e,#2e6d8e,#32658e,#365c8d,#3b528b,#3f4788,#443b84,#472e7c,#482071,#471365,#440256,#440154,#440154)"></i>
<i style="background:linear-gradient(90deg,#90d743,#86d549,#81d34d,#7cd250,#75d054,#6ece58,#65cb5e,#5ec962,#58c765,#52c569,#4cc26c,#46c06f,#40bd72,#3aba76,#35b779,#2fb47c,#2cb17e,#27ad81,#24aa83,#21a685,#1fa287,#1f9e89,#1f9a8a,#1f958b,#21918c,#228c8d,#24868e,#26818e,#297a8e,#2c728e,#2f6c8e,#32648e,#375b8d,#3b518b,#404688,#443983,#472c7a,#481d6f,#471063,#440154,#440154,#440154)"></i>
<i style="background:linear-gradient(90deg,#93d741,#89d548,#84d44b,#7fd34e,#77d153,#70cf57,#67cc5c,#60ca60,#58c765,#52c569,#4cc26c,#46c06f,#40bd72,#3bbb75,#35b779,#31b57b,#2db27d,#28ae80,#24aa83,#21a685,#1fa287,#1f9e89,#1f9a8a,#1f958b,#21918c,#228b8d,#24868e,#26818e,#29798e,#2c728e,#2f6b8e,#33638d,#375a8c,#3c508b,#404588,#453882,#472a7a,#481c6e,#470d60,#440154,#440154,#440154)"></i>
<i style="background:linear-gradient(90deg,#95d840,#8bd646,#84d44b,#81d34d,#7ad151,#70cf57,#69cd5b,#60ca60,#5ac864,#54c568,#4ec36b,#48c16e,#42be71,#3bbb75,#35b779,#31b57b,#2db27d,#28ae80,#25ab82,#21a685,#1fa287,#1f9e89,#1f9a8a,#1f958b,#21908d,#228b8d,#25858e,#27808e,#29798e,#2c718e,#306a8e,#33628d,#38598c,#3c4f8a,#414287,#453581,#482878,#481a6c,#460a5d,#440154,#440154,#440154)"></i>
<i style="background:linear-gradient(90deg,#98d83e,#8ed645,#86d549,#84d44b,#7cd250,#73d056,#69cd5b,#63cb5f,#5cc863,#54c568,#4ec36b,#48c16e,#42be71,#3bbb75,#37b878,#31b57b,#2db27d,#28ae80,#25ab82,#21a685,#1fa187,#1f9e89,#1f998a,#1f948c,#21908d,#238a8d,#25858e,#277f8e,#2a788e,#2d718e,#30698e,#34618d,#38588c,#3d4e8a,#424186,#463480,#482576,#481769,#46075a,#440154,#440154,#440154)"></i>
<i style="background:linear-gradient(90deg,#9bd93c,#90d743,#89d548,#86d549,#7fd34e,#75d054,#6ccd5a,#65cb5e,#5cc863,#56c667,#50c46a,#4ac16d,#42be71,#3dbc74,#37b878,#32b67a,#2db27d,#28ae80,#25ab82,#21a685,#1fa187,#1f9e89,#1f998a,#1f948c,#21908d,#238a8d,#25848e,#277f8e,#2a778e,#2d708e,#31688e,#34608d,#39568c,#3e4c8a,#424086,#46327e,#482374,#481467,#450457,#440154,#440154,#440154)"></i>
<i style="background:linear-gradient(90deg,#9dd93b,#93d741,#8bd646,#86d549,#81d34d,#77d153,#6ece58,#65cb5e,#5ec962,#58c765,#52c569,#4ac16d,#44bf70,#3dbc74,#37b878,#32b67a,#2eb37c,#29af7f,#25ab82,#21a685,#1fa187,#1f9e89,#1f998a,#1f948c,#218f8d,#23898e,#25848e,#277e8e,#2a768e,#2e6f8e,#31678e,#355f8d,#39558c,#3e4a89,#433e85,#46307e,#482173,#471164,#440154,#440154,#440154,#440154)"></i>
<i style="background:linear-gradient(90deg,#a0da39,#95d840,#8ed645,#89d548,#81d34d,#77d153,#70cf57,#67cc5c,#60ca60,#58c765,#52c569,#4cc26c,#44bf70,#3fbc73,#38b977,#32b67a,#2eb37c,#29af7f,#25ab82,#21a685,#1fa187,#1f9e89,#1f998a,#1f948c,#218f8d,#23898e,#25838e,#287d8e,#2a768e,#2e6f8e,#31678e,#355e8d,#3a548c,#3e4989,#433d84,#472e7c,#481f70,#470e61,#440154,#440154,#440154,#440154)"></i>
<i style="background:linear-gradient(90deg,#a0da39,#98d83e,#90d743,#8bd646,#84d44b,#7ad151,#70cf57,#69cd5b,#60ca60,#5ac864,#54c568,#4cc26c,#46c06f,#3fbc73,#38b977,#34b679,#2eb37c,#29af7f,#25ab82,#21a685,#1fa187,#1e9d89,#1f998a,#20938c,#218e8d,#23888e,#25838e,#287d8e,#2b758e,#2e6e8e,#31668e,#365d8d,#3a538b,#3f4889,#443b84,#472d7b,#481c6e,#460b5e,#440154,#440154,#440154,#440154)"></i>
<i style="background:linear-gradient(90deg,#a2da37,#9bd93c,#93d741,#8ed645,#86d549,#7cd250,#73d056,#69cd5b,#63cb5f,#5cc863,#54c568,#4ec36b,#46c06f,#3fbc73,#3aba76,#34b679,#2fb47c,#29af7f,#25ab82,#21a685,#1fa187,#1e9d89,#1f998a,#20938c,#218e8d,#23888e,#26828e,#287c8e,#2b748e,#2e6d8e,#32658e,#365c8d,#3b528b,#404688,#443983,#472a7a,#481b6d,#46085c,#440154,#440154,#440154,#440154)"></i>
<i style="background:linear-gradient(90deg,#a5db36,#9bd93c,#95d840,#90d743,#89d548,#7fd34e,#75d054,#6ccd5a,#65cb5e,#5cc863,#56c667,#4ec36b,#48c16e,#40bd72,#3aba76,#35b779,#2fb47c,#29af7f,#25ab82,#21a685,#1fa187,#1e9d89,#1f988b,#20938c,#218e8d,#24878e,#26828e,#297b8e,#2c738e,#2f6c8e,#32648e,#375b8d,#3b518b,#404588,#453882,#482979,#48186a,#46075a,#440154,#440154,#440154,#440154)"></i>
<i style="background:linear-gradient(90deg,#a8db34,#9dd93b,#98d83e,#93d741,#89d548,#7fd34e,#75d054,#6ece58,#65cb5e,#5ec962,#56c667,#50c46a,#48c16e,#40bd72,#3aba76,#35b779,#2fb47c,#2ab07f,#25ab82,#21a685,#1fa187,#1e9d89,#1f988b,#20938c,#228d8d,#24878e,#26828e,#297b8e,#2c728e,#2f6b8e,#33638d,#375a8c,#3c508b,#414487,#453581,#482677,#481668,#450457,#440154,#440154,#440154,#440154)"></i>
<i style="background:linear-gradient(90deg,#aadc32,#a0da39,#98d83e,#95d840,#8bd646,#81d34d,#77d153,#6ece58,#67cc5c,#5ec962,#58c765,#50c46a,#4ac16d,#42be71,#3bbb75,#35b779,#31b57b,#2ab07f,#25ac82,#21a685,#1fa187,#1e9d89,#1f988b,#20928c,#228d8d,#24868e,#26818e,#297a8e,#2c728e,#306a8e,#33628d,#38598c,#3d4e8a,#414287,#463480,#482576,#481467,#440154,#440154,#440154,#440154,#440154)"></i>
<i style="background:linear-gradient(90deg,#addc30,#a2da37,#9bd93c,#95d840,#8ed645,#81d34d,#77d153,#70cf57,#67cc5c,#60ca60,#5ac864,#52c569,#4ac16d,#42be71,#3bbb75,#37b878,#31b57b,#2ab07f,#25ac82,#21a685,#1fa187,#1e9d89,#1f988b,#20928c,#228c8d,#24868e,#27808e,#29798e,#2c718e,#30698e,#34618d,#38588c,#3d4d8a,#424086,#46337f,#482374,#471164,#440154,#440154,#440154,#440154,#440154)"></i>
<i style="background:linear-gradient(90deg,#b0dd2f,#a5db36,#9dd93b,#98d83e,#8ed645,#84d44b,#7ad151,#70cf57,#69cd5b,#63cb5f,#5ac864,#52c569,#4ac16d,#42be71,#3dbc74,#37b878,#31b57b,#2ab07f,#25ac82,#21a685,#1fa188,#1e9d89,#1f988b,#20928c,#228c8d,#25858e,#27808e,#2a788e,#2d718e,#31688e,#34608d,#39568c,#3e4c8a,#423f85,#46307e,#482071,#470e61,#440154,#440154,#440154,#440154,#440154)"></i>
<i style="background:linear-gradient(90deg,#b2dd2d,#a8db34,#a0da39,#9bd93c,#90d743,#86d549,#7cd250,#73d056,#6ccd5a,#63cb5f,#5cc863,#54c568,#4cc26c,#44bf70,#3dbc74,#37b878,#31b57b,#2ab07f,#25ac82,#21a685,#1fa188,#1e9d89,#1f988b,#20928c,#228c8d,#25848e,#277f8e,#2a788e,#2d708e,#31678e,#355f8d,#39558c,#3e4a89,#433e85,#472f7d,#481f70,#470d60,#440154,#440154,#440154,#440154,#440154)"></i>
<i style="background:linear-gradient(90deg,#b5de2b,#aadc32,#a2da37,#9bd93c,#93d741,#86d549,#7cd250,#75d054,#6ccd5a,#65cb5e,#5cc863,#54c568,#4cc26c,#44bf70,#3dbc74,#38b977,#32b67a,#2cb17e,#25ac82,#21a685,#1fa188,#1e9d89,#1f988b,#20928c,#228b8d,#25848e,#277e8e,#2a778e,#2e6f8e,#31668e,#355e8d,#3a548c,#3e4989,#433d84,#472d7b,#481c6e,#460a5d,#440154,#440154,#440154,#440154,#440154)"></i>
<i style="background:linear-gradient(90deg,#b8de29,#addc30,#a5db36,#9dd93b,#93d741,#89d548,#7fd34e,#75d054,#6ece58,#65cb5e,#5ec962,#56c667,#4ec36b,#46c06f,#3fbc73,#38b977,#32b67a,#2cb17e,#25ac82,#21a685,#1fa187,#1e9d89,#1f978b,#20928c,#228b8d,#25838e,#287d8e,#2a768e,#2e6e8e,#31668e,#365d8d,#3a538b,#3f4889,#443a83,#472c7a,#481b6d,#46075a,#440154,#440154,#440154,#440154,#440154)"></i>
<i style="background:linear-gradient(90deg,#bade28,#b0dd2f,#a5db36,#a0da39,#95d840,#89d548,#7fd34e,#77d153,#6ece58,#67cc5c,#5ec962,#56c667,#4ec36b,#46c06f,#3fbc73,#38b977,#32b67a,#2cb17e,#25ac82,#21a685,#1fa187,#1e9d89,#1f978b,#20928c,#228b8d,#25838e,#287d8e,#2b758e,#2e6e8e,#32658e,#365c8d,#3b528b,#3f4788,#443983,#482979,#48186a,#450559,#440154,#440154,#440154,#440154,#440154)"></i>
<i style="background:linear-gradient(90deg,#bddf26,#b2dd2d,#a8db34,#a0da39,#95d840,#8bd646,#81d34d,#77d153,#70cf57,#67cc5c,#60ca60,#58c765,#50c46a,#46c06f,#3fbc73,#3aba76,#32b67a,#2cb17e,#25ac82,#21a685,#1fa187,#1e9d89,#1f978b,#20928c,#238a8d,#26828e,#287c8e,#2b758e,#2e6d8e,#32648e,#375b8d,#3b518b,#404688,#453882,#482878,#481668,#440256,#440154,#440154,#440154,#440154,#440154)"></i>
<i style="background:linear-gradient(90deg,#c0df25,#b5de2b,#aadc32,#a2da37,#98d83e,#8bd646,#81d34d,#7ad151,#70cf57,#69cd5b,#60ca60,#58c765,#50c46a,#48c16e,#40bd72,#3aba76,#32b67a,#2cb17e,#25ac82,#22a785,#1fa187,#1e9d89,#1f978b,#20928c,#238a8d,#26828e,#287c8e,#2b748e,#2f6c8e,#33638d,#375a8c,#3c508b,#404588,#453781,#482576,#481467,#440154,#440154,#440154,#440154,#440154,#440154)"></i>
<i style="background:linear-gradient(90deg,#c2df23,#b8de29,#addc30,#a2da37,#98d83e,#8ed645,#84d44b,#7ad151,#73d056,#6ccd5a,#63cb5f,#5ac864,#50c46a,#48c16e,#40bd72,#3aba76,#32b67a,#2cb17e,#25ac82,#22a785,#1fa187,#1e9d89,#1f978b,#21918c,#238a8d,#26828e,#297b8e,#2c738e,#2f6b8e,#33628d,#38598c,#3c4f8a,#414287,#463480,#482475,#471164,#440154,#440154,#440154,#440154,#440154,#440154)"></i>
<i style="background:linear-gradient(90deg,#c5e021,#b8de29,#b0dd2f,#a5db36,#9bd93c,#8ed645,#84d44b,#7cd250,#75d054,#6ccd5a,#63cb5f,#5ac864,#52c569,#48c16e,#40bd72,#3aba76,#32b67a,#2cb17e,#25ac82,#22a785,#1fa187,#1e9d89,#1f978b,#21918c,#238a8d,#26828e,#297b8e,#2c738e,#2f6b8e,#34618d,#38588c,#3d4e8a,#424186,#46337f,#482374,#471063,#440154,#440154,#440154,#440154,#440154,#440154)"></i>
<i style="background:linear-gradient(90deg,#c5e021,#bade28,#b0dd2f,#a8db34,#9bd93c,#90d743,#86d549,#7cd250,#75d054,#6ece58,#65cb5e,#5cc863,#52c569,#4ac16d,#40bd72,#3aba76,#32b67a,#2cb17e,#25ac82,#22a785,#1fa287,#1e9d89,#1f978b,#21918c,#23898e,#26828e,#297a8e,#2c728e,#306a8e,#34608d,#39568c,#3d4d8a,#424086,#46327e,#482071,#470d60,#440154,#440154,#440154,#440154,#440154,#440154)"></i>
<i style="background:linear-gradient(90deg,#c8e020,#bddf26,#b2dd2d,#a8db34,#9dd93b,#90d743,#86d549,#7fd34e,#77d153,#6ece58,#65cb5e,#5cc863,#54c568,#4ac16d,#42be71,#3aba76,#32b67a,#2cb17e,#25ac82,#22a785,#1fa287,#1e9d89,#1f978b,#21918c,#23898e,#26828e,#297a8e,#2c718e,#30698e,#34608d,#39558c,#3e4c8a,#423f85,#472f7d,#481f70,#460a5d,#440154,#440154,#440154,#440154,#440154,#440154)"></i>
<i style="background:linear-gradient(90deg,#cae11f,#c0df25,#b5de2b,#aadc32,#9dd93b,#93d741,#89d548,#81d34d,#77d153,#70cf57,#67cc5c,#5cc863,#54c568,#4ac16d,#42be71,#3aba76,#32b67a,#2cb17e,#25ac82,#22a785,#1fa287,#1e9d89,#1f968b,#21908d,#23898e,#26818e,#29798e,#2c718e,#31688e,#355f8d,#3a548c,#3e4a89,#433e85,#472e7c,#481c6e,#46085c,#440154,#440154,#440154,#440154,#440154,#440154)"></i>
<i style="background:linear-gradient(90deg,#cde11d,#c2df23,#b8de29,#aadc32,#a0da39,#93d741,#89d548,#81d34d,#7ad151,#70cf57,#67cc5c,#5ec962,#54c568,#4cc26c,#42be71,#3aba76,#32b67a,#2cb17e,#25ac82,#22a785,#1fa287,#1e9d89,#1f968b,#21908d,#23888e,#26818e,#29798e,#2d718e,#31688e,#355e8d,#3a538b,#3e4989,#433d84,#472d7b,#481b6d,#450559,#440154,#440154,#440154,#440154,#440154,#440154)"></i>
<i style="background:linear-gradient(90deg,#d0e11c,#c5e021,#b8de29,#addc30,#a0da39,#95d840,#8bd646,#84d44b,#7ad151,#73d056,#69cd5b,#5ec962,#56c667,#4cc26c,#42be71,#3aba76,#32b67a,#2cb17e,#25ac82,#22a785,#1fa287,#1e9d89,#1f968b,#21908d,#23888e,#26818e,#2a788e,#2d708e,#31678e,#365d8d,#3b528b,#3f4788,#443b84,#472c7a,#48186a,#450457,#440154,#440154,#440154,#440154,#440154,#440154)"></i>
<i style="background:linear-gradient(90deg,#d2e21b,#c5e021,#bade28,#addc30,#a2da37,#95d840,#8bd646,#84d44b,#7cd250,#73d056,#69cd5b,#60ca60,#56c667,#4cc26c,#42be71,#3aba76,#32b67a,#2cb17e,#25ac82,#22a785,#1fa287,#1e9d89,#1f968b,#218f8d,#23888e,#26818e,#2a788e,#2d708e,#31668e,#365c8d,#3b518b,#404688,#443983,#482979,#481769,#440154,#440154,#440154,#440154,#440154,#440154,#440154)"></i>
<i style="background:linear-gradient(90deg,#d5e21a,#c8e020,#bddf26,#b0dd2f,#a2da37,#95d840,#8ed645,#86d549,#7cd250,#75d054,#69cd5b,#60ca60,#56c667,#4cc26c,#42be71,#3aba76,#32b67a,#2cb17e,#25ac82,#22a785,#1fa287,#1e9d89,#1f958b,#218f8d,#24878e,#27808e,#2a778e,#2e6f8e,#32658e,#375b8d,#3c508b,#404588,#453882,#482878,#481467,#440154,#440154,#440154,#440154,#440154,#440154,#440154)"></i>
<i style="background:linear-gradient(90deg,#d8e219,#cae11f,#bddf26,#b2dd2d,#a5db36,#98d83e,#8ed645,#86d549,#7fd34e,#75d054,#6ccd5a,#60ca60,#58c765,#4ec36b,#42be71,#3aba76,#32b67a,#2ab07f,#25ac82,#21a685,#1fa287,#1e9d89,#1f958b,#218e8d,#24878e,#27808e,#2a778e,#2e6e8e,#32658e,#375a8c,#3c4f8a,#414487,#453781,#482677,#471365,#440154,#440154,#440154,#440154,#440154,#440154,#440154)"></i>
<i style="background:linear-gradient(90deg,#dae319,#cde11d,#c0df25,#b2dd2d,#a5db36,#98d83e,#90d743,#89d548,#7fd34e,#75d054,#6ccd5a,#63cb5f,#58c765,#4ec36b,#42be71,#3aba76,#32b67a,#2ab07f,#25ac82,#21a685,#1fa287,#1e9c89,#1f958b,#218e8d,#24868e,#277f8e,#2a768e,#2e6e8e,#32648e,#38598c,#3d4e8a,#414287,#463480,#482475,#471063,#440154,#440154,#440154,#440154,#440154,#440154,#440154)"></i>
<i style="background:linear-gradient(90deg,#dde318,#d0e11c,#c2df23,#b5de2b,#a8db34,#9bd93c,#90d743,#89d548,#81d34d,#77d153,#6ece58,#63cb5f,#58c765,#4ec36b,#44bf70,#3aba76,#32b67a,#2ab07f,#25ab82,#21a685,#1fa187,#1e9c89,#1f948c,#228d8d,#24868e,#277f8e,#2b758e,#2e6d8e,#33638d,#38588c,#3d4d8a,#424086,#46337f,#482374,#470e61,#440154,#440154,#440154,#440154,#440154,#440154,#440154)"></i>
<i style="background:linear-gradient(90deg,#dde318,#d2e21b,#c2df23,#b5de2b,#a8db34,#9bd93c,#93d741,#8bd646,#81d34d,#77d153,#6ece58,#65cb5e,#5ac864,#4ec36b,#44bf70,#3aba76,#32b67a,#2ab07f,#25ab82,#21a685,#1fa187,#1e9c89,#1f948c,#228d8d,#25858e,#277e8e,#2b758e,#2f6c8e,#33628d,#39568c,#3e4c8a,#423f85,#46327e,#482071,#470d60,#440154,#440154,#440154,#440154,#440154,#440154,#440154)"></i>
<i style="background:linear-gradient(90deg,#dfe318,#d2e21b,#c5e021,#b8de29,#aadc32,#9dd93b,#93d741,#8bd646,#84d44b,#7ad151,#70cf57,#65cb5e,#5ac864,#4ec36b,#44bf70,#3aba76,#32b67a,#2ab07f,#25ab82,#21a585,#1fa188,#1e9b8a,#20938c,#228c8d,#25858e,#277e8e,#2b748e,#2f6b8e,#34618d,#39558c,#3e4a89,#433e85,#472f7d,#481f70,#460a5d,#440154,#440154,#440154,#440154,#440154,#440154,#440154)"></i>
<i style="background:linear-gradient(90deg,#e2e418,#d5e21a,#c8e020,#b8de29,#aadc32,#9dd93b,#95d840,#8ed645,#84d44b,#7ad151,#70cf57,#65cb5e,#5ac864,#4ec36b,#44bf70,#3aba76,#31b57b,#2ab07f,#25ab82,#21a585,#1fa188,#1e9b8a,#20938c,#228c8d,#25848e,#287d8e,#2c738e,#2f6b8e,#34608d,#3a548c,#3e4989,#443b84,#472e7c,#481d6f,#46085c,#440154,#440154,#440154,#440154,#440154,#440154,#440154)"></i>
<i style="background:linear-gradient(90deg,#e5e419,#d8e219,#c8e020,#bade28,#addc30,#a0da39,#95d840,#8ed645,#86d549,#7cd250,#70cf57,#67cc5c,#5ac864,#50c46a,#44bf70,#3aba76,#31b57b,#29af7f,#25ab82,#21a585,#1fa088,#1f9a8a,#20928c,#228b8d,#25838e,#287c8e,#2c728e,#306a8e,#355f8d,#3a538b,#3f4788,#443a83,#472c7a,#481b6d,#450559,#440154,#440154,#440154,#440154,#440154,#440154,#440154)"></i>
<i style="background:linear-gradient(90deg,#e7e419,#dae319,#cae11f,#bddf26,#addc30,#a0da39,#98d83e,#90d743,#86d549,#7cd250,#73d056,#67cc5c,#5cc863,#50c46a,#44bf70,#3aba76,#31b57b,#29af7f,#24aa83,#20a486,#1fa088,#1f9a8a,#20928c,#238a8d,#25838e,#297b8e,#2c728e,#30698e,#355e8d,#3b528b,#404688,#443983,#472a7a,#481a6c,#450457,#440154,#440154,#440154,#440154,#440154,#440154,#440154)"></i>
<i style="background:linear-gradient(90deg,#eae51a,#dae319,#cde11d,#bddf26,#b0dd2f,#a2da37,#98d83e,#90d743,#86d549,#7cd250,#73d056,#67cc5c,#5cc863,#50c46a,#44bf70,#3aba76,#31b57b,#29af7f,#24aa83,#20a486,#1f9f88,#1f998a,#20928c,#238a8d,#26828e,#297a8e,#2c718e,#31688e,#365d8d,#3b518b,#404588,#453781,#482878,#481769,#440154,#440154,#440154,#440154,#440154,#440154,#440154,#440154)"></i>
<i style="background:linear-gradient(90deg,#ece51b,#dde318,#cde11d,#c0df25,#b0dd2f,#a2da37,#98d83e,#93d741,#89d548,#7fd34e,#75d054,#69cd5b,#5cc863,#50c46a,#44bf70,#3aba76,#31b57b,#29af7f,#24aa83,#20a486,#1f9f88,#1f988b,#21918c,#23898e,#26828e,#29798e,#2d718e,#31678e,#365c8d,#3c508b,#414487,#453581,#482677,#481668,#440154,#440154,#440154,#440154,#440154,#440154,#440154,#440154)"></i>
<i style="background:linear-gradient(90deg,#efe51c,#dfe318,#d0e11c,#c0df25,#b2dd2d,#a5db36,#9bd93c,#93d741,#89d548,#7fd34e,#75d054,#69cd5b,#5ec962,#50c46a,#44bf70,#38b977,#2fb47c,#29af7f,#23a983,#20a386,#1f9e89,#1f988b,#21908d,#23888e,#26818e,#2a788e,#2d708e,#31668e,#375b8d,#3c4f8a,#414287,#463480,#482475,#471365,#440154,#440154,#440154,#440154,#440154,#440154,#440154,#440154)"></i>
<i style="background:linear-gradient(90deg,#efe51c,#e2e418,#d2e21b,#c2df23,#b2dd2d,#a5db36,#9bd93c,#93d741,#89d548,#7fd34e,#75d054,#69cd5b,#5ec962,#50c46a,#44bf70,#38b977,#2fb47c,#28ae80,#23a983,#20a386,#1f9e89,#1f978b,#21908d,#24878e,#27808e,#2a778e,#2e6f8e,#32658e,#375a8c,#3d4e8a,#424086,#46327e,#482374,#471164,#440154,#440154,#440154,#440154,#440154,#440154,#440154,#440154)"></i>
<i style="background:linear-gradient(90deg,#f1e51d,#e5e419,#d2e21b,#c2df23,#b5de2b,#a8db34,#9dd93b,#93d741,#8bd646,#81d34d,#77d153,#6ccd5a,#5ec962,#52c569,#44bf70,#38b977,#2fb47c,#28ae80,#23a983,#1fa287,#1e9d89,#1f968b,#218f8d,#24868e,#277f8e,#2a768e,#2e6e8e,#32648e,#38598c,#3d4d8a,#423f85,#46307e,#482071,#470e61,#440154,#440154,#440154,#440154,#440154,#440154,#440154,#440154)"></i>
<i style="background:linear-gradient(90deg,#f4e61e,#e5e419,#d5e21a,#c5e021,#b5de2b,#a8db34,#9dd93b,#95d840,#8bd646,#81d34d,#77d153,#6ccd5a,#5ec962,#52c569,#44bf70,#38b977,#2fb47c,#28ae80,#23a983,#1fa287,#1e9c89,#1f958b,#218e8d,#25858e,#277e8e,#2b758e,#2f6c8e,#33628d,#38588c,#3e4a89,#433e85,#472e7c,#481f70,#470d60,#440154,#440154,#440154,#440154,#440154,#440154,#440154,#440154)"></i>
<i style="background:linear-gradient(90deg,#f6e620,#e7e419,#d8e219,#c5e021,#b8de29,#aadc32,#9dd93b,#95d840,#8bd646,#81d34d,#77d153,#6ece58,#60ca60,#52c569,#44bf70,#38b977,#2fb47c,#28ae80,#22a884,#1fa287,#1e9c89,#1f958b,#228d8d,#25858e,#287d8e,#2b748e,#2f6b8e,#34618d,#39558c,#3e4989,#443b84,#472d7b,#481c6e,#460a5d,#440154,#440154,#440154,#440154,#440154,#440154,#440154,#440154)"></i>
<i style="background:linear-gradient(90deg,#f8e621,#eae51a,#d8e219,#c8e020,#b8de29,#aadc32,#a0da39,#95d840,#8bd646,#84d44b,#7ad151,#6ece58,#60ca60,#52c569,#44bf70,#38b977,#2eb37c,#27ad81,#22a884,#1fa187,#1e9b8a,#1f948c,#228c8d,#25848e,#287c8e,#2c738e,#306a8e,#34608d,#3a548c,#3f4889,#443a83,#472a7a,#481b6d,#46085c,#440154,#440154,#440154,#440154,#440154,#440154,#440154,#440154)"></i>
<i style="background:linear-gradient(90deg,#fbe723,#ece51b,#dae319,#cae11f,#bade28,#aadc32,#a0da39,#95d840,#8bd646,#84d44b,#7ad151,#6ece58,#60ca60,#52c569,#44bf70,#38b977,#2eb37c,#27ad81,#22a884,#1fa187,#1e9b8a,#20938c,#228c8d,#25838e,#297b8e,#2c728e,#30698e,#355f8d,#3a538b,#3f4788,#443983,#482979,#48186a,#450559,#440154,#440154,#440154,#440154,#440154,#440154,#440154,#440154)"></i>
<i style="background:linear-gradient(90deg,#fde725,#ece51b,#dde318,#cae11f,#bade28,#addc30,#a0da39,#98d83e,#8ed645,#84d44b,#7ad151,#70cf57,#60ca60,#52c569,#44bf70,#37b878,#2eb37c,#27ad81,#22a785,#1fa188,#1f9a8a,#20938c,#228b8d,#26828e,#297a8e,#2c718e,#31688e,#365d8d,#3b518b,#404588,#453781,#482677,#481668,#440256,#440154,#440154,#440154,#440154,#440154,#440154,#440154,#440154)"></i>
<i style="background:linear-gradient(90deg,#fde725,#efe51c,#dde318,#cde11d,#bddf26,#addc30,#a2da37,#98d83e,#8ed645,#84d44b,#7cd250,#70cf57,#63cb5f,#52c569,#44bf70,#37b878,#2eb37c,#26ad81,#22a785,#1fa188,#1f9a8a,#20928c,#238a8d,#26828e,#29798e,#2d718e,#31668e,#365c8d,#3c508b,#414487,#453581,#482576,#481467,#440154,#440154,#440154,#440154,#440154,#440154,#440154,#440154,#440154)"></i>
<i style="background:linear-gradient(90deg,#fde725,#f1e51d,#dfe318,#cde11d,#bddf26,#b0dd2f,#a2da37,#98d83e,#8ed645,#86d549,#7cd250,#70cf57,#63cb5f,#52c569,#42be71,#37b878,#2db27d,#26ad81,#22a785,#1fa188,#1f998a,#20928c,#23898e,#26818e,#2a788e,#2e6f8e,#32658e,#375b8d,#3c4f8a,#424186,#46337f,#482374,#471164,#440154,#440154,#440154,#440154,#440154,#440154,#440154,#440154,#440154)"></i>
<i style="background:linear-gradient(90deg,#fde725,#f4e61e,#e2e418,#d0e11c,#c0df25,#b0dd2f,#a2da37,#98d83e,#8ed645,#86d549,#7cd250,#73d056,#63cb5f,#52c569,#42be71,#37b878,#2db27d,#26ad81,#21a685,#1fa088,#1f998a,#21918c,#23888e,#27808e,#2a778e,#2e6e8e,#32648e,#38598c,#3d4d8a,#424086,#46327e,#482173,#470e61,#440154,#440154,#440154,#440154,#440154,#440154,#440154,#440154,#440154)"></i>
<i style="background:linear-gradient(90deg,#fde725,#f6e620,#e2e418,#d0e11c,#c0df25,#b2dd2d,#a5db36,#98d83e,#8ed645,#86d549,#7fd34e,#73d056,#63cb5f,#54c568,#42be71,#37b878,#2db27d,#26ad81,#21a685,#1fa088,#1f988b,#21918c,#24878e,#277f8e,#2a768e,#2e6d8e,#33638d,#38588c,#3e4c8a,#433e85,#472f7d,#481f70,#470d60,#440154,#440154,#440154,#440154,#440154,#440154,#440154,#440154,#440154)"></i>
<i style="background:linear-gradient(90deg,#fde725,#f6e620,#e5e419,#d2e21b,#c2df23,#b2dd2d,#a5db36,#9bd93c,#8ed645,#86d549,#7fd34e,#73d056,#65cb5e,#54c568,#42be71,#35b779,#2db27d,#25ac82,#21a685,#1f9f88,#1f978b,#21908d,#24878e,#277e8e,#2b758e,#2f6c8e,#34618d,#39568c,#3e4989,#433d84,#472e7c,#481c6e,#460a5d,#440154,#440154,#440154,#440154,#440154,#440154,#440154,#440154,#440154)"></i>
<i style="background:linear-gradient(90deg,#fde725,#f8e621,#e7e419,#d2e21b,#c2df23,#b2dd2d,#a5db36,#9bd93c,#90d743,#86d549,#81d34d,#75d054,#65cb5e,#54c568,#42be71,#35b779,#2db27d,#25ac82,#21a585,#1f9f88,#1f978b,#218f8d,#24868e,#287d8e,#2b748e,#2f6b8e,#34608d,#3a548c,#3f4889,#443a83,#472c7a,#481b6d,#46075a,#440154,#440154,#440154,#440154,#440154,#440154,#440154,#440154,#440154)"></i>
<i style="background:linear-gradient(90deg,#fde725,#fbe723,#e7e419,#d5e21a,#c5e021,#b5de2b,#a8db34,#9bd93c,#90d743,#89d548,#81d34d,#75d054,#65cb5e,#54c568,#42be71,#35b779,#2cb17e,#25ac82,#21a585,#1f9f88,#1f968b,#218e8d,#25858e,#287c8e,#2c738e,#306a8e,#355f8d,#3a538b,#404688,#443983,#472a7a,#48186a,#450457,#440154,#440154,#440154,#440154,#440154,#440154,#440154,#440154,#440154)"></i>
<i style="background:linear-gradient(90deg,#fde725,#fde725,#eae51a,#d8e219,#c5e021,#b5de2b,#a8db34,#9bd93c,#90d743,#89d548,#81d34d,#75d054,#65cb5e,#54c568,#42be71,#35b779,#2cb17e,#25ac82,#21a585,#1f9e89,#1f968b,#218e8d,#25848e,#297b8e,#2c728e,#31688e,#355e8d,#3b528b,#404588,#453781,#482878,#481668,#440256,#440154,#440154,#440154,#440154,#440154,#440154,#440154,#440154,#440154)"></i>
<i style="background:linear-gradient(90deg,#fde725,#fde725,#ece51b,#d8e219,#c8e020,#b8de29,#a8db34,#9bd93c,#90d743,#89d548,#84d44b,#77d153,#67cc5c,#54c568,#42be71,#35b779,#2cb17e,#25ab82,#21a585,#1f9e89,#1f958b,#228d8d,#25838e,#297a8e,#2c718e,#31678e,#365c8d,#3c508b,#414287,#453581,#482576,#481467,#440154,#440154,#440154,#440154,#440154,#440154,#440154,#440154,#440154,#440154)"></i>
<i style="background:linear-gradient(90deg,#fde725,#fde725,#ece51b,#dae319,#c8e020,#b8de29,#aadc32,#9dd93b,#90d743,#89d548,#84d44b,#77d153,#67cc5c,#54c568,#42be71,#35b779,#2cb17e,#25ab82,#20a486,#1e9d89,#1f958b,#228c8d,#25838e,#297a8e,#2d718e,#31668e,#375b8d,#3c4f8a,#424186,#46337f,#482475,#471164,#440154,#440154,#440154,#440154,#440154,#440154,#440154,#440154,#440154,#440154)"></i>
<i style="background:linear-gradient(90deg,#fde725,#fde725,#efe51c,#dae319,#cae11f,#bade28,#aadc32,#9dd93b,#90d743,#8bd646,#86d549,#7ad151,#67cc5c,#54c568,#42be71,#34b679,#2ab07f,#25ab82,#20a486,#1e9d89,#1f948c,#228c8d,#26828e,#29798e,#2d708e,#32658e,#375a8c,#3d4d8a,#423f85,#46327e,#482173,#470e61,#440154,#440154,#440154,#440154,#440154,#440154,#440154,#440154,#440154,#440154)"></i>
<i style="background:linear-gradient(90deg,#fde725,#fde725,#f1e51d,#dde318,#cae11f,#bade28,#aadc32,#9dd93b,#90d743,#8bd646,#86d549,#7ad151,#67cc5c,#54c568,#42be71,#34b679,#2ab07f,#25ab82,#20a486,#1e9c89,#20938c,#228b8d,#26828e,#2a788e,#2e6f8e,#32648e,#38598c,#3e4c8a,#433e85,#472f7d,#481f70,#470d60,#440154,#440154,#440154,#440154,#440154,#440154,#440154,#440154,#440154,#440154)"></i>
<i style="background:linear-gradient(90deg,#fde725,#fde725,#f1e51d,#dfe318,#cde11d,#bade28,#addc30,#9dd93b,#93d741,#8bd646,#89d548,#7ad151,#67cc5c,#54c568,#42be71,#34b679,#2ab07f,#24aa83,#20a386,#1e9c89,#20938c,#238a8d,#26818e,#2a778e,#2e6e8e,#33638d,#39568c,#3e4a89,#443b84,#472d7b,#481d6f,#460a5d,#440154,#440154,#440154,#440154,#440154,#440154,#440154,#440154,#440154,#440154)"></i>
<i style="background:linear-gradient(90deg,#fde725,#fde725,#f4e61e,#dfe318,#cde11d,#bddf26,#addc30,#a0da39,#93d741,#8ed645,#89d548,#7cd250,#69cd5b,#54c568,#42be71,#34b679,#2ab07f,#24aa83,#20a386,#1e9c89,#20928c,#23898e,#27808e,#2a768e,#2e6d8e,#33628d,#39558c,#3f4889,#443a83,#472c7a,#481b6d,#46075a,#440154,#440154,#440154,#440154,#440154,#440154,#440154,#440154,#440154,#440154)"></i>
<i style="background:linear-gradient(90deg,#fde725,#fde725,#f6e620,#e2e418,#d0e11c,#bddf26,#addc30,#a0da39,#93d741,#8ed645,#8bd646,#7cd250,#69cd5b,#54c568,#42be71,#34b679,#2ab07f,#24aa83,#20a386,#1e9b8a,#20928c,#23898e,#277f8e,#2b758e,#2f6c8e,#34608d,#3a548c,#3f4788,#453882,#482979,#481a6c,#450559,#440154,#440154,#440154,#440154,#440154,#440154,#440154,#440154,#440154,#440154)"></i>
<i style="background:linear-gradient(90deg,#fde725,#fde725,#f6e620,#e2e418,#d0e11c,#c0df25,#b0dd2f,#a0da39,#95d840,#8ed645,#8bd646,#7cd250,#69cd5b,#54c568,#42be71,#34b679,#29af7f,#24aa83,#1fa287,#1e9b8a,#20928c,#23888e,#277f8e,#2b748e,#2f6b8e,#355f8d,#3a538b,#404688,#453781,#482878,#481769,#440256,#440154,#440154,#440154,#440154,#440154,#440154,#440154,#440154,#440154,#440154)"></i>
<i style="background:linear-gradient(90deg,#fde725,#fde725,#f8e621,#e5e419,#d2e21b,#c0df25,#b0dd2f,#a2da37,#95d840,#90d743,#8bd646,#7fd34e,#69cd5b,#54c568,#42be71,#34b679,#29af7f,#23a983,#1fa287,#1f9a8a,#21918c,#24878e,#277e8e,#2c738e,#306a8e,#355e8d,#3b518b,#414487,#453581,#482576,#481467,#440154,#440154,#440154,#440154,#440154,#440154,#440154,#440154,#440154,#440154,#440154)"></i>
<i style="background:linear-gradient(90deg,#fde725,#fde725,#fbe723,#e5e419,#d2e21b,#c2df23,#b2dd2d,#a2da37,#95d840,#90d743,#8ed645,#7fd34e,#69cd5b,#56c667,#42be71,#34b679,#29af7f,#23a983,#1fa187,#1f9a8a,#21918c,#24868e,#287d8e,#2c728e,#30698e,#365d8d,#3c508b,#414287,#46337f,#482374,#471365,#440154,#440154,#440154,#440154,#440154,#440154,#440154,#440154,#440154,#440154,#440154)"></i>
<i style="background:linear-gradient(90deg,#fde725,#fde725,#fbe723,#e7e419,#d5e21a,#c2df23,#b2dd2d,#a2da37,#98d83e,#93d741,#8ed645,#7fd34e,#69cd5b,#56c667,#42be71,#32b67a,#29af7f,#23a983,#1fa187,#1f998a,#21908d,#24868e,#287c8e,#2c718e,#31688e,#365c8d,#3c4f8a,#424086,#46327e,#482173,#471063,#440154,#440154,#440154,#440154,#440154,#440154,#440154,#440154,#440154,#440154,#440154)"></i>
<i style="background:linear-gradient(90deg,#fde725,#fde725,#fde725,#eae51a,#d5e21a,#c5e021,#b2dd2d,#a5db36,#98d83e,#93d741,#90d743,#7fd34e,#69cd5b,#56c667,#40bd72,#32b67a,#29af7f,#22a884,#1fa187,#1f998a,#21908d,#25858e,#297b8e,#2c718e,#31668e,#375b8d,#3d4e8a,#423f85,#472f7d,#481f70,#470d60,#440154,#440154,#440154,#440154,#440154,#440154,#440154,#440154,#440154,#440154,#440154)"></i>
<i style="background:linear-gradient(90deg,#fde725,#fde725,#fde725,#eae51a,#d8e219,#c5e021,#b5de2b,#a5db36,#9bd93c,#95d840,#90d743,#7fd34e,#6ccd5a,#56c667,#40bd72,#32b67a,#28ae80,#22a884,#1fa188,#1f988b,#218f8d,#25848e,#297a8e,#2d718e,#32658e,#375a8c,#3e4c8a,#433e85,#472e7c,#481d6f,#460b5e,#440154,#440154,#440154,#440154,#440154,#440154,#440154,#440154,#440154,#440154,#440154)"></i>
</div>
<div id="cb"></div>
<svg width="520" height="404" viewBox="0 0 520 404">
<defs><clipPath id="cp"><rect x="65.25" y="6.5" width="327.25" height="340.5"/></clipPath></defs>
<g clip-path="url(#cp)" fill="none" stroke="#fff" stroke-width="3.7">
<path d="M65.2 81.5 L67.2 80.9 L69.1 80.2 L71.1 79.5 L73.0 78.8 L74.8 78.0 L76.7 77.1 L78.5 76.2 L80.4 75.3 L82.2 74.3 L83.9 73.3 L85.7 72.2 L87.4 71.1 L89.1 69.9 L90.8 68.8 L92.4 67.5 L94.0 66.3 L95.6 65.0 L97.2 63.7 L98.7 62.3 L100.2 60.9 L101.7 59.5 L103.1 58.1 L104.6 56.6 L106.0 55.1 L107.3 53.6 L108.7 52.0 L110.0 50.5 L111.3 48.9 L112.5 47.3 L113.8 45.6 L115.0 44.0 L116.2 42.3 L117.3 40.6 L118.5 38.9 L119.6 37.2 L120.7 35.5 L121.7 33.7 L122.8 32.0 L123.8 30.2 L124.8 28.4 L125.7 26.6 L126.7 24.8 L127.6 22.9 L128.5 21.1 L129.3 19.2 L130.2 17.4 L131.0 15.5 L131.8 13.6 L132.6 11.7 L133.4 9.8 L134.1 7.9 L134.8 6.0" stroke-dasharray="20.81 4.39 3.80 4.39" stroke-dashoffset="0.33"/>
<path d="M65.2 145.5 L67.3 145.2 L69.3 144.9 L71.3 144.6 L73.3 144.3 L75.3 143.9 L77.3 143.6 L79.3 143.2 L81.3 142.8 L83.3 142.4 L85.3 142.0 L87.2 141.6 L89.2 141.1 L91.2 140.6 L93.2 140.2 L95.1 139.6 L97.1 139.1 L99.1 138.6 L101.0 138.0 L103.0 137.5 L104.9 136.9 L106.8 136.2 L108.8 135.6 L110.7 135.0 L112.6 134.3 L114.5 133.6 L116.4 132.9 L118.3 132.1 L120.2 131.4 L122.1 130.6 L123.9 129.8 L125.8 128.9 L127.6 128.1 L129.4 127.2 L131.3 126.3 L133.1 125.3 L134.9 124.4 L136.6 123.4 L138.4 122.4 L140.1 121.3 L141.9 120.2 L143.6 119.1 L145.2 118.0 L146.9 116.8 L148.6 115.6 L150.2 114.4 L151.8 113.2 L153.3 111.9 L154.9 110.6 L156.4 109.2 L157.9 107.8 L159.3 106.4 L160.8 105.0 L162.2 103.5 L163.5 102.0 L164.9 100.4 L166.2 98.9 L167.4 97.3 L168.7 95.7 L169.9 94.1 L171.1 92.4 L172.2 90.7 L173.3 89.0 L174.4 87.3 L175.5 85.6 L176.5 83.8 L177.5 82.1 L178.5 80.3 L179.4 78.5 L180.3 76.7 L181.2 74.8 L182.1 73.0 L182.9 71.2 L183.7 69.3 L184.5 67.4 L185.2 65.5 L186.0 63.6 L186.7 61.7 L187.3 59.8 L188.0 57.9 L188.6 55.9 L189.2 54.0 L189.8 52.1 L190.3 50.1 L190.9 48.1 L191.4 46.2 L191.9 44.2 L192.3 42.2 L192.8 40.2 L193.2 38.2 L193.6 36.2 L193.9 34.3 L194.3 32.3 L194.6 30.2 L194.9 28.2 L195.2 26.2 L195.5 24.2 L195.7 22.2 L196.0 20.2 L196.2 18.2 L196.4 16.1 L196.5 14.1 L196.7 12.1 L196.8 10.1 L196.9 8.0 L197.0 6.0" stroke-dasharray="3.80 4.55" stroke-dashoffset="0.33"/>
<path d="M65.3 175.3 L67.3 175.1 L69.3 175.0 L71.3 174.8 L73.3 174.7 L75.3 174.5 L77.3 174.4 L79.3 174.2 L81.3 174.1 L83.4 173.9 L85.4 173.8 L87.4 173.6 L89.4 173.5 L91.4 173.3 L93.4 173.1 L95.4 172.9 L97.4 172.8 L99.4 172.6 L101.4 172.4 L103.5 172.1 L105.5 171.9 L107.5 171.7 L109.5 171.5 L111.5 171.2 L113.5 170.9 L115.5 170.7 L117.5 170.4 L119.5 170.1 L121.5 169.8 L123.4 169.5 L125.4 169.1 L127.4 168.8 L129.4 168.4 L131.4 168.0 L133.4 167.6 L135.3 167.2 L137.3 166.8 L139.3 166.3 L141.2 165.8 L143.2 165.3 L145.1 164.8 L147.1 164.3 L149.0 163.8 L151.0 163.2 L152.9 162.6 L154.8 162.0 L156.7 161.3 L158.6 160.7 L160.5 160.0 L162.4 159.3 L164.3 158.6 L166.2 157.8 L168.0 157.0 L169.9 156.2 L171.7 155.3 L173.5 154.5 L175.3 153.6 L177.1 152.6 L178.9 151.7 L180.6 150.7 L182.4 149.6 L184.1 148.6 L185.8 147.5 L187.4 146.3 L189.1 145.2 L190.7 144.0 L192.3 142.7 L193.9 141.5 L195.4 140.1 L196.9 138.8 L198.4 137.4 L199.8 136.0 L201.2 134.5 L202.6 133.1 L203.9 131.5 L205.2 130.0 L206.5 128.4 L207.7 126.8 L208.9 125.2 L210.0 123.5 L211.2 121.9 L212.2 120.2 L213.3 118.4 L214.3 116.7 L215.3 114.9 L216.2 113.1 L217.1 111.3 L217.9 109.5 L218.8 107.7 L219.5 105.8 L220.3 103.9 L221.0 102.0 L221.6 100.1 L222.3 98.2 L222.8 96.3 L223.4 94.3 L223.9 92.4 L224.4 90.4 L224.8 88.5 L225.2 86.5 L225.6 84.5 L226.0 82.5 L226.3 80.5 L226.6 78.5 L226.9 76.5 L227.1 74.5 L227.4 72.5 L227.6 70.5 L227.8 68.5 L227.9 66.5 L228.1 64.5 L228.2 62.5 L228.3 60.5 L228.4 58.4 L228.5 56.4 L228.6 54.4 L228.6 52.4 L228.7 50.4 L228.7 48.4 L228.7 46.3 L228.7 44.3 L228.7 42.3 L228.7 40.3 L228.7 38.3 L228.7 36.3 L228.7 34.2 L228.7 32.2 L228.7 30.2 L228.7 28.2 L228.7 26.2 L228.6 24.2 L228.6 22.1 L228.6 20.1 L228.6 18.1 L228.6 16.1 L228.6 14.1 L228.6 12.1 L228.7 10.0 L228.7 8.0 L228.7 6.0" stroke-dasharray="12.30 4.39" stroke-dashoffset="0.33"/>
<path d="M264.5 6.0 L264.9 8.0 L265.3 10.0 L265.7 12.0 L266.0 14.0 L266.4 15.9 L266.8 17.9 L267.2 19.9 L267.6 21.9 L268.0 23.9 L268.4 25.9 L268.9 27.8 L269.3 29.8 L269.7 31.8 L270.1 33.8 L270.5 35.8 L270.9 37.8 L271.3 39.7 L271.8 41.7 L272.2 43.7 L272.6 45.7 L273.0 47.7 L273.4 49.6 L273.9 51.6 L274.3 53.6 L274.7 55.6 L275.1 57.6 L275.5 59.5 L276.0 61.5 L276.4 63.5 L276.8 65.5 L277.2 67.5 L277.6 69.5 L278.1 71.4 L278.5 73.4 L278.9 75.4 L279.3 77.4 L279.7 79.4 L280.1 81.3 L280.5 83.3 L280.9 85.3 L281.3 87.3 L281.7 89.3 L282.1 91.3 L282.5 93.3 L282.9 95.2 L283.3 97.2 L283.7 99.2 L284.1 101.2 L284.5 103.2 L284.8 105.2 L285.2 107.2 L285.6 109.2 L286.1 111.1 L286.5 113.1 L286.9 115.1 L287.4 117.1 L287.9 119.0 L288.4 121.0 L289.0 122.9 L289.5 124.9 L290.1 126.8 L290.8 128.7 L291.5 130.6 L292.2 132.5 L293.0 134.4 L293.8 136.2 L294.7 138.1 L295.6 139.9 L296.6 141.6 L297.7 143.4 L298.8 145.0 L300.0 146.7 L301.2 148.3 L302.5 149.8 L303.9 151.3 L305.3 152.7 L306.8 154.1 L308.4 155.4 L309.9 156.7 L311.6 157.9 L313.3 159.0 L315.0 160.0 L316.8 161.0 L318.6 161.9 L320.4 162.8 L322.3 163.6 L324.2 164.3 L326.1 164.9 L328.1 165.5 L330.0 165.9 L332.0 166.4 L334.0 166.7 L336.0 167.1 L338.0 167.3 L340.0 167.5 L342.0 167.7 L344.1 167.8 L346.1 167.9 L348.1 167.9 L350.1 167.9 L352.1 167.9 L354.2 167.8 L356.2 167.7 L358.2 167.6 L360.2 167.4 L362.3 167.3 L364.3 167.1 L366.3 166.9 L368.3 166.7 L370.3 166.5 L372.3 166.3 L374.3 166.1 L376.4 165.9 L378.4 165.6 L380.4 165.4 L382.4 165.2 L384.4 165.1 L386.4 164.9 L388.5 164.7 L390.5 164.6 L392.5 164.5" stroke-dasharray="12.30 4.39" stroke-dashoffset="0.33"/>
<path d="M290.5 6.0 L291.0 8.0 L291.4 10.0 L291.9 11.9 L292.4 13.9 L292.9 15.9 L293.4 17.9 L293.9 19.9 L294.4 21.8 L294.9 23.8 L295.4 25.8 L295.9 27.7 L296.4 29.7 L297.0 31.7 L297.5 33.6 L298.1 35.6 L298.7 37.5 L299.2 39.5 L299.8 41.4 L300.4 43.4 L301.0 45.3 L301.6 47.3 L302.3 49.2 L302.9 51.1 L303.6 53.1 L304.2 55.0 L304.9 56.9 L305.6 58.8 L306.3 60.7 L307.1 62.6 L307.8 64.5 L308.6 66.4 L309.3 68.3 L310.1 70.2 L310.9 72.1 L311.8 73.9 L312.6 75.8 L313.5 77.6 L314.4 79.4 L315.3 81.3 L316.2 83.1 L317.1 84.9 L318.1 86.7 L319.1 88.5 L320.1 90.2 L321.1 92.0 L322.2 93.7 L323.3 95.5 L324.4 97.2 L325.5 98.9 L326.6 100.5 L327.8 102.2 L329.0 103.8 L330.3 105.5 L331.5 107.1 L332.8 108.6 L334.1 110.2 L335.5 111.7 L336.8 113.2 L338.3 114.7 L339.7 116.2 L341.1 117.6 L342.6 119.0 L344.2 120.3 L345.7 121.6 L347.3 122.9 L348.9 124.2 L350.5 125.4 L352.2 126.5 L353.9 127.6 L355.7 128.7 L357.4 129.7 L359.2 130.7 L361.0 131.6 L362.9 132.5 L364.7 133.3 L366.6 134.1 L368.5 134.8 L370.4 135.5 L372.4 136.1 L374.4 136.6 L376.3 137.1 L378.3 137.5 L380.3 137.9 L382.3 138.1 L384.4 138.4 L386.4 138.6 L388.4 138.7 L390.5 138.7 L392.5 138.8" stroke-dasharray="3.80 4.55" stroke-dashoffset="0.33"/>
<path d="M327.5 6.0 L328.4 7.8 L329.2 9.7 L330.1 11.5 L331.0 13.4 L331.8 15.2 L332.7 17.1 L333.5 19.0 L334.4 20.8 L335.2 22.7 L336.1 24.5 L337.0 26.4 L337.8 28.2 L338.7 30.1 L339.6 31.9 L340.5 33.7 L341.4 35.6 L342.3 37.4 L343.2 39.2 L344.1 41.1 L345.0 42.9 L346.0 44.7 L347.0 46.5 L347.9 48.3 L348.9 50.0 L349.9 51.8 L351.0 53.6 L352.0 55.3 L353.1 57.1 L354.2 58.8 L355.3 60.5 L356.5 62.2 L357.6 63.9 L358.8 65.5 L360.0 67.1 L361.3 68.8 L362.6 70.4 L363.9 71.9 L365.2 73.5 L366.6 75.0 L368.0 76.5 L369.4 78.0 L370.8 79.4 L372.3 80.8 L373.8 82.2 L375.4 83.5 L377.0 84.8 L378.6 86.0 L380.2 87.2 L381.9 88.4 L383.6 89.5 L385.3 90.6 L387.1 91.7 L388.9 92.7 L390.7 93.6 L392.5 94.5" stroke-dasharray="20.81 4.39 3.80 4.39" stroke-dashoffset="0.33"/>
<path d="M392.5 194.0 L390.6 194.6 L388.6 195.2 L386.7 195.9 L384.8 196.6 L382.9 197.3 L381.0 198.0 L379.1 198.7 L377.2 199.5 L375.3 200.2 L373.4 201.0 L371.6 201.9 L369.7 202.7 L367.9 203.6 L366.1 204.4 L364.2 205.3 L362.4 206.3 L360.6 207.2 L358.8 208.2 L357.0 209.1 L355.3 210.1 L353.5 211.1 L351.8 212.2 L350.0 213.2 L348.3 214.3 L346.6 215.4 L344.9 216.5 L343.2 217.6 L341.5 218.7 L339.8 219.9 L338.2 221.1 L336.5 222.2 L334.9 223.4 L333.2 224.7 L331.6 225.9 L330.0 227.1 L328.4 228.4 L326.8 229.7 L325.3 231.0 L323.7 232.3 L322.2 233.6 L320.6 234.9 L319.1 236.3 L317.6 237.6 L316.1 239.0 L314.6 240.4 L313.1 241.8 L311.7 243.2 L310.2 244.6 L308.8 246.1 L307.3 247.5 L305.9 249.0 L304.5 250.4 L303.1 251.9 L301.7 253.4 L300.4 254.9 L299.0 256.4 L297.7 257.9 L296.3 259.4 L295.0 261.0 L293.7 262.5 L292.4 264.1 L291.1 265.7 L289.8 267.2 L288.5 268.8 L287.2 270.4 L286.0 272.0 L284.7 273.6 L283.5 275.2 L282.3 276.9 L281.1 278.5 L279.9 280.1 L278.7 281.8 L277.5 283.4 L276.3 285.1 L275.2 286.7 L274.0 288.4 L272.9 290.1 L271.7 291.8 L270.6 293.5 L269.5 295.2 L268.4 296.9 L267.3 298.6 L264.9 302.1 L266.2 306.8 L263.6 310.6 L262.5 312.4 L261.3 314.1 L260.0 315.8 L258.7 317.5 L257.4 319.1 L256.0 320.7 L254.6 322.3 L253.2 323.8 L251.8 325.4 L250.4 326.9 L249.0 328.5 L247.6 330.1 L246.2 331.7 L244.9 333.3 L243.5 334.9 L242.3 336.6 L241.0 338.3 L239.9 340.0 L238.8 341.8 L237.8 343.7 L236.8 345.6 L236.0 347.5" stroke-dasharray="12.30 4.39" stroke-dashoffset="0.33"/>
<path d="M392.5 214.0 L390.7 214.9 L388.9 215.8 L387.1 216.7 L385.3 217.7 L383.5 218.6 L381.7 219.6 L379.9 220.6 L378.2 221.6 L376.4 222.7 L374.7 223.7 L372.9 224.8 L371.2 225.9 L369.5 227.0 L367.8 228.1 L366.1 229.2 L364.4 230.4 L362.8 231.5 L361.1 232.7 L359.4 233.9 L357.8 235.1 L356.2 236.3 L354.5 237.5 L352.9 238.8 L351.3 240.0 L349.7 241.3 L348.2 242.5 L346.6 243.8 L345.0 245.1 L343.5 246.4 L341.9 247.8 L340.4 249.1 L338.9 250.5 L337.4 251.8 L335.9 253.2 L334.4 254.5 L332.9 255.9 L331.4 257.3 L329.9 258.7 L328.5 260.1 L327.0 261.6 L325.6 263.0 L324.1 264.4 L322.7 265.9 L321.3 267.3 L319.9 268.8 L318.4 270.3 L317.0 271.7 L315.7 273.2 L314.3 274.7 L312.9 276.2 L311.5 277.7 L310.2 279.2 L308.8 280.7 L307.4 282.2 L306.1 283.8 L304.8 285.3 L303.4 286.8 L302.1 288.4 L300.8 289.9 L299.4 291.4 L298.1 293.0 L296.8 294.6 L295.5 296.1 L294.2 297.7 L292.9 299.2 L291.6 300.8 L290.3 302.4 L289.1 304.0 L287.8 305.5 L286.5 307.1 L285.2 308.7 L283.9 310.3 L282.7 311.9 L281.4 313.5 L280.1 315.0 L278.9 316.6 L277.6 318.2 L276.4 319.8 L275.1 321.4 L273.8 323.0 L272.6 324.6 L271.3 326.2 L270.1 327.8 L268.8 329.4 L267.6 331.0 L266.3 332.6 L265.1 334.2 L263.8 335.8 L262.6 337.4 L261.3 339.0 L260.0 340.6 L258.8 342.2 L257.5 343.8 L256.3 345.4 L255.0 347.0" stroke-dasharray="3.80 4.55" stroke-dashoffset="0.33"/>
<path d="M392.5 242.0 L390.8 243.1 L389.1 244.3 L387.4 245.4 L385.8 246.6 L384.1 247.8 L382.4 249.0 L380.8 250.2 L379.2 251.4 L377.5 252.6 L375.9 253.9 L374.3 255.1 L372.7 256.4 L371.1 257.7 L369.6 259.0 L368.0 260.3 L366.4 261.6 L364.9 262.9 L363.3 264.2 L361.8 265.6 L360.3 266.9 L358.7 268.3 L357.2 269.6 L355.7 271.0 L354.2 272.4 L352.7 273.8 L351.2 275.2 L349.8 276.6 L348.3 278.0 L346.8 279.4 L345.4 280.9 L343.9 282.3 L342.5 283.7 L341.0 285.2 L339.6 286.6 L338.2 288.1 L336.7 289.5 L335.3 291.0 L333.9 292.5 L332.5 293.9 L331.1 295.4 L329.7 296.9 L328.3 298.4 L326.9 299.8 L325.5 301.3 L324.1 302.8 L322.7 304.3 L321.3 305.8 L319.9 307.3 L318.5 308.8 L317.1 310.3 L315.8 311.8 L314.4 313.3 L313.0 314.8 L311.6 316.3 L310.2 317.8 L308.9 319.3 L307.5 320.8 L306.1 322.3 L304.7 323.8 L303.3 325.3 L301.9 326.8 L300.6 328.3 L299.2 329.8 L297.8 331.3 L296.4 332.8 L295.0 334.3 L293.6 335.7 L292.2 337.2 L290.8 338.7 L289.4 340.2 L288.0 341.6 L286.6 343.1 L285.2 344.6 L283.7 346.0 L282.3 347.5" stroke-dasharray="20.81 4.39 3.80 4.39" stroke-dashoffset="0.33"/>
<path d="M209.3 347.5 L212.5 337.7 L214.6 333.5 L219.2 322.9 L221.0 320.0 L219.5 316.9 L226.0 311.3 L229.6 306.6 L230.1 301.3 L226.6 296.5 L227.4 291.2 L229.0 280.0 L229.5 278.0 L229.9 276.0 L230.3 274.0 L230.5 272.0 L230.7 270.0 L230.8 268.0 L230.9 265.9 L230.8 263.9 L230.7 261.9 L230.5 259.8 L230.2 257.8 L229.8 255.8 L229.3 253.9 L228.7 251.9 L228.0 250.0 L227.2 248.1 L226.3 246.3 L225.3 244.6 L224.1 242.9 L222.8 241.3 L221.4 239.8 L219.9 238.4 L218.4 237.1 L216.7 235.9 L215.0 234.8 L213.3 233.8 L211.5 232.8 L209.7 231.9 L207.8 231.0 L206.0 230.2 L204.1 229.5 L202.2 228.8 L200.2 228.1 L198.3 227.5 L196.4 226.9 L194.4 226.3 L192.4 225.8 L190.5 225.2 L188.5 224.7 L186.5 224.2 L184.6 223.8 L182.6 223.3 L180.6 222.9 L178.6 222.4 L176.6 222.0 L174.6 221.7 L172.6 221.3 L170.6 220.9 L168.6 220.6 L166.6 220.3 L164.6 220.0 L162.6 219.7 L160.5 219.4 L158.5 219.1 L156.5 218.9 L154.5 218.6 L152.5 218.4 L150.4 218.2 L148.4 218.0 L146.4 217.8 L144.4 217.6 L142.3 217.4 L140.3 217.3 L138.3 217.1 L136.3 216.9 L134.2 216.8 L132.2 216.6 L130.2 216.5 L128.1 216.4 L126.1 216.2 L124.1 216.1 L122.0 216.0 L120.0 215.9 L118.0 215.8 L116.0 215.6 L113.9 215.5 L111.9 215.4 L109.9 215.3 L107.8 215.2 L105.8 215.1 L103.8 215.0 L101.7 214.8 L99.7 214.7 L97.7 214.6 L95.6 214.5 L93.6 214.3 L91.6 214.2 L89.6 214.1 L87.5 213.9 L85.5 213.8 L83.5 213.6 L81.4 213.4 L79.4 213.3 L77.4 213.1 L75.4 212.9 L73.3 212.7 L71.3 212.5 L69.3 212.2 L67.3 212.0 L65.3 211.7" stroke-dasharray="12.30 4.39" stroke-dashoffset="3.93"/>
<path d="M67.5 239.8L71.5 240.4"/>
<path d="M76.0 241.1L80.0 241.9"/>
<path d="M83.8 242.8L87.8 243.6"/>
<path d="M91.8 244.7L95.8 245.5"/>
<path d="M99.7 246.4L103.7 247.2"/>
<path d="M107.7 247.9L111.7 248.7"/>
<path d="M115.9 249.9L119.7 250.9"/>
<path d="M124.1 251.9L127.9 253.1"/>
<path d="M132.1 254.7L135.9 255.9"/>
<path d="M140.2 257.3L144.0 258.7"/>
<path d="M147.7 260.4L151.3 262.0"/>
<path d="M155.1 263.9L158.7 265.7"/>
<path d="M163.0 267.9L166.4 270.1"/>
<path d="M168.4 272.0L171.2 274.8"/>
<path d="M173.6 277.9L176.0 281.1"/>
<path d="M178.8 285.0L181.4 288.0"/>
<path d="M184.9 290.9L187.9 293.5"/>
<path d="M191.4 295.7L193.0 299.3"/>
<path d="M192.7 303.0L191.7 306.8"/>
<path d="M188.7 309.3L188.5 313.3"/>
<path d="M192.2 313.6L191.2 317.4"/>
<path d="M187.3 317.9L185.5 321.5"/>
<path d="M186.6 323.4L186.2 327.4"/>
<path d="M185.8 329.3L185.0 333.3"/>
<path d="M184.6 334.6L184.0 338.6"/>
<path d="M183.9 341.0L183.5 345.0"/>
<circle cx="203.5" cy="319.9" r="1.8" fill="#fff" stroke="none"/>
<circle cx="143.8" cy="313.0" r="2.1" fill="#fff" stroke="none"/>
<circle cx="103.4" cy="302.6" r="2.5" fill="#fff" stroke="none"/>
<path d="M65.2 279.6 L69.0 281.5" stroke-linejoin="round" stroke-width="4.0"/>
<path d="M78.9 286.0 L88.0 288.5 L97.9 292.4" stroke-linejoin="round" stroke-width="4.0"/>
<path d="M102.4 300.2 L107.0 306.0 L113.7 310.3" stroke-linejoin="round" stroke-width="4.0"/>
<path d="M125.3 316.6 L123.4 321.5 L124.2 326.5 L129.5 331.3" stroke-linejoin="round" stroke-width="4.0"/>
<path d="M131.8 340.2 L134.5 343.3 L140.0 345.0 L146.5 345.6" stroke-linejoin="round" stroke-width="4.0"/>
<circle cx="72.6" cy="284.6" r="2.2" fill="#fff" stroke="none"/>
<circle cx="103.2" cy="296.6" r="2.2" fill="#fff" stroke="none"/>
<circle cx="120.0" cy="314.3" r="2.2" fill="#fff" stroke="none"/>
<circle cx="136.8" cy="334.5" r="2.2" fill="#fff" stroke="none"/>
</g>
<path d="M65.25 347.00v-7.0M98.09 347.00v-3.6M117.30 347.00v-3.6M130.92 347.00v-3.6M141.50 347.00v-3.6M150.13 347.00v-3.6M157.44 347.00v-3.6M163.76 347.00v-3.6M169.34 347.00v-3.6M174.33 347.00v-7.0M207.17 347.00v-3.6M226.38 347.00v-3.6M240.01 347.00v-3.6M250.58 347.00v-3.6M259.22 347.00v-3.6M266.52 347.00v-3.6M272.85 347.00v-3.6M278.43 347.00v-3.6M283.42 347.00v-7.0M316.25 347.00v-3.6M335.46 347.00v-3.6M349.09 347.00v-3.6M359.66 347.00v-3.6M368.30 347.00v-3.6M375.60 347.00v-3.6M381.93 347.00v-3.6M387.51 347.00v-3.6M392.50 347.00v-7M65.25 347.00h7.0M65.25 283.00h3.6M65.25 245.56h3.6M65.25 219.00h3.6M65.25 198.40h3.6M65.25 181.57h3.6M65.25 167.33h3.6M65.25 155.00h3.6M65.25 144.13h3.6M65.25 134.40h7.0M65.25 70.40h3.6M65.25 32.96h3.6M65.25 6.40h3.6M430.60 6.50h-7.0M430.60 17.85h-3.6M430.60 29.20h-3.6M430.60 40.55h-3.6M430.60 51.90h-3.6M430.60 63.25h-7.0M430.60 74.60h-3.6M430.60 85.95h-3.6M430.60 97.30h-3.6M430.60 108.65h-3.6M430.60 120.00h-7.0M430.60 131.35h-3.6M430.60 142.70h-3.6M430.60 154.05h-3.6M430.60 165.40h-3.6M430.60 176.75h-7.0M430.60 188.10h-3.6M430.60 199.45h-3.6M430.60 210.80h-3.6M430.60 222.15h-3.6M430.60 233.50h-7.0M430.60 244.85h-3.6M430.60 256.20h-3.6M430.60 267.55h-3.6M430.60 278.90h-3.6M430.60 290.25h-7.0M430.60 301.60h-3.6M430.60 312.95h-3.6M430.60 324.30h-3.6M430.60 335.65h-3.6M430.60 347.00h-7.0" stroke="#000" stroke-width="1.3" fill="none"/>
<rect x="65.25" y="6.5" width="327.25" height="340.5" fill="none" stroke="#000" stroke-width="1.8"/>
<rect x="412.6" y="6.5" width="18.0" height="340.5" fill="none" stroke="#000" stroke-width="1.8"/>
<g class="k">
<text class="sr" font-size="20.50" transform="translate(52.15,369.40) scale(0.931,1)" x="-1.60" y="0">10</text>
<text class="sr" font-size="14.00" transform="translate(71.75,362.40) scale(1.180,1)" x="-0.44" y="0">0</text>
<text class="sr" font-size="20.50" transform="translate(161.23,369.40) scale(0.931,1)" x="-1.60" y="0">10</text>
<text class="sr" font-size="14.00" transform="translate(180.83,362.40) scale(1.180,1)" x="-1.09" y="0">1</text>
<text class="sr" font-size="20.50" transform="translate(270.32,369.40) scale(0.931,1)" x="-1.60" y="0">10</text>
<text class="sr" font-size="14.00" transform="translate(289.92,362.40) scale(1.180,1)" x="-0.44" y="0">2</text>
<text class="sr" font-size="20.50" transform="translate(379.40,369.40) scale(0.931,1)" x="-1.60" y="0">10</text>
<text class="sr" font-size="14.00" transform="translate(399.00,362.40) scale(1.180,1)" x="-0.66" y="0">3</text>
<text class="sr" font-size="20.50" transform="translate(30.60,354.50) scale(0.942,1)" x="-1.60" y="0">10</text>
<text class="sr" font-size="14.00" transform="translate(49.20,347.30) scale(1.180,1)" x="-0.44" y="0">0</text>
<text class="sr" font-size="20.50" transform="translate(30.60,141.90) scale(0.942,1)" x="-1.60" y="0">10</text>
<text class="sr" font-size="14.00" transform="translate(51.20,134.70) scale(1.180,1)" x="-1.09" y="0">1</text>
<text class="sr" font-size="20.50" transform="translate(438.00,13.90) scale(1.032,1)" x="-0.64" y="0">0.15</text>
<text class="sr" font-size="20.50" transform="translate(438.00,70.65) scale(1.032,1)" x="-0.64" y="0">0.10</text>
<text class="sr" font-size="20.50" transform="translate(438.00,127.40) scale(1.032,1)" x="-0.64" y="0">0.05</text>
<text class="sr" font-size="20.50" transform="translate(438.00,184.15) scale(1.032,1)" x="-0.64" y="0">0.00</text>
<text class="sr" font-size="20.50" transform="translate(439.5,240.90) scale(1.038,1)" x="-0.96 13.33" dy="1.3 -1.3">−0.05</text>
<text class="sr" font-size="20.50" transform="translate(439.5,297.65) scale(1.038,1)" x="-0.96 13.33" dy="1.3 -1.3">−0.10</text>
<text class="sr" font-size="20.50" transform="translate(439.5,354.40) scale(1.038,1)" x="-0.96 13.33" dy="1.3 -1.3">−0.15</text>
</g>
<text class="si" font-size="19.00" transform="translate(184.60,398.70) scale(1.108,1)" x="0.59" y="0" stroke="#000" stroke-width="0.3">ρ</text><text class="s" font-size="20.50" transform="translate(203.20,399.20) scale(0.694,1)" x="-0.96" y="0" stroke="#000" stroke-width="0.85">(</text><text class="s" font-size="15.50" transform="translate(211.00,399) scale(1.120,1)" stroke="#000" stroke-width="0.55" x="-0.48">g<tspan font-size="26" x="9.46" dy="4" stroke-width="0.2">/</tspan><tspan x="17.64 26.08" dy="-4">cm</tspan><tspan font-size="10.8" x="41.63" dy="-6.4" stroke-width="0.3">3</tspan></text><text class="s" font-size="20.50" transform="translate(268.20,399.20) scale(0.694,1)" x="0.00" y="0" stroke="#000" stroke-width="0.85">)</text>
<g transform="translate(16.1,213) rotate(-90)">
<text class="si" font-size="20.00" transform="translate(0.50,0.00) scale(1.182,1)" x="-1.25" y="0" stroke="#000" stroke-width="0.25">T</text><text class="s" font-size="20.50" transform="translate(24.60,0.20) scale(0.694,1)" x="-0.96" y="0" stroke="#000" stroke-width="0.85">(</text><text class="s" font-size="16.00" transform="translate(31.60,0.00) scale(1.050,1)" x="-1.00 8.64 18.76" y="0" stroke="#000" stroke-width="0.55">keV</text><text class="s" font-size="20.50" transform="translate(65.00,0.20) scale(0.694,1)" x="0.00" y="0" stroke="#000" stroke-width="0.85">)</text>
</g>
<g transform="translate(515,210) rotate(-90)">
<text class="si" font-size="20.50" stroke="#000" stroke-width="0.25" x="1.48 10.84 22.54" y="0">δρλ<tspan font-style="normal" font-size="30" x="33.30" dy="3.4" stroke-width="0.4">/</tspan><tspan x="44.64 56.34" dy="-3.4">ρλ</tspan></text>
</g>
</svg>
</body></html>
